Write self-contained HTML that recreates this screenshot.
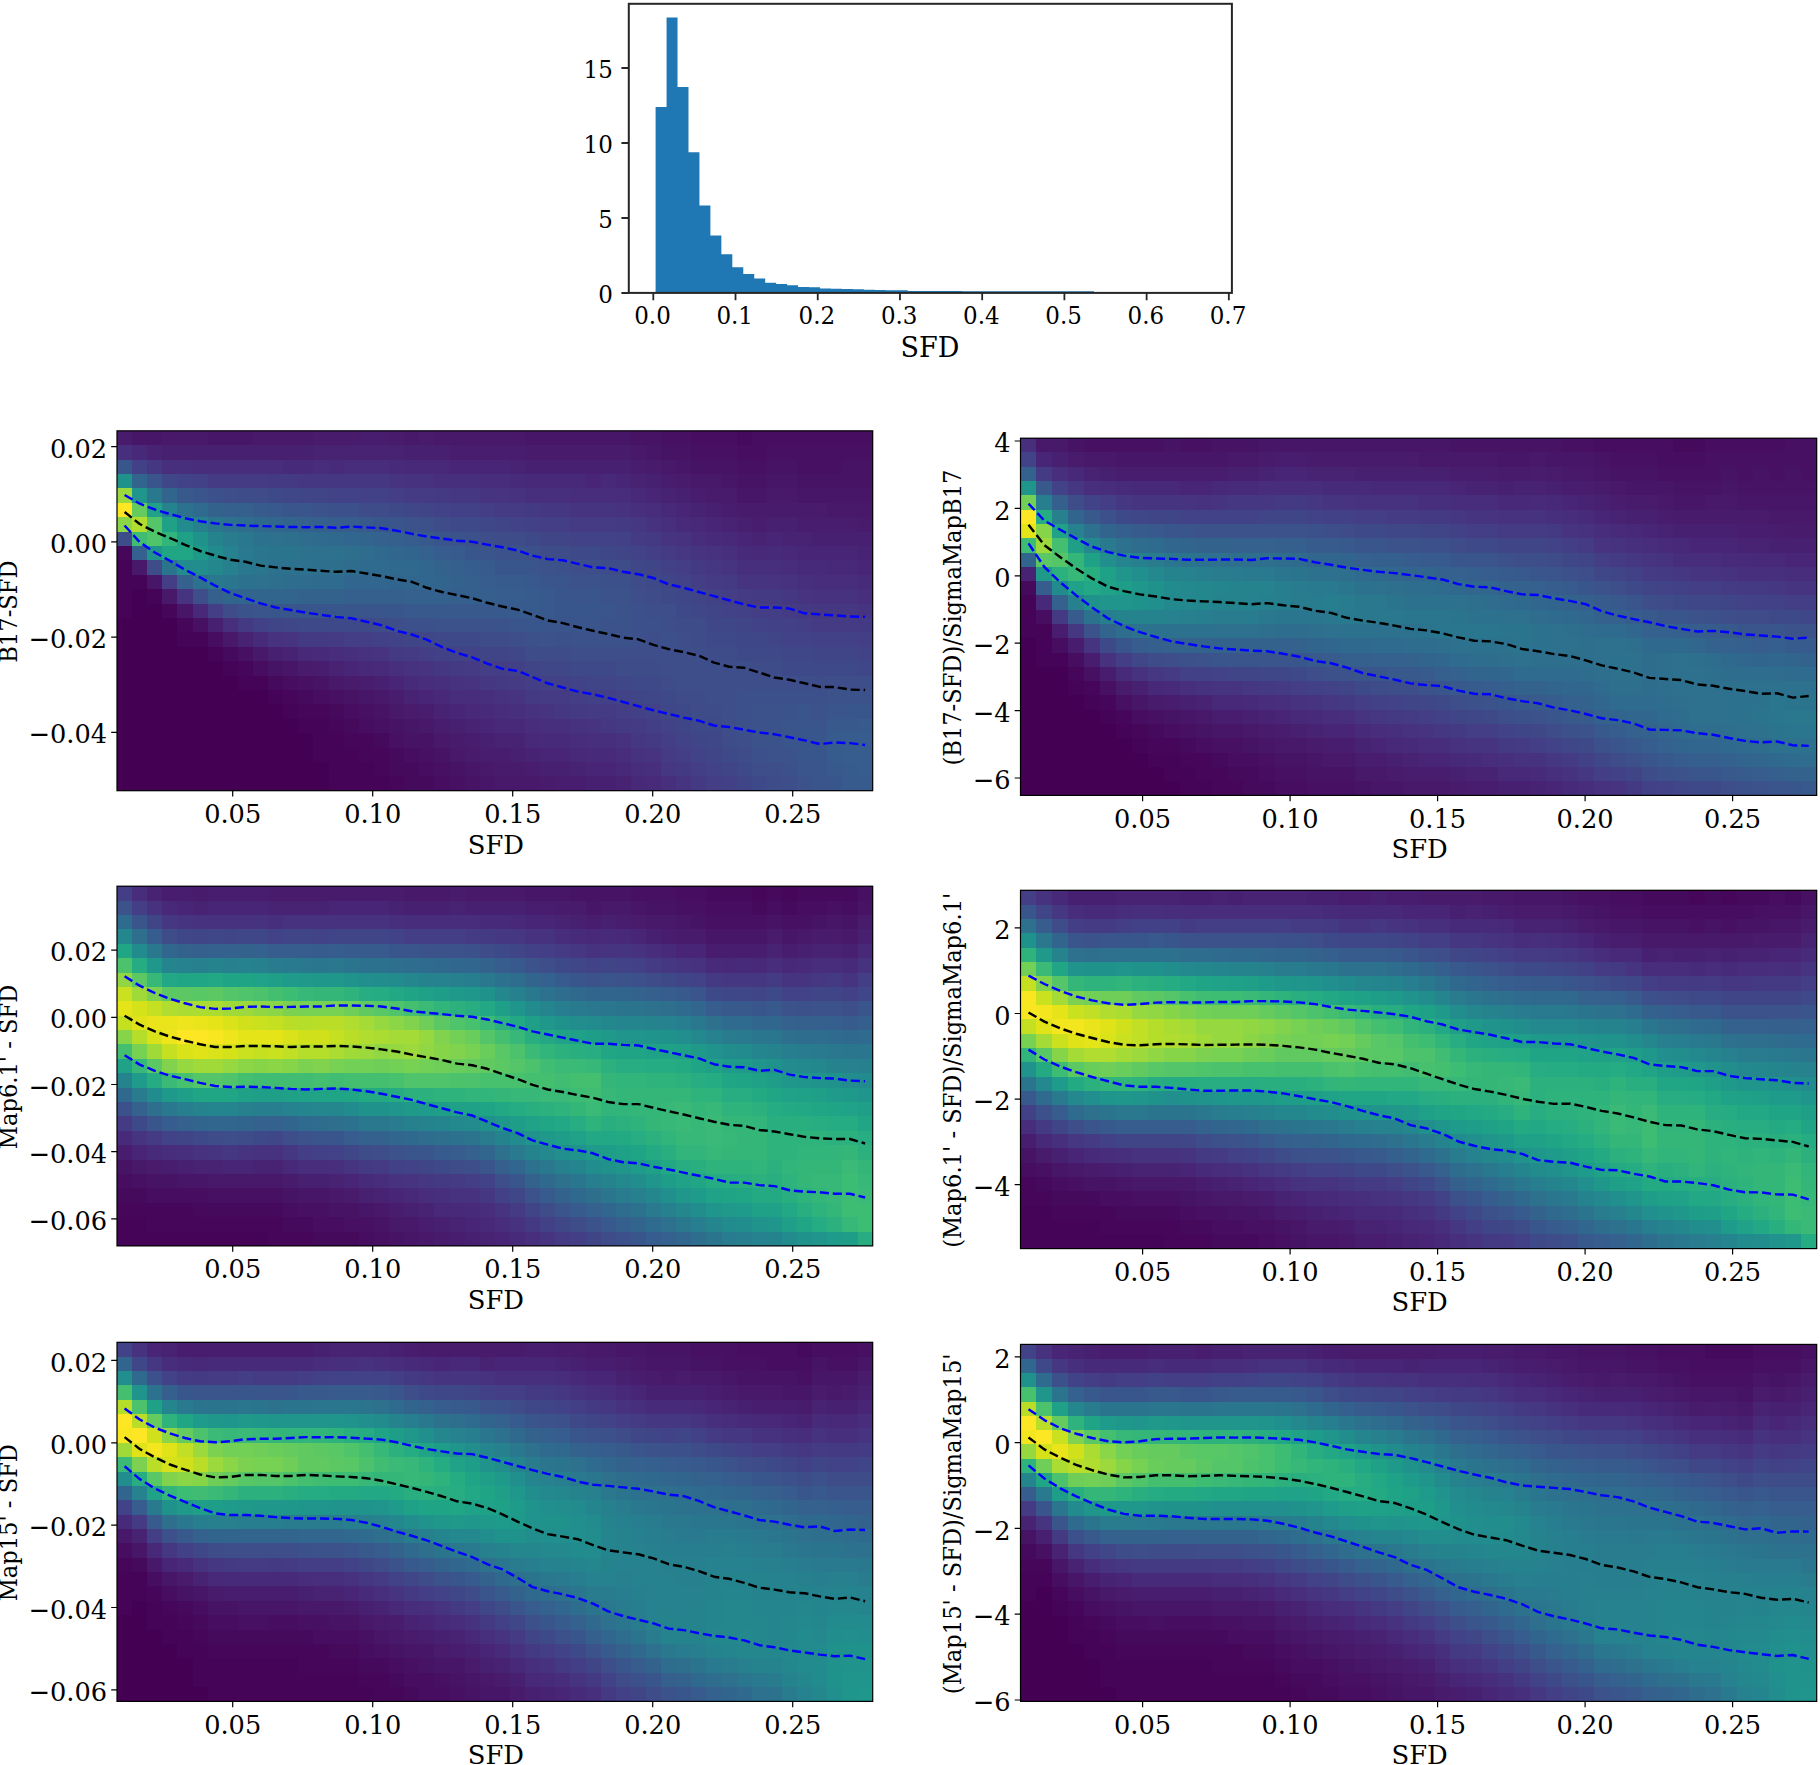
<!DOCTYPE html>
<html><head><meta charset="utf-8"><title>SFD comparison</title>
<style>html,body{margin:0;padding:0;background:#fff}svg{display:block}</style>
</head><body>
<svg width="1820" height="1765" viewBox="0 0 1820 1765" font-family="'DejaVu Serif','Liberation Serif',serif" fill="#000">
<rect width="1820" height="1765" fill="#fff"/>
<path d="M655.60 293.00V107.00H666.56V293.00zM666.56 293.00V17.60H677.52V293.00zM677.52 293.00V86.90H688.48V293.00zM688.48 293.00V152.30H699.44V293.00zM699.44 293.00V205.55H710.40V293.00zM710.40 293.00V235.55H721.36V293.00zM721.36 293.00V254.15H732.32V293.00zM732.32 293.00V267.20H743.28V293.00zM743.28 293.00V273.95H754.24V293.00zM754.24 293.00V278.45H765.20V293.00zM765.20 293.00V282.65H776.16V293.00zM776.16 293.00V284.00H787.12V293.00zM787.12 293.00V285.35H798.08V293.00zM798.08 293.00V287.00H809.04V293.00zM809.04 293.00V287.30H820.00V293.00zM820.00 293.00V288.50H830.96V293.00zM830.96 293.00V288.65H841.92V293.00zM841.92 293.00V288.95H852.88V293.00zM852.88 293.00V289.25H863.84V293.00zM863.84 293.00V289.70H874.80V293.00zM874.80 293.00V290.00H885.76V293.00zM885.76 293.00V290.15H896.72V293.00zM896.72 293.00V290.30H907.68V293.00zM907.68 293.00V290.98H918.64V293.00zM918.64 293.00V291.05H929.60V293.00zM929.60 293.00V291.05H940.56V293.00zM940.56 293.00V291.12H951.52V293.00zM951.52 293.00V291.12H962.48V293.00zM962.48 293.00V291.20H973.44V293.00zM973.44 293.00V291.20H984.40V293.00zM984.40 293.00V291.20H995.36V293.00zM995.36 293.00V291.20H1006.32V293.00zM1006.32 293.00V291.27H1017.28V293.00zM1017.28 293.00V291.27H1028.24V293.00zM1028.24 293.00V291.27H1039.20V293.00zM1039.20 293.00V291.35H1050.16V293.00zM1050.16 293.00V291.35H1061.12V293.00zM1061.12 293.00V291.35H1072.08V293.00zM1072.08 293.00V291.35H1083.04V293.00zM1083.04 293.00V291.35H1094.00V293.00z" fill="#1f77b4"/>
<rect x="628.8" y="3.8" width="603.1" height="289.1" fill="none" stroke="#262626" stroke-width="2.0"/>
<path d="M653.30 292.9v7.4M735.52 292.9v7.4M817.74 292.9v7.4M899.96 292.9v7.4M982.18 292.9v7.4M1064.40 292.9v7.4M1146.62 292.9v7.4M1228.84 292.9v7.4M628.8 293.00h-7.4M628.8 218.00h-7.4M628.8 143.00h-7.4M628.8 68.00h-7.4" stroke="#262626" stroke-width="1.8" fill="none"/>
<g font-size="24.1" text-anchor="middle">
<text transform="translate(652.5,323.9) scale(0.955,1)">0.0</text>
<text transform="translate(734.7,323.9) scale(0.955,1)">0.1</text>
<text transform="translate(816.9,323.9) scale(0.955,1)">0.2</text>
<text transform="translate(899.2,323.9) scale(0.955,1)">0.3</text>
<text transform="translate(981.4,323.9) scale(0.955,1)">0.4</text>
<text transform="translate(1063.6,323.9) scale(0.955,1)">0.5</text>
<text transform="translate(1145.8,323.9) scale(0.955,1)">0.6</text>
<text transform="translate(1228.0,323.9) scale(0.955,1)">0.7</text>
</g>
<g font-size="24.1" text-anchor="end">
<text transform="translate(612.8,302.6) scale(0.955,1)">0</text>
<text transform="translate(612.8,227.6) scale(0.955,1)">5</text>
<text transform="translate(612.8,152.6) scale(0.955,1)">10</text>
<text transform="translate(612.8,77.6) scale(0.955,1)">15</text>
</g>
<text x="929.9" y="357.3" font-size="27.0" text-anchor="middle">SFD</text>
<g transform="translate(117.0,430.8) scale(15.11400,14.39600)" shape-rendering="crispEdges">
<path fill="#481b6d" d="M0 0h1v1h-1zM13 0h3v1h-3zM18 0h1v1h-1zM20 0h1v1h-1zM27 1h7v1h-7zM35 2h1v1h-1zM37 3h1v1h-1zM39 4h2v1h-2zM41 5h6v1h-6zM49 6h1v1h-1zM12 16h1v1h-1zM15 17h1v1h-1zM19 19h1v1h-1zM22 21h1v1h-1zM23 22h1v1h-1zM25 23h2v1h-2zM28 24h1v1h-1z"/>
<path fill="#481668" d="M1 0h2v1h-2zM6 0h3v1h-3zM27 0h7v1h-7zM35 1h1v1h-1zM37 2h1v1h-1zM40 3h1v1h-1zM43 3h2v1h-2zM41 4h2v1h-2zM45 4h5v1h-5zM2 10h1v1h-1zM4 12h1v1h-1zM11 16h1v1h-1zM16 18h1v1h-1zM19 20h1v1h-1zM23 23h1v1h-1zM24 24h1v1h-1z"/>
<path fill="#48186a" d="M3 0h3v1h-3zM9 0h4v1h-4zM19 0h1v1h-1zM21 0h6v1h-6zM34 1h1v1h-1zM36 2h1v1h-1zM38 3h2v1h-2zM43 4h2v1h-2zM47 5h3v1h-3zM1 9h1v1h-1zM3 11h1v1h-1zM7 14h1v1h-1zM9 15h1v1h-1zM14 17h1v1h-1zM17 18h1v1h-1zM18 19h1v1h-1zM20 20h1v1h-1zM21 21h1v1h-1zM22 22h1v1h-1zM24 23h1v1h-1zM25 24h3v1h-3z"/>
<path fill="#481d6f" d="M16 0h2v1h-2zM22 1h5v1h-5zM34 2h1v1h-1zM36 3h1v1h-1zM38 4h1v1h-1zM40 5h1v1h-1zM42 6h1v1h-1zM45 6h4v1h-4zM13 16h1v1h-1zM16 17h1v1h-1zM18 18h1v1h-1zM20 19h1v1h-1zM21 20h1v1h-1zM23 21h1v1h-1zM24 22h2v1h-2zM27 23h1v1h-1zM29 24h2v1h-2z"/>
<path fill="#471365" d="M34 0h2v1h-2zM36 1h2v1h-2zM38 2h3v1h-3zM43 2h2v1h-2zM48 2h2v1h-2zM41 3h2v1h-2zM45 3h5v1h-5zM10 16h1v1h-1zM13 17h1v1h-1zM15 18h1v1h-1zM17 19h1v1h-1zM18 20h1v1h-1zM19 21h2v1h-2zM21 22h1v1h-1zM22 23h1v1h-1zM23 24h1v1h-1z"/>
<path fill="#471063" d="M36 0h2v1h-2zM38 1h3v1h-3zM43 1h7v1h-7zM41 2h2v1h-2zM45 2h3v1h-3zM5 13h1v1h-1zM8 15h1v1h-1zM12 17h1v1h-1zM14 18h1v1h-1zM16 19h1v1h-1zM17 20h1v1h-1zM18 21h1v1h-1zM20 22h1v1h-1zM21 23h1v1h-1zM22 24h1v1h-1z"/>
<path fill="#470d60" d="M38 0h3v1h-3zM42 0h8v1h-8zM41 1h2v1h-2zM6 14h1v1h-1zM9 16h1v1h-1zM11 17h1v1h-1zM13 18h1v1h-1zM15 19h1v1h-1zM16 20h1v1h-1zM19 22h1v1h-1zM20 23h1v1h-1zM21 24h1v1h-1z"/>
<path fill="#460a5d" d="M41 0h1v1h-1zM7 15h1v1h-1zM10 17h1v1h-1zM12 18h1v1h-1zM14 19h1v1h-1zM15 20h1v1h-1zM17 21h1v1h-1zM18 22h1v1h-1zM18 23h2v1h-2zM19 24h2v1h-2z"/>
<path fill="#472f7d" d="M0 1h1v1h-1zM3 2h2v1h-2zM21 3h3v1h-3zM27 4h3v1h-3zM34 5h1v1h-1zM36 6h1v1h-1zM40 8h1v1h-1zM41 9h3v1h-3zM45 10h1v1h-1zM49 11h1v1h-1zM7 13h1v1h-1zM15 15h1v1h-1zM18 16h1v1h-1zM21 17h1v1h-1zM24 18h1v1h-1zM26 19h1v1h-1zM28 20h2v1h-2zM31 21h2v1h-2zM35 23h1v1h-1zM36 24h1v1h-1z"/>
<path fill="#482878" d="M1 1h1v1h-1zM19 2h3v1h-3zM27 3h4v1h-4zM32 3h1v1h-1zM34 4h1v1h-1zM36 5h1v1h-1zM38 6h1v1h-1zM40 7h1v1h-1zM42 8h1v1h-1zM44 8h1v1h-1zM47 9h2v1h-2zM5 12h1v1h-1zM12 15h1v1h-1zM16 16h1v1h-1zM21 18h1v1h-1zM23 19h1v1h-1zM25 20h2v1h-2zM27 21h1v1h-1zM30 22h1v1h-1zM33 23h1v1h-1zM34 24h1v1h-1z"/>
<path fill="#482374" d="M2 1h1v1h-1zM13 1h6v1h-6zM26 2h1v1h-1zM34 3h1v1h-1zM36 4h1v1h-1zM38 5h1v1h-1zM40 6h1v1h-1zM42 7h1v1h-1zM44 7h2v1h-2zM49 8h1v1h-1zM8 14h1v1h-1zM11 15h1v1h-1zM14 16h1v1h-1zM19 18h1v1h-1zM21 19h1v1h-1zM23 20h1v1h-1zM25 21h2v1h-2zM27 22h1v1h-1zM30 23h1v1h-1zM33 24h1v1h-1z"/>
<path fill="#482071" d="M3 1h10v1h-10zM19 1h3v1h-3zM27 2h7v1h-7zM35 3h1v1h-1zM37 4h1v1h-1zM39 5h1v1h-1zM41 6h1v1h-1zM43 6h2v1h-2zM46 7h4v1h-4zM6 13h1v1h-1zM10 15h1v1h-1zM17 17h1v1h-1zM22 20h1v1h-1zM24 21h1v1h-1zM26 22h1v1h-1zM28 23h2v1h-2zM31 24h2v1h-2z"/>
<path fill="#39568c" d="M0 2h1v1h-1zM11 5h1v1h-1zM17 6h1v1h-1zM23 8h1v1h-1zM25 9h2v1h-2zM28 10h1v1h-1zM29 11h1v1h-1zM10 12h6v1h-6zM17 12h2v1h-2zM29 12h3v1h-3zM27 13h2v1h-2zM48 19h2v1h-2zM45 20h1v1h-1zM45 21h2v1h-2zM45 22h2v1h-2zM46 23h1v1h-1zM47 24h1v1h-1z"/>
<path fill="#424086" d="M1 2h1v1h-1zM5 3h1v1h-1zM16 4h2v1h-2zM22 5h2v1h-2zM27 6h1v1h-1zM33 7h1v1h-1zM36 9h1v1h-1zM39 11h1v1h-1zM41 12h1v1h-1zM9 13h1v1h-1zM43 13h2v1h-2zM17 14h1v1h-1zM46 14h3v1h-3zM21 15h1v1h-1zM26 16h1v1h-1zM28 17h2v1h-2zM31 18h2v1h-2zM34 19h1v1h-1zM40 24h1v1h-1z"/>
<path fill="#453781" d="M2 2h1v1h-1zM12 3h6v1h-6zM22 4h2v1h-2zM28 5h2v1h-2zM34 6h1v1h-1zM37 8h1v1h-1zM39 9h1v1h-1zM44 11h1v1h-1zM46 12h3v1h-3zM21 16h1v1h-1zM24 17h1v1h-1zM29 19h1v1h-1zM32 20h1v1h-1zM34 21h1v1h-1zM36 23h1v1h-1z"/>
<path fill="#472d7b" d="M5 2h6v1h-6zM13 2h1v1h-1zM15 2h3v1h-3zM24 3h2v1h-2zM30 4h4v1h-4zM35 5h1v1h-1zM38 7h1v1h-1zM44 9h1v1h-1zM46 10h3v1h-3zM14 15h1v1h-1zM20 17h1v1h-1zM22 18h2v1h-2zM25 19h1v1h-1zM27 20h1v1h-1zM30 21h1v1h-1zM33 22h1v1h-1zM34 23h1v1h-1z"/>
<path fill="#472a7a" d="M11 2h2v1h-2zM14 2h1v1h-1zM18 2h1v1h-1zM26 3h1v1h-1zM37 6h1v1h-1zM39 7h1v1h-1zM41 8h1v1h-1zM43 8h1v1h-1zM45 9h2v1h-2zM49 10h1v1h-1zM9 14h1v1h-1zM13 15h1v1h-1zM17 16h1v1h-1zM19 17h1v1h-1zM24 19h1v1h-1zM28 21h2v1h-2zM31 22h2v1h-2zM35 24h1v1h-1z"/>
<path fill="#482576" d="M22 2h4v1h-4zM31 3h1v1h-1zM33 3h1v1h-1zM35 4h1v1h-1zM37 5h1v1h-1zM39 6h1v1h-1zM41 7h1v1h-1zM43 7h1v1h-1zM45 8h4v1h-4zM49 9h1v1h-1zM15 16h1v1h-1zM18 17h1v1h-1zM20 18h1v1h-1zM22 19h1v1h-1zM24 20h1v1h-1zM28 22h2v1h-2zM31 23h2v1h-2z"/>
<path fill="#20928c" d="M0 3h1v1h-1zM5 7h1v1h-1z"/>
<path fill="#32658e" d="M1 3h1v1h-1zM3 4h1v1h-1zM11 6h1v1h-1zM16 7h1v1h-1zM19 8h1v1h-1zM18 10h1v1h-1zM21 10h1v1h-1zM7 11h5v1h-5z"/>
<path fill="#3a548c" d="M2 3h1v1h-1zM5 4h1v1h-1zM12 5h1v1h-1zM18 6h1v1h-1zM21 7h1v1h-1zM24 8h1v1h-1zM27 9h1v1h-1zM29 10h1v1h-1zM30 11h2v1h-2zM9 12h1v1h-1zM16 12h1v1h-1zM32 12h1v1h-1zM26 13h1v1h-1zM29 13h3v1h-3zM45 19h1v1h-1zM47 19h1v1h-1zM44 20h1v1h-1zM46 20h1v1h-1zM44 21h1v1h-1zM45 23h1v1h-1zM46 24h1v1h-1z"/>
<path fill="#3f4788" d="M3 3h1v1h-1zM11 4h1v1h-1zM19 5h1v1h-1zM24 6h1v1h-1zM32 8h1v1h-1zM34 9h1v1h-1zM37 11h1v1h-1zM38 12h1v1h-1zM11 13h1v1h-1zM39 13h2v1h-2zM20 14h1v1h-1zM41 14h2v1h-2zM26 15h1v1h-1zM44 15h2v1h-2zM28 16h2v1h-2zM49 16h1v1h-1zM33 17h1v1h-1zM35 18h1v1h-1zM36 19h1v1h-1zM39 21h1v1h-1z"/>
<path fill="#414287" d="M4 3h1v1h-1zM14 4h2v1h-2zM21 5h1v1h-1zM26 6h1v1h-1zM30 7h3v1h-3zM34 8h1v1h-1zM37 10h1v1h-1zM40 12h1v1h-1zM42 13h1v1h-1zM18 14h1v1h-1zM44 14h2v1h-2zM22 15h2v1h-2zM49 15h1v1h-1zM30 17h1v1h-1zM33 18h1v1h-1zM35 19h1v1h-1zM36 20h1v1h-1zM37 21h1v1h-1zM38 22h1v1h-1zM39 23h1v1h-1z"/>
<path fill="#443b84" d="M6 3h4v1h-4zM19 4h2v1h-2zM25 5h2v1h-2zM30 6h3v1h-3zM34 7h1v1h-1zM36 8h1v1h-1zM39 10h1v1h-1zM41 11h1v1h-1zM44 12h1v1h-1zM46 13h3v1h-3zM14 14h1v1h-1zM19 15h1v1h-1zM23 16h1v1h-1zM26 17h1v1h-1zM28 18h2v1h-2zM31 19h2v1h-2zM34 20h1v1h-1zM36 22h1v1h-1z"/>
<path fill="#443983" d="M10 3h2v1h-2zM21 4h1v1h-1zM27 5h1v1h-1zM33 6h1v1h-1zM35 7h1v1h-1zM38 9h1v1h-1zM40 10h1v1h-1zM42 11h2v1h-2zM45 12h1v1h-1zM8 13h1v1h-1zM49 13h1v1h-1zM12 14h2v1h-2zM18 15h1v1h-1zM22 16h1v1h-1zM25 17h1v1h-1zM27 18h1v1h-1zM30 19h1v1h-1zM33 20h1v1h-1zM35 21h1v1h-1zM37 23h1v1h-1zM38 24h1v1h-1z"/>
<path fill="#463480" d="M18 3h1v1h-1zM24 4h2v1h-2zM30 5h3v1h-3zM36 7h1v1h-1zM38 8h1v1h-1zM40 9h1v1h-1zM41 10h3v1h-3zM4 11h1v1h-1zM45 11h1v1h-1zM49 12h1v1h-1zM11 14h1v1h-1zM17 15h1v1h-1zM20 16h1v1h-1zM23 17h1v1h-1zM26 18h1v1h-1zM28 19h1v1h-1zM31 20h1v1h-1zM35 22h1v1h-1zM37 24h1v1h-1z"/>
<path fill="#46327e" d="M19 3h2v1h-2zM26 4h1v1h-1zM33 5h1v1h-1zM35 6h1v1h-1zM37 7h1v1h-1zM39 8h1v1h-1zM44 10h1v1h-1zM46 11h3v1h-3zM10 14h1v1h-1zM16 15h1v1h-1zM19 16h1v1h-1zM22 17h1v1h-1zM25 18h1v1h-1zM27 19h1v1h-1zM30 20h1v1h-1zM33 21h1v1h-1zM34 22h1v1h-1z"/>
<path fill="#9bd93c" d="M0 4h1v1h-1z"/>
<path fill="#1f958b" d="M1 4h1v1h-1zM2 8h1v1h-1z"/>
<path fill="#2a788e" d="M2 4h1v1h-1zM8 7h1v1h-1zM8 9h1v1h-1zM6 10h1v1h-1z"/>
<path fill="#38598c" d="M4 4h1v1h-1zM10 5h1v1h-1zM16 6h1v1h-1zM20 7h1v1h-1zM27 10h1v1h-1zM28 11h1v1h-1zM19 12h7v1h-7zM28 12h1v1h-1zM47 20h2v1h-2zM47 23h1v1h-1z"/>
<path fill="#3c508b" d="M6 4h1v1h-1zM14 5h2v1h-2zM20 6h1v1h-1zM23 7h1v1h-1zM27 8h1v1h-1zM29 9h1v1h-1zM32 10h2v1h-2zM34 12h1v1h-1zM19 13h2v1h-2zM34 13h2v1h-2zM27 14h1v1h-1zM29 14h1v1h-1zM34 14h1v1h-1zM36 14h1v1h-1zM41 18h6v1h-6zM41 19h1v1h-1zM41 20h1v1h-1zM42 22h1v1h-1zM44 23h1v1h-1z"/>
<path fill="#3d4e8a" d="M7 4h1v1h-1zM24 7h1v1h-1zM30 9h2v1h-2zM5 11h1v1h-1zM34 11h1v1h-1zM35 12h2v1h-2zM18 13h1v1h-1zM36 13h1v1h-1zM26 14h1v1h-1zM35 14h1v1h-1zM37 14h1v1h-1zM30 15h9v1h-9zM36 16h6v1h-6zM37 17h9v1h-9zM47 17h3v1h-3zM39 18h2v1h-2zM40 19h1v1h-1zM40 20h1v1h-1zM41 21h1v1h-1zM42 23h2v1h-2zM44 24h1v1h-1z"/>
<path fill="#3e4c8a" d="M8 4h2v1h-2zM16 5h2v1h-2zM21 6h1v1h-1zM0 7h1v1h-1zM25 7h2v1h-2zM28 8h2v1h-2zM2 9h1v1h-1zM32 9h2v1h-2zM34 10h1v1h-1zM35 11h1v1h-1zM7 12h1v1h-1zM17 13h1v1h-1zM37 13h2v1h-2zM24 14h2v1h-2zM38 14h1v1h-1zM27 15h3v1h-3zM39 15h2v1h-2zM33 16h3v1h-3zM42 16h2v1h-2zM36 17h1v1h-1zM46 17h1v1h-1zM37 18h2v1h-2zM38 19h2v1h-2zM40 21h1v1h-1zM41 22h1v1h-1zM43 24h1v1h-1z"/>
<path fill="#3e4989" d="M10 4h1v1h-1zM18 5h1v1h-1zM22 6h2v1h-2zM27 7h1v1h-1zM30 8h2v1h-2zM35 10h1v1h-1zM36 11h1v1h-1zM37 12h1v1h-1zM12 13h5v1h-5zM21 14h3v1h-3zM39 14h2v1h-2zM41 15h3v1h-3zM30 16h3v1h-3zM44 16h5v1h-5zM34 17h2v1h-2zM36 18h1v1h-1zM37 19h1v1h-1zM38 20h2v1h-2zM40 22h1v1h-1zM41 23h1v1h-1zM42 24h1v1h-1z"/>
<path fill="#404588" d="M12 4h2v1h-2zM20 5h1v1h-1zM25 6h1v1h-1zM28 7h2v1h-2zM33 8h1v1h-1zM35 9h1v1h-1zM36 10h1v1h-1zM38 11h1v1h-1zM39 12h1v1h-1zM10 13h1v1h-1zM41 13h1v1h-1zM19 14h1v1h-1zM43 14h1v1h-1zM24 15h2v1h-2zM46 15h3v1h-3zM27 16h1v1h-1zM31 17h2v1h-2zM34 18h1v1h-1zM37 20h1v1h-1zM38 21h1v1h-1zM39 22h1v1h-1zM40 23h1v1h-1zM41 24h1v1h-1z"/>
<path fill="#433e85" d="M18 4h1v1h-1zM24 5h1v1h-1zM28 6h2v1h-2zM35 8h1v1h-1zM37 9h1v1h-1zM3 10h1v1h-1zM38 10h1v1h-1zM40 11h1v1h-1zM6 12h1v1h-1zM42 12h2v1h-2zM45 13h1v1h-1zM15 14h2v1h-2zM49 14h1v1h-1zM20 15h1v1h-1zM24 16h2v1h-2zM27 17h1v1h-1zM30 18h1v1h-1zM33 19h1v1h-1zM35 20h1v1h-1zM36 21h1v1h-1zM37 22h1v1h-1zM38 23h1v1h-1zM39 24h1v1h-1z"/>
<path fill="#fde725" d="M0 5h1v1h-1z"/>
<path fill="#65cb5e" d="M1 5h1v1h-1z"/>
<path fill="#1fa287" d="M2 5h1v1h-1z"/>
<path fill="#25838e" d="M3 5h1v1h-1zM6 7h1v1h-1z"/>
<path fill="#2c728e" d="M4 5h1v1h-1zM9 7h1v1h-1zM12 8h1v1h-1zM10 9h2v1h-2zM5 10h1v1h-1zM8 10h1v1h-1z"/>
<path fill="#2f6b8e" d="M5 5h1v1h-1zM13 7h1v1h-1zM16 9h2v1h-2zM13 10h2v1h-2z"/>
<path fill="#33638d" d="M6 5h1v1h-1zM21 9h1v1h-1zM22 10h1v1h-1zM12 11h3v1h-3z"/>
<path fill="#355f8d" d="M7 5h2v1h-2zM13 6h1v1h-1zM18 7h1v1h-1zM22 9h1v1h-1zM23 10h1v1h-1zM6 11h1v1h-1zM15 11h4v1h-4zM22 11h3v1h-3z"/>
<path fill="#375b8d" d="M9 5h1v1h-1zM22 8h1v1h-1zM24 9h1v1h-1zM25 10h2v1h-2zM27 11h1v1h-1zM26 12h2v1h-2zM49 20h1v1h-1zM47 21h1v1h-1zM47 22h1v1h-1zM48 23h1v1h-1zM48 24h2v1h-2z"/>
<path fill="#3b528b" d="M13 5h1v1h-1zM19 6h1v1h-1zM22 7h1v1h-1zM25 8h2v1h-2zM28 9h1v1h-1zM30 10h2v1h-2zM32 11h2v1h-2zM8 12h1v1h-1zM33 12h1v1h-1zM21 13h5v1h-5zM32 13h2v1h-2zM28 14h1v1h-1zM30 14h4v1h-4zM47 18h3v1h-3zM42 19h3v1h-3zM46 19h1v1h-1zM42 20h2v1h-2zM42 21h2v1h-2zM43 22h2v1h-2zM45 24h1v1h-1z"/>
<path fill="#8bd646" d="M0 6h1v1h-1z"/>
<path fill="#b0dd2f" d="M1 6h1v1h-1z"/>
<path fill="#54c568" d="M2 6h1v1h-1z"/>
<path fill="#1fa188" d="M3 6h1v1h-1zM4 7h1v1h-1z"/>
<path fill="#228b8d" d="M4 6h1v1h-1zM6 8h1v1h-1zM4 9h1v1h-1z"/>
<path fill="#27808e" d="M5 6h1v1h-1zM7 9h1v1h-1z"/>
<path fill="#2a768e" d="M6 6h1v1h-1zM9 8h1v1h-1zM9 9h1v1h-1zM7 10h1v1h-1z"/>
<path fill="#2d718e" d="M7 6h1v1h-1zM10 7h1v1h-1zM13 8h2v1h-2zM12 9h1v1h-1zM9 10h1v1h-1z"/>
<path fill="#2e6d8e" d="M8 6h1v1h-1zM12 7h1v1h-1zM16 8h1v1h-1zM15 9h1v1h-1zM11 10h2v1h-2z"/>
<path fill="#30698e" d="M9 6h1v1h-1zM14 7h1v1h-1zM17 8h1v1h-1zM18 9h2v1h-2z"/>
<path fill="#31678e" d="M10 6h1v1h-1zM15 7h1v1h-1zM18 8h1v1h-1zM20 9h1v1h-1zM15 10h3v1h-3zM19 10h2v1h-2z"/>
<path fill="#34618d" d="M12 6h1v1h-1zM17 7h1v1h-1zM1 8h1v1h-1zM20 8h1v1h-1zM4 10h1v1h-1zM19 11h3v1h-3z"/>
<path fill="#365d8d" d="M14 6h2v1h-2zM19 7h1v1h-1zM21 8h1v1h-1zM23 9h1v1h-1zM24 10h1v1h-1zM25 11h2v1h-2zM48 21h2v1h-2zM48 22h2v1h-2zM49 23h1v1h-1z"/>
<path fill="#40bd72" d="M1 7h1v1h-1z"/>
<path fill="#50c46a" d="M2 7h1v1h-1z"/>
<path fill="#31b57b" d="M3 7h1v1h-1z"/>
<path fill="#287c8e" d="M7 7h1v1h-1z"/>
<path fill="#2e6f8e" d="M11 7h1v1h-1zM15 8h1v1h-1zM13 9h2v1h-2zM10 10h1v1h-1z"/>
<path fill="#46075a" d="M0 8h1v1h-1zM3 12h1v1h-1zM4 13h1v1h-1zM8 16h1v1h-1zM11 18h1v1h-1zM12 19h2v1h-2zM14 20h1v1h-1zM15 21h2v1h-2zM16 22h2v1h-2zM17 23h1v1h-1zM18 24h1v1h-1z"/>
<path fill="#21a685" d="M3 8h2v1h-2z"/>
<path fill="#1f998a" d="M5 8h1v1h-1z"/>
<path fill="#26828e" d="M7 8h1v1h-1z"/>
<path fill="#297a8e" d="M8 8h1v1h-1z"/>
<path fill="#2b748e" d="M10 8h2v1h-2zM3 9h1v1h-1z"/>
<path fill="#450457" d="M0 9h1v1h-1zM0 10h2v1h-2zM0 11h1v1h-1zM2 11h1v1h-1zM0 12h1v1h-1zM4 14h2v1h-2zM6 15h1v1h-1zM7 16h1v1h-1zM8 17h2v1h-2zM10 18h1v1h-1zM11 19h1v1h-1zM12 20h2v1h-2zM13 21h2v1h-2zM13 22h3v1h-3zM14 23h3v1h-3zM14 24h4v1h-4z"/>
<path fill="#228d8d" d="M5 9h1v1h-1z"/>
<path fill="#24878e" d="M6 9h1v1h-1z"/>
<path fill="#440154" d="M1 11h1v1h-1zM1 12h2v1h-2zM0 13h4v1h-4zM0 14h4v1h-4zM0 15h6v1h-6zM0 16h7v1h-7zM0 17h8v1h-8zM0 18h10v1h-10zM0 19h11v1h-11zM0 20h12v1h-12zM0 21h13v1h-13zM0 22h13v1h-13zM0 23h14v1h-14zM0 24h14v1h-14z"/>
</g>
<polyline points="124.6,495.0 139.7,503.7 154.8,509.5 169.9,514.1 185.0,518.2 200.1,521.3 215.2,523.4 230.4,524.9 245.5,525.5 260.6,526.1 275.7,526.5 290.8,527.0 305.9,527.2 321.0,527.0 336.2,527.8 351.3,526.5 366.4,527.4 381.5,528.2 396.6,530.7 411.7,533.8 426.8,536.5 442.0,538.6 457.1,540.7 472.2,541.7 487.3,544.6 502.4,547.3 517.5,550.4 532.6,555.6 547.7,559.1 562.9,560.2 578.0,563.9 593.1,567.4 608.2,568.1 623.3,571.8 638.4,574.3 653.5,578.0 668.7,584.3 683.8,587.8 698.9,592.0 714.0,596.1 729.1,600.3 744.2,604.4 759.3,607.5 774.5,607.5 789.6,608.6 804.7,613.3 819.8,614.4 834.9,615.4 850.0,616.5 865.1,616.9" fill="none" stroke="#0000ff" stroke-width="2.45" stroke-dasharray="9.1 3.9" stroke-linejoin="round"/>
<polyline points="124.6,525.5 139.7,542.1 154.8,552.5 169.9,560.8 185.0,569.7 200.1,577.4 215.2,585.7 230.4,593.0 245.5,598.2 260.6,603.4 275.7,607.5 290.8,610.0 305.9,612.7 321.0,614.8 336.2,616.9 351.3,618.3 366.4,621.7 381.5,625.2 396.6,630.8 411.7,634.5 426.8,639.7 442.0,647.0 457.1,652.8 472.2,657.4 487.3,663.6 502.4,668.8 517.5,670.9 532.6,677.1 547.7,683.3 562.9,687.5 578.0,691.6 593.1,694.3 608.2,697.9 623.3,702.0 638.4,706.2 653.5,710.3 668.7,713.9 683.8,717.6 698.9,720.7 714.0,725.5 729.1,727.0 744.2,729.7 759.3,732.6 774.5,734.2 789.6,737.3 804.7,740.4 819.8,744.0 834.9,742.5 850.0,743.1 865.1,745.0" fill="none" stroke="#0000ff" stroke-width="2.45" stroke-dasharray="9.1 3.9" stroke-linejoin="round"/>
<polyline points="124.6,512.0 139.7,524.0 154.8,531.7 169.9,538.0 185.0,544.8 200.1,551.0 215.2,555.6 230.4,559.8 245.5,561.8 260.6,565.6 275.7,567.4 290.8,568.7 305.9,569.7 321.0,570.8 336.2,571.8 351.3,571.0 366.4,573.5 381.5,576.0 396.6,579.3 411.7,581.8 426.8,587.8 442.0,592.0 457.1,595.1 472.2,598.2 487.3,602.8 502.4,606.5 517.5,609.6 532.6,614.8 547.7,620.4 562.9,623.1 578.0,627.3 593.1,630.8 608.2,634.1 623.3,637.6 638.4,639.3 653.5,644.9 668.7,649.1 683.8,652.2 698.9,655.7 714.0,662.6 729.1,666.7 744.2,667.8 759.3,672.5 774.5,677.5 789.6,679.8 804.7,683.3 819.8,686.9 834.9,687.1 850.0,689.6 865.1,690.0" fill="none" stroke="#000" stroke-width="2.45" stroke-dasharray="9.1 3.9" stroke-linejoin="round"/>
<rect x="117.0" y="430.8" width="755.7" height="359.9" fill="none" stroke="#000" stroke-width="1.2"/>
<path d="M232.70 790.7v5.8M372.70 790.7v5.8M512.70 790.7v5.8M652.70 790.7v5.8M792.70 790.7v5.8M117.0 446.70h-5.8M117.0 541.90h-5.8M117.0 637.10h-5.8M117.0 732.30h-5.8" stroke="#000" stroke-width="1.2" fill="none"/>
<g font-size="26.7" text-anchor="middle">
<text transform="translate(232.7,823.1) scale(0.96,1)">0.05</text>
<text transform="translate(372.7,823.1) scale(0.96,1)">0.10</text>
<text transform="translate(512.7,823.1) scale(0.96,1)">0.15</text>
<text transform="translate(652.7,823.1) scale(0.96,1)">0.20</text>
<text transform="translate(792.7,823.1) scale(0.96,1)">0.25</text>
</g>
<g font-size="26.7" text-anchor="end">
<text transform="translate(107.1,457.8) scale(0.96,1)">0.02</text>
<text transform="translate(107.1,553.0) scale(0.96,1)">0.00</text>
<text transform="translate(107.1,648.2) scale(0.96,1)">−0.02</text>
<text transform="translate(107.1,743.4) scale(0.96,1)">−0.04</text>
</g>
<text x="495.9" y="853.5" font-size="25.8" text-anchor="middle">SFD</text>
<text transform="translate(17.1,611.6) rotate(-90) scale(0.956,1)" font-size="23.65" text-anchor="middle">B17-SFD</text>
<g transform="translate(1020.5,438.2) scale(15.92400,14.28800)" shape-rendering="crispEdges">
<path fill="#472f7d" d="M0 0h1v1h-1zM2 2h1v1h-1zM4 3h1v1h-1zM25 4h2v1h-2zM33 5h1v1h-1zM38 7h1v1h-1zM45 9h3v1h-3zM10 17h1v1h-1zM16 18h1v1h-1zM20 19h1v1h-1zM23 20h1v1h-1zM30 22h1v1h-1zM33 23h1v1h-1z"/>
<path fill="#48186a" d="M1 0h2v1h-2zM4 1h2v1h-2zM13 1h2v1h-2zM25 1h5v1h-5zM32 1h1v1h-1zM34 2h2v1h-2zM37 3h1v1h-1zM40 4h1v1h-1zM43 4h2v1h-2zM47 5h3v1h-3zM11 19h1v1h-1zM14 20h1v1h-1zM16 21h2v1h-2zM19 22h2v1h-2zM21 23h2v1h-2zM24 24h3v1h-3z"/>
<path fill="#471365" d="M3 0h1v1h-1zM9 0h1v1h-1zM12 0h3v1h-3zM27 0h7v1h-7zM36 1h1v1h-1zM37 2h3v1h-3zM44 2h1v1h-1zM46 2h1v1h-1zM48 2h1v1h-1zM41 3h3v1h-3zM45 3h5v1h-5zM9 19h1v1h-1zM11 20h1v1h-1zM14 21h1v1h-1zM16 22h2v1h-2zM18 23h3v1h-3zM21 24h1v1h-1z"/>
<path fill="#471063" d="M4 0h5v1h-5zM10 0h2v1h-2zM34 0h2v1h-2zM48 0h2v1h-2zM37 1h3v1h-3zM43 1h7v1h-7zM40 2h4v1h-4zM45 2h1v1h-1zM47 2h1v1h-1zM49 2h1v1h-1zM4 16h1v1h-1zM5 17h1v1h-1zM6 18h1v1h-1zM8 19h1v1h-1zM10 20h1v1h-1zM12 21h2v1h-2zM15 22h1v1h-1zM16 23h2v1h-2zM18 24h3v1h-3z"/>
<path fill="#481668" d="M15 0h12v1h-12zM6 1h7v1h-7zM30 1h2v1h-2zM33 1h3v1h-3zM36 2h1v1h-1zM38 3h3v1h-3zM44 3h1v1h-1zM41 4h2v1h-2zM45 4h5v1h-5zM7 18h1v1h-1zM10 19h1v1h-1zM12 20h2v1h-2zM15 21h1v1h-1zM18 22h1v1h-1zM22 24h2v1h-2z"/>
<path fill="#470d60" d="M36 0h5v1h-5zM43 0h5v1h-5zM40 1h3v1h-3zM1 12h1v1h-1zM2 14h1v1h-1zM3 15h1v1h-1zM7 19h1v1h-1zM9 20h1v1h-1zM11 21h1v1h-1zM13 22h2v1h-2zM15 23h1v1h-1zM16 24h2v1h-2z"/>
<path fill="#460a5d" d="M41 0h2v1h-2zM0 10h1v1h-1zM8 20h1v1h-1zM10 21h1v1h-1zM12 22h1v1h-1zM13 23h2v1h-2zM14 24h2v1h-2z"/>
<path fill="#414287" d="M0 1h1v1h-1zM2 3h1v1h-1zM4 4h1v1h-1zM10 5h5v1h-5zM18 5h1v1h-1zM33 7h1v1h-1zM40 10h1v1h-1zM45 11h1v1h-1zM12 16h1v1h-1zM19 17h1v1h-1zM23 18h1v1h-1zM30 20h1v1h-1zM33 21h1v1h-1zM40 24h1v1h-1z"/>
<path fill="#482576" d="M1 1h1v1h-1zM16 2h2v1h-2zM10 3h2v1h-2zM27 3h1v1h-1zM34 4h1v1h-1zM36 5h1v1h-1zM39 6h1v1h-1zM42 7h3v1h-3zM48 8h2v1h-2zM16 19h1v1h-1zM19 20h2v1h-2zM22 21h1v1h-1zM25 22h2v1h-2zM33 24h1v1h-1z"/>
<path fill="#482071" d="M2 1h1v1h-1zM5 2h1v1h-1zM13 2h2v1h-2zM21 2h6v1h-6zM30 3h1v1h-1zM33 3h1v1h-1zM36 4h1v1h-1zM38 5h2v1h-2zM41 6h4v1h-4zM47 7h3v1h-3zM7 17h1v1h-1zM10 18h1v1h-1zM14 19h1v1h-1zM17 20h1v1h-1zM23 22h1v1h-1zM27 23h1v1h-1zM30 24h2v1h-2z"/>
<path fill="#481b6d" d="M3 1h1v1h-1zM15 1h1v1h-1zM18 1h7v1h-7zM30 2h2v1h-2zM33 2h1v1h-1zM36 3h1v1h-1zM38 4h2v1h-2zM41 5h6v1h-6zM48 6h2v1h-2zM6 17h1v1h-1zM8 18h1v1h-1zM15 20h1v1h-1zM18 21h1v1h-1zM23 23h1v1h-1zM27 24h1v1h-1z"/>
<path fill="#481d6f" d="M16 1h2v1h-2zM6 2h7v1h-7zM27 2h3v1h-3zM32 2h1v1h-1zM34 3h2v1h-2zM37 4h1v1h-1zM40 5h1v1h-1zM45 6h3v1h-3zM2 13h1v1h-1zM3 14h1v1h-1zM4 15h1v1h-1zM5 16h1v1h-1zM9 18h1v1h-1zM12 19h2v1h-2zM16 20h1v1h-1zM19 21h2v1h-2zM21 22h2v1h-2zM24 23h3v1h-3zM28 24h2v1h-2z"/>
<path fill="#34618d" d="M0 2h1v1h-1zM13 7h3v1h-3zM21 8h1v1h-1zM27 9h1v1h-1zM31 10h2v1h-2zM2 11h1v1h-1zM37 12h1v1h-1zM39 13h2v1h-2zM9 14h1v1h-1zM16 14h1v1h-1zM44 14h1v1h-1zM22 15h2v1h-2zM27 16h1v1h-1zM34 18h1v1h-1zM36 19h1v1h-1zM38 20h1v1h-1zM40 21h1v1h-1zM44 22h1v1h-1z"/>
<path fill="#443b84" d="M1 2h1v1h-1zM23 5h2v1h-2zM30 6h3v1h-3zM35 7h1v1h-1zM37 8h1v1h-1zM39 9h1v1h-1zM44 10h1v1h-1zM9 16h1v1h-1zM16 17h1v1h-1zM24 19h1v1h-1zM31 21h1v1h-1zM34 22h1v1h-1z"/>
<path fill="#482878" d="M3 2h1v1h-1zM7 3h3v1h-3zM12 3h1v1h-1zM22 3h5v1h-5zM30 4h2v1h-2zM33 4h1v1h-1zM38 6h1v1h-1zM41 7h1v1h-1zM46 8h2v1h-2zM1 11h1v1h-1zM8 17h1v1h-1zM12 18h2v1h-2zM17 19h1v1h-1zM23 21h1v1h-1zM27 22h1v1h-1zM30 23h2v1h-2z"/>
<path fill="#482374" d="M4 2h1v1h-1zM15 2h1v1h-1zM18 2h3v1h-3zM28 3h2v1h-2zM31 3h2v1h-2zM35 4h1v1h-1zM37 5h1v1h-1zM40 6h1v1h-1zM45 7h2v1h-2zM0 9h1v1h-1zM11 18h1v1h-1zM15 19h1v1h-1zM18 20h1v1h-1zM21 21h1v1h-1zM24 22h1v1h-1zM28 23h2v1h-2zM32 24h1v1h-1z"/>
<path fill="#1f958b" d="M0 3h1v1h-1zM6 9h1v1h-1zM5 11h2v1h-2z"/>
<path fill="#38598c" d="M1 3h1v1h-1zM4 5h1v1h-1zM8 6h1v1h-1zM20 7h1v1h-1zM31 9h1v1h-1zM37 11h1v1h-1zM39 12h1v1h-1zM44 13h1v1h-1zM18 15h1v1h-1zM23 16h2v1h-2zM27 17h1v1h-1zM31 18h1v1h-1zM34 19h1v1h-1zM36 20h1v1h-1zM38 21h1v1h-1zM40 22h1v1h-1zM44 23h1v1h-1zM49 24h1v1h-1z"/>
<path fill="#453781" d="M3 3h1v1h-1zM6 4h1v1h-1zM13 4h3v1h-3zM18 4h1v1h-1zM27 5h1v1h-1zM38 8h1v1h-1zM41 9h1v1h-1zM47 10h1v1h-1zM3 13h1v1h-1zM8 16h1v1h-1zM14 17h1v1h-1zM19 18h1v1h-1zM22 19h1v1h-1zM26 20h1v1h-1zM33 22h1v1h-1zM35 23h1v1h-1z"/>
<path fill="#472d7b" d="M5 3h1v1h-1zM15 3h4v1h-4zM27 4h3v1h-3zM34 5h1v1h-1zM36 6h1v1h-1zM39 7h1v1h-1zM41 8h3v1h-3zM48 9h2v1h-2zM15 18h1v1h-1zM19 19h1v1h-1zM22 20h1v1h-1zM25 21h2v1h-2zM29 22h1v1h-1zM35 24h1v1h-1z"/>
<path fill="#472a7a" d="M6 3h1v1h-1zM13 3h2v1h-2zM19 3h3v1h-3zM32 4h1v1h-1zM35 5h1v1h-1zM37 6h1v1h-1zM40 7h1v1h-1zM44 8h2v1h-2zM6 16h1v1h-1zM9 17h1v1h-1zM14 18h1v1h-1zM18 19h1v1h-1zM21 20h1v1h-1zM24 21h1v1h-1zM28 22h1v1h-1zM32 23h1v1h-1zM34 24h1v1h-1z"/>
<path fill="#73d056" d="M0 4h1v1h-1z"/>
<path fill="#277e8e" d="M1 4h1v1h-1zM11 9h1v1h-1zM16 10h1v1h-1zM16 11h1v1h-1zM19 11h1v1h-1zM5 12h1v1h-1zM11 12h1v1h-1z"/>
<path fill="#355f8d" d="M2 4h1v1h-1zM6 6h1v1h-1zM16 7h2v1h-2zM22 8h2v1h-2zM28 9h1v1h-1zM35 11h1v1h-1zM41 13h1v1h-1zM8 14h1v1h-1zM45 14h1v1h-1zM47 14h1v1h-1zM20 15h2v1h-2zM26 16h1v1h-1zM30 17h1v1h-1zM42 22h2v1h-2zM47 23h1v1h-1z"/>
<path fill="#3e4c8a" d="M3 4h1v1h-1zM20 6h1v1h-1zM27 7h1v1h-1zM33 8h1v1h-1zM40 11h1v1h-1zM45 12h2v1h-2zM8 15h1v1h-1zM22 17h1v1h-1zM33 20h1v1h-1zM37 22h1v1h-1zM39 23h1v1h-1z"/>
<path fill="#433e85" d="M5 4h1v1h-1zM21 5h2v1h-2zM28 6h2v1h-2zM34 7h1v1h-1zM36 8h1v1h-1zM42 10h2v1h-2zM48 11h2v1h-2zM6 15h1v1h-1zM17 17h1v1h-1zM21 18h1v1h-1zM25 19h1v1h-1zM28 20h2v1h-2zM32 21h1v1h-1zM36 23h1v1h-1z"/>
<path fill="#463480" d="M7 4h4v1h-4zM12 4h1v1h-1zM19 4h2v1h-2zM28 5h2v1h-2zM34 6h1v1h-1zM36 7h1v1h-1zM39 8h1v1h-1zM42 9h2v1h-2zM48 10h2v1h-2zM4 14h1v1h-1zM12 17h2v1h-2zM18 18h1v1h-1zM21 19h1v1h-1zM25 20h1v1h-1zM28 21h2v1h-2zM37 24h1v1h-1z"/>
<path fill="#46327e" d="M11 4h1v1h-1zM21 4h4v1h-4zM30 5h3v1h-3zM35 6h1v1h-1zM37 7h1v1h-1zM40 8h1v1h-1zM44 9h1v1h-1zM5 15h1v1h-1zM7 16h1v1h-1zM11 17h1v1h-1zM17 18h1v1h-1zM24 20h1v1h-1zM27 21h1v1h-1zM31 22h2v1h-2zM34 23h1v1h-1zM36 24h1v1h-1z"/>
<path fill="#443983" d="M16 4h2v1h-2zM25 5h2v1h-2zM33 6h1v1h-1zM40 9h1v1h-1zM45 10h2v1h-2zM2 12h1v1h-1zM15 17h1v1h-1zM20 18h1v1h-1zM23 19h1v1h-1zM27 20h1v1h-1zM30 21h1v1h-1zM38 24h1v1h-1z"/>
<path fill="#fde725" d="M0 5h1v1h-1z"/>
<path fill="#25ac82" d="M1 5h1v1h-1z"/>
<path fill="#27808e" d="M2 5h1v1h-1zM7 8h1v1h-1zM3 11h1v1h-1zM15 11h1v1h-1zM10 12h1v1h-1z"/>
<path fill="#32658e" d="M3 5h1v1h-1zM5 6h1v1h-1zM10 7h1v1h-1zM0 8h1v1h-1zM20 8h1v1h-1zM24 9h2v1h-2zM33 11h1v1h-1zM5 13h1v1h-1zM18 14h1v1h-1zM25 15h1v1h-1zM46 15h1v1h-1zM48 15h1v1h-1zM28 16h2v1h-2zM33 17h1v1h-1zM37 19h1v1h-1zM41 21h1v1h-1zM45 22h1v1h-1z"/>
<path fill="#3c508b" d="M5 5h1v1h-1zM18 6h1v1h-1zM25 7h2v1h-2zM30 8h1v1h-1zM34 9h1v1h-1zM43 12h1v1h-1zM10 15h1v1h-1zM19 16h1v1h-1zM28 18h1v1h-1zM31 19h1v1h-1zM34 20h1v1h-1zM36 21h1v1h-1zM38 22h1v1h-1zM40 23h1v1h-1zM45 24h1v1h-1z"/>
<path fill="#3e4989" d="M6 5h1v1h-1zM21 6h2v1h-2zM28 7h2v1h-2zM38 10h1v1h-1zM41 11h1v1h-1zM47 12h2v1h-2zM5 14h1v1h-1zM17 16h1v1h-1zM21 17h1v1h-1zM26 18h1v1h-1zM29 19h1v1h-1zM35 21h1v1h-1zM42 24h2v1h-2z"/>
<path fill="#3f4788" d="M7 5h1v1h-1zM23 6h2v1h-2zM34 8h1v1h-1zM36 9h1v1h-1zM42 11h2v1h-2zM49 12h1v1h-1zM7 15h1v1h-1zM15 16h2v1h-2zM25 18h1v1h-1zM28 19h1v1h-1zM32 20h1v1h-1zM34 21h1v1h-1zM36 22h1v1h-1zM41 24h1v1h-1z"/>
<path fill="#404588" d="M8 5h2v1h-2zM15 5h3v1h-3zM25 6h2v1h-2zM30 7h3v1h-3zM35 8h1v1h-1zM37 9h1v1h-1zM39 10h1v1h-1zM44 11h1v1h-1zM13 16h2v1h-2zM20 17h1v1h-1zM24 18h1v1h-1zM27 19h1v1h-1zM31 20h1v1h-1zM38 23h1v1h-1z"/>
<path fill="#424086" d="M19 5h2v1h-2zM27 6h1v1h-1zM38 9h1v1h-1zM41 10h1v1h-1zM46 11h2v1h-2zM10 16h2v1h-2zM18 17h1v1h-1zM22 18h1v1h-1zM26 19h1v1h-1zM35 22h1v1h-1zM37 23h1v1h-1zM39 24h1v1h-1z"/>
<path fill="#e5e419" d="M0 6h1v1h-1z"/>
<path fill="#86d549" d="M1 6h1v1h-1z"/>
<path fill="#1fa287" d="M2 6h1v1h-1zM3 10h1v1h-1zM5 10h1v1h-1z"/>
<path fill="#26828e" d="M3 6h1v1h-1zM10 9h1v1h-1zM15 10h1v1h-1zM14 11h1v1h-1zM9 12h1v1h-1z"/>
<path fill="#2d718e" d="M4 6h1v1h-1zM12 8h1v1h-1zM19 9h1v1h-1zM22 10h1v1h-1zM27 11h1v1h-1zM30 12h2v1h-2zM12 13h3v1h-3zM19 13h1v1h-1zM33 13h1v1h-1zM27 14h1v1h-1zM33 14h2v1h-2zM36 14h2v1h-2zM31 15h1v1h-1zM36 15h1v1h-1zM38 15h1v1h-1zM41 15h1v1h-1zM37 16h2v1h-2zM41 16h2v1h-2zM41 17h6v1h-6zM48 17h2v1h-2zM42 18h3v1h-3zM42 19h3v1h-3zM45 20h2v1h-2zM47 21h1v1h-1z"/>
<path fill="#375b8d" d="M7 6h1v1h-1zM18 7h2v1h-2zM25 8h2v1h-2zM30 9h1v1h-1zM34 10h1v1h-1zM36 11h1v1h-1zM3 12h1v1h-1zM43 13h1v1h-1zM48 14h2v1h-2zM19 15h1v1h-1zM25 16h1v1h-1zM28 17h1v1h-1zM32 18h1v1h-1zM35 19h1v1h-1zM45 23h1v1h-1z"/>
<path fill="#39568c" d="M9 6h1v1h-1zM21 7h1v1h-1zM27 8h1v1h-1zM32 9h1v1h-1zM35 10h1v1h-1zM40 12h1v1h-1zM45 13h1v1h-1zM6 14h1v1h-1zM17 15h1v1h-1zM22 16h1v1h-1zM30 18h1v1h-1zM43 23h1v1h-1zM48 24h1v1h-1z"/>
<path fill="#3a548c" d="M10 6h1v1h-1zM22 7h1v1h-1zM28 8h2v1h-2zM33 9h1v1h-1zM38 11h1v1h-1zM41 12h1v1h-1zM46 13h2v1h-2zM12 15h5v1h-5zM21 16h1v1h-1zM26 17h1v1h-1zM33 19h1v1h-1zM37 21h1v1h-1zM39 22h1v1h-1zM42 23h1v1h-1zM47 24h1v1h-1z"/>
<path fill="#3b528b" d="M11 6h7v1h-7zM23 7h2v1h-2zM36 10h1v1h-1zM42 12h1v1h-1zM4 13h1v1h-1zM48 13h2v1h-2zM11 15h1v1h-1zM20 16h1v1h-1zM25 17h1v1h-1zM29 18h1v1h-1zM32 19h1v1h-1zM35 20h1v1h-1zM41 23h1v1h-1zM46 24h1v1h-1z"/>
<path fill="#3d4e8a" d="M19 6h1v1h-1zM31 8h2v1h-2zM35 9h1v1h-1zM37 10h1v1h-1zM39 11h1v1h-1zM44 12h1v1h-1zM9 15h1v1h-1zM18 16h1v1h-1zM23 17h2v1h-2zM27 18h1v1h-1zM30 19h1v1h-1zM44 24h1v1h-1z"/>
<path fill="#3dbc74" d="M0 7h1v1h-1z"/>
<path fill="#9bd93c" d="M1 7h1v1h-1z"/>
<path fill="#44bf70" d="M2 7h1v1h-1z"/>
<path fill="#1f9f88" d="M3 7h1v1h-1z"/>
<path fill="#23898e" d="M4 7h1v1h-1zM8 9h1v1h-1zM10 10h1v1h-1zM9 11h2v1h-2z"/>
<path fill="#297a8e" d="M5 7h1v1h-1zM14 9h2v1h-2zM18 10h2v1h-2zM20 12h1v1h-1z"/>
<path fill="#2c728e" d="M6 7h1v1h-1zM11 8h1v1h-1zM18 9h1v1h-1zM21 10h1v1h-1zM24 11h3v1h-3zM4 12h1v1h-1zM28 12h2v1h-2zM7 13h5v1h-5zM20 13h5v1h-5zM32 13h1v1h-1zM28 14h3v1h-3zM32 14h1v1h-1zM37 15h1v1h-1zM47 17h1v1h-1zM45 18h2v1h-2zM45 19h1v1h-1zM48 21h2v1h-2z"/>
<path fill="#2e6d8e" d="M7 7h1v1h-1zM16 8h1v1h-1zM24 10h2v1h-2zM29 11h1v1h-1zM32 12h1v1h-1zM6 13h1v1h-1zM16 13h2v1h-2zM35 13h1v1h-1zM24 14h2v1h-2zM28 15h2v1h-2zM39 15h1v1h-1zM43 15h1v1h-1zM35 16h1v1h-1zM39 16h1v1h-1zM44 16h4v1h-4zM39 17h1v1h-1zM40 18h1v1h-1zM41 19h1v1h-1zM42 20h2v1h-2zM46 21h1v1h-1zM49 22h1v1h-1z"/>
<path fill="#2f6b8e" d="M8 7h1v1h-1zM17 8h1v1h-1zM21 9h1v1h-1zM26 10h1v1h-1zM30 11h1v1h-1zM33 12h1v1h-1zM36 13h2v1h-2zM22 14h2v1h-2zM27 15h1v1h-1zM31 16h4v1h-4zM48 16h2v1h-2zM36 17h1v1h-1zM37 18h3v1h-3zM40 19h1v1h-1zM41 20h1v1h-1zM45 21h1v1h-1zM48 22h1v1h-1z"/>
<path fill="#31678e" d="M9 7h1v1h-1zM18 8h2v1h-2zM23 9h1v1h-1zM28 10h2v1h-2zM32 11h1v1h-1zM35 12h1v1h-1zM38 13h1v1h-1zM19 14h1v1h-1zM42 14h1v1h-1zM26 15h1v1h-1zM45 15h1v1h-1zM47 15h1v1h-1zM30 16h1v1h-1zM34 17h2v1h-2zM36 18h1v1h-1zM38 19h2v1h-2zM40 20h1v1h-1zM42 21h2v1h-2zM46 22h1v1h-1z"/>
<path fill="#33638d" d="M11 7h2v1h-2zM26 9h1v1h-1zM30 10h1v1h-1zM34 11h1v1h-1zM36 12h1v1h-1zM10 14h6v1h-6zM17 14h1v1h-1zM43 14h1v1h-1zM24 15h1v1h-1zM49 15h1v1h-1zM31 17h2v1h-2zM35 18h1v1h-1zM39 20h1v1h-1zM48 23h2v1h-2z"/>
<path fill="#5cc863" d="M1 8h1v1h-1z"/>
<path fill="#54c568" d="M2 8h1v1h-1z"/>
<path fill="#34b679" d="M3 8h1v1h-1z"/>
<path fill="#1fa188" d="M4 8h1v1h-1zM5 9h1v1h-1z"/>
<path fill="#218f8d" d="M5 8h1v1h-1zM7 9h1v1h-1zM8 11h1v1h-1z"/>
<path fill="#25858e" d="M6 8h1v1h-1zM12 10h1v1h-1z"/>
<path fill="#287c8e" d="M8 8h1v1h-1zM12 9h2v1h-2zM17 10h1v1h-1zM17 11h2v1h-2zM20 11h1v1h-1zM12 12h3v1h-3z"/>
<path fill="#2a768e" d="M9 8h1v1h-1zM16 9h1v1h-1zM20 10h1v1h-1zM16 12h3v1h-3zM24 12h3v1h-3zM26 13h4v1h-4zM47 18h1v1h-1zM47 19h1v1h-1zM48 20h2v1h-2z"/>
<path fill="#2b748e" d="M10 8h1v1h-1zM17 9h1v1h-1zM23 11h1v1h-1zM27 12h1v1h-1zM25 13h1v1h-1zM30 13h2v1h-2zM31 14h1v1h-1zM48 18h2v1h-2zM46 19h1v1h-1zM47 20h1v1h-1z"/>
<path fill="#2e6f8e" d="M13 8h3v1h-3zM20 9h1v1h-1zM23 10h1v1h-1zM28 11h1v1h-1zM15 13h1v1h-1zM18 13h1v1h-1zM34 13h1v1h-1zM26 14h1v1h-1zM35 14h1v1h-1zM38 14h1v1h-1zM30 15h1v1h-1zM32 15h4v1h-4zM40 15h1v1h-1zM42 15h1v1h-1zM36 16h1v1h-1zM40 16h1v1h-1zM43 16h1v1h-1zM37 17h2v1h-2zM40 17h1v1h-1zM41 18h1v1h-1zM44 20h1v1h-1z"/>
<path fill="#365d8d" d="M24 8h1v1h-1zM29 9h1v1h-1zM1 10h1v1h-1zM33 10h1v1h-1zM38 12h1v1h-1zM42 13h1v1h-1zM7 14h1v1h-1zM46 14h1v1h-1zM29 17h1v1h-1zM33 18h1v1h-1zM37 20h1v1h-1zM39 21h1v1h-1zM41 22h1v1h-1zM46 23h1v1h-1z"/>
<path fill="#1f998a" d="M1 9h1v1h-1z"/>
<path fill="#2cb17e" d="M2 9h1v1h-1z"/>
<path fill="#37b878" d="M3 9h1v1h-1z"/>
<path fill="#29af7f" d="M4 9h1v1h-1z"/>
<path fill="#25838e" d="M9 9h1v1h-1zM13 10h2v1h-2zM12 11h2v1h-2zM6 12h3v1h-3z"/>
<path fill="#30698e" d="M22 9h1v1h-1zM27 10h1v1h-1zM31 11h1v1h-1zM34 12h1v1h-1zM20 14h2v1h-2zM39 14h3v1h-3zM44 15h1v1h-1zM44 21h1v1h-1zM47 22h1v1h-1z"/>
<path fill="#228b8d" d="M2 10h1v1h-1zM9 10h1v1h-1z"/>
<path fill="#22a884" d="M4 10h1v1h-1z"/>
<path fill="#1e9d89" d="M6 10h1v1h-1z"/>
<path fill="#1f978b" d="M7 10h1v1h-1z"/>
<path fill="#20928c" d="M8 10h1v1h-1zM4 11h1v1h-1zM7 11h1v1h-1z"/>
<path fill="#24878e" d="M11 10h1v1h-1zM11 11h1v1h-1z"/>
<path fill="#450457" d="M0 11h1v1h-1zM0 12h1v1h-1zM0 13h2v1h-2zM1 14h1v1h-1zM1 15h2v1h-2zM3 17h1v1h-1zM4 18h1v1h-1zM5 19h1v1h-1zM6 20h1v1h-1zM7 21h1v1h-1zM8 22h2v1h-2zM9 23h2v1h-2zM10 24h2v1h-2z"/>
<path fill="#2a788e" d="M21 11h2v1h-2zM15 12h1v1h-1zM19 12h1v1h-1zM21 12h3v1h-3zM48 19h2v1h-2z"/>
<path fill="#440154" d="M0 14h1v1h-1zM0 15h1v1h-1zM0 16h3v1h-3zM0 17h3v1h-3zM0 18h4v1h-4zM0 19h5v1h-5zM0 20h6v1h-6zM0 21h7v1h-7zM0 22h8v1h-8zM0 23h9v1h-9zM0 24h10v1h-10z"/>
<path fill="#46075a" d="M3 16h1v1h-1zM4 17h1v1h-1zM5 18h1v1h-1zM6 19h1v1h-1zM7 20h1v1h-1zM8 21h2v1h-2zM10 22h2v1h-2zM11 23h2v1h-2zM12 24h2v1h-2z"/>
</g>
<polyline points="1028.5,503.6 1044.4,520.7 1060.3,529.8 1076.2,538.6 1092.2,546.7 1108.1,552.1 1124.0,555.6 1139.9,557.8 1155.9,558.5 1171.8,558.9 1187.7,559.8 1203.6,559.8 1219.5,559.6 1235.5,559.4 1251.4,560.0 1267.3,558.3 1283.2,558.5 1299.2,558.9 1315.1,562.2 1331.0,564.8 1346.9,567.7 1362.9,569.9 1378.8,571.8 1394.7,573.1 1410.6,575.1 1426.6,577.3 1442.5,579.5 1458.4,584.1 1474.3,586.7 1490.3,587.4 1506.2,591.1 1522.1,594.4 1538.0,595.0 1554.0,598.3 1569.9,600.9 1585.8,604.2 1601.7,611.2 1617.7,615.6 1633.6,619.1 1649.5,622.3 1665.4,626.1 1681.3,628.9 1697.3,631.5 1713.2,630.9 1729.1,632.2 1745.0,634.4 1761.0,635.5 1776.9,636.6 1792.8,638.7 1808.7,637.7" fill="none" stroke="#0000ff" stroke-width="2.45" stroke-dasharray="9.1 3.9" stroke-linejoin="round"/>
<polyline points="1028.5,543.4 1044.4,567.0 1060.3,582.3 1076.2,595.4 1092.2,607.5 1108.1,618.4 1124.0,626.1 1139.9,632.2 1155.9,637.0 1171.8,641.4 1187.7,644.0 1203.6,646.4 1219.5,648.4 1235.5,649.5 1251.4,650.6 1267.3,651.2 1283.2,653.8 1299.2,656.7 1315.1,661.0 1331.0,663.2 1346.9,667.6 1362.9,673.1 1378.8,676.4 1394.7,679.6 1410.6,683.4 1426.6,685.1 1442.5,686.2 1458.4,690.6 1474.3,693.8 1490.3,694.3 1506.2,698.2 1522.1,701.1 1538.0,703.3 1554.0,707.6 1569.9,710.3 1585.8,714.0 1601.7,718.3 1617.7,720.1 1633.6,723.4 1649.5,729.5 1665.4,729.9 1681.3,730.4 1697.3,733.2 1713.2,734.7 1729.1,738.0 1745.0,740.9 1761.0,742.4 1776.9,741.5 1792.8,745.2 1808.7,745.9" fill="none" stroke="#0000ff" stroke-width="2.45" stroke-dasharray="9.1 3.9" stroke-linejoin="round"/>
<polyline points="1028.5,524.8 1044.4,545.2 1060.3,557.2 1076.2,568.5 1092.2,578.6 1108.1,586.7 1124.0,591.1 1139.9,594.4 1155.9,596.5 1171.8,599.2 1187.7,600.5 1203.6,601.4 1219.5,602.0 1235.5,603.1 1251.4,604.2 1267.3,603.1 1283.2,605.3 1299.2,606.8 1315.1,610.8 1331.0,612.9 1346.9,617.8 1362.9,620.6 1378.8,622.8 1394.7,625.6 1410.6,628.9 1426.6,630.4 1442.5,633.3 1458.4,637.4 1474.3,640.7 1490.3,641.4 1506.2,644.0 1522.1,649.0 1538.0,651.2 1554.0,654.1 1569.9,656.0 1585.8,660.4 1601.7,665.4 1617.7,668.7 1633.6,672.4 1649.5,677.9 1665.4,679.0 1681.3,680.1 1697.3,684.4 1713.2,685.8 1729.1,688.8 1745.0,691.0 1761.0,693.8 1776.9,693.2 1792.8,697.6 1808.7,696.0" fill="none" stroke="#000" stroke-width="2.45" stroke-dasharray="9.1 3.9" stroke-linejoin="round"/>
<rect x="1020.5" y="438.2" width="796.2" height="357.2" fill="none" stroke="#000" stroke-width="1.2"/>
<path d="M1142.60 795.4v5.8M1290.10 795.4v5.8M1437.60 795.4v5.8M1585.10 795.4v5.8M1732.60 795.4v5.8M1020.5 441.00h-5.8M1020.5 508.40h-5.8M1020.5 575.80h-5.8M1020.5 643.20h-5.8M1020.5 710.60h-5.8M1020.5 778.00h-5.8" stroke="#000" stroke-width="1.2" fill="none"/>
<g font-size="26.7" text-anchor="middle">
<text transform="translate(1142.6,827.8) scale(0.96,1)">0.05</text>
<text transform="translate(1290.1,827.8) scale(0.96,1)">0.10</text>
<text transform="translate(1437.6,827.8) scale(0.96,1)">0.15</text>
<text transform="translate(1585.1,827.8) scale(0.96,1)">0.20</text>
<text transform="translate(1732.6,827.8) scale(0.96,1)">0.25</text>
</g>
<g font-size="26.7" text-anchor="end">
<text transform="translate(1010.6,452.1) scale(0.96,1)">4</text>
<text transform="translate(1010.6,519.5) scale(0.96,1)">2</text>
<text transform="translate(1010.6,586.9) scale(0.96,1)">0</text>
<text transform="translate(1010.6,654.3) scale(0.96,1)">−2</text>
<text transform="translate(1010.6,721.7) scale(0.96,1)">−4</text>
<text transform="translate(1010.6,789.1) scale(0.96,1)">−6</text>
</g>
<text x="1419.6" y="858.1" font-size="25.8" text-anchor="middle">SFD</text>
<text transform="translate(961.1,617.6) rotate(-90) scale(0.956,1)" font-size="23.65" text-anchor="middle">(B17-SFD)/SigmaMapB17</text>
<g transform="translate(117.0,886.2) scale(15.11400,14.38800)" shape-rendering="crispEdges">
<path fill="#433e85" d="M0 0h1v1h-1zM1 1h1v1h-1zM19 3h4v1h-4zM28 4h1v1h-1zM49 6h1v1h-1zM12 18h1v1h-1zM23 20h1v1h-1zM30 24h1v1h-1z"/>
<path fill="#472d7b" d="M1 0h1v1h-1zM19 2h5v1h-5zM29 3h1v1h-1zM35 4h1v1h-1zM43 5h1v1h-1zM46 5h2v1h-2zM3 18h1v1h-1zM12 19h2v1h-2zM17 20h1v1h-1zM20 21h1v1h-1zM24 22h1v1h-1zM25 23h1v1h-1z"/>
<path fill="#482374" d="M2 0h1v1h-1zM5 1h1v1h-1zM10 1h4v1h-4zM18 1h1v1h-1zM22 1h1v1h-1zM29 2h1v1h-1zM43 4h1v1h-1zM46 4h2v1h-2zM5 19h2v1h-2zM9 19h2v1h-2zM14 20h1v1h-1zM17 21h1v1h-1zM20 22h1v1h-1zM22 23h1v1h-1zM24 24h1v1h-1z"/>
<path fill="#481d6f" d="M3 0h2v1h-2zM6 0h4v1h-4zM27 1h2v1h-2zM31 2h1v1h-1zM33 2h1v1h-1zM36 3h1v1h-1zM39 4h4v1h-4zM44 4h1v1h-1zM0 18h1v1h-1zM3 19h1v1h-1zM18 22h1v1h-1zM20 23h1v1h-1zM22 24h1v1h-1z"/>
<path fill="#481b6d" d="M5 0h1v1h-1zM10 0h9v1h-9zM22 0h1v1h-1zM29 1h2v1h-2zM34 2h1v1h-1zM49 2h1v1h-1zM37 3h2v1h-2zM43 3h1v1h-1zM46 3h2v1h-2zM2 19h1v1h-1zM11 20h1v1h-1zM15 21h1v1h-1zM21 24h1v1h-1z"/>
<path fill="#48186a" d="M19 0h3v1h-3zM23 0h4v1h-4zM32 1h2v1h-2zM35 2h2v1h-2zM45 3h1v1h-1zM48 3h1v1h-1zM1 19h1v1h-1zM6 20h5v1h-5zM14 21h1v1h-1zM17 22h1v1h-1zM18 23h2v1h-2zM20 24h1v1h-1z"/>
<path fill="#481668" d="M27 0h3v1h-3zM31 1h1v1h-1zM34 1h1v1h-1zM37 2h1v1h-1zM47 2h1v1h-1zM39 3h4v1h-4zM44 3h1v1h-1zM4 20h2v1h-2zM12 21h2v1h-2zM16 22h1v1h-1zM19 24h1v1h-1z"/>
<path fill="#471365" d="M30 0h4v1h-4zM35 1h2v1h-2zM49 1h1v1h-1zM38 2h1v1h-1zM43 2h1v1h-1zM46 2h1v1h-1zM48 2h1v1h-1zM0 19h1v1h-1zM2 20h2v1h-2zM11 21h1v1h-1zM14 22h2v1h-2zM17 23h1v1h-1zM18 24h1v1h-1z"/>
<path fill="#471063" d="M34 0h3v1h-3zM49 0h1v1h-1zM37 1h2v1h-2zM47 1h1v1h-1zM39 2h4v1h-4zM44 2h2v1h-2zM1 20h1v1h-1zM6 21h5v1h-5zM12 22h2v1h-2zM15 23h2v1h-2zM17 24h1v1h-1z"/>
<path fill="#470d60" d="M37 0h2v1h-2zM39 1h3v1h-3zM43 1h1v1h-1zM45 1h2v1h-2zM48 1h1v1h-1zM0 20h1v1h-1zM2 21h4v1h-4zM11 22h1v1h-1zM13 23h2v1h-2zM16 24h1v1h-1z"/>
<path fill="#460a5d" d="M39 0h3v1h-3zM43 0h1v1h-1zM45 0h4v1h-4zM42 1h1v1h-1zM44 1h1v1h-1zM0 21h2v1h-2zM5 22h6v1h-6zM11 23h2v1h-2zM13 24h3v1h-3z"/>
<path fill="#46075a" d="M42 0h1v1h-1zM44 0h1v1h-1zM0 22h5v1h-5zM2 23h9v1h-9zM10 24h3v1h-3z"/>
<path fill="#3b528b" d="M0 1h1v1h-1zM20 4h3v1h-3zM27 5h1v1h-1zM31 6h1v1h-1zM33 6h1v1h-1zM44 8h1v1h-1zM46 8h2v1h-2zM12 17h1v1h-1zM18 18h1v1h-1zM27 21h1v1h-1zM31 23h1v1h-1z"/>
<path fill="#46327e" d="M2 1h1v1h-1zM5 2h5v1h-5zM11 2h7v1h-7zM27 3h2v1h-2zM31 4h1v1h-1zM34 4h1v1h-1zM38 5h1v1h-1zM49 5h1v1h-1zM5 18h1v1h-1zM9 18h2v1h-2zM18 20h1v1h-1zM22 21h2v1h-2zM26 23h1v1h-1z"/>
<path fill="#482878" d="M3 1h1v1h-1zM26 2h1v1h-1zM31 3h1v1h-1zM33 3h1v1h-1zM49 4h1v1h-1zM40 5h1v1h-1zM42 5h1v1h-1zM44 5h1v1h-1zM11 19h1v1h-1zM19 21h1v1h-1zM21 22h2v1h-2zM24 23h1v1h-1z"/>
<path fill="#482576" d="M4 1h1v1h-1zM6 1h4v1h-4zM14 1h4v1h-4zM27 2h2v1h-2zM34 3h1v1h-1zM37 4h2v1h-2zM1 18h1v1h-1zM7 19h2v1h-2zM15 20h1v1h-1zM18 21h1v1h-1zM23 23h1v1h-1zM25 24h1v1h-1z"/>
<path fill="#482071" d="M19 1h3v1h-3zM23 1h4v1h-4zM30 2h1v1h-1zM32 2h1v1h-1zM35 3h1v1h-1zM49 3h1v1h-1zM45 4h1v1h-1zM48 4h1v1h-1zM4 19h1v1h-1zM12 20h2v1h-2zM16 21h1v1h-1zM19 22h1v1h-1zM21 23h1v1h-1zM23 24h1v1h-1z"/>
<path fill="#2f6b8e" d="M0 2h1v1h-1zM20 5h1v1h-1zM37 8h1v1h-1zM40 9h2v1h-2zM47 10h1v1h-1zM49 10h1v1h-1zM12 16h1v1h-1zM35 23h1v1h-1z"/>
<path fill="#3a548c" d="M1 2h1v1h-1zM19 4h1v1h-1zM32 6h1v1h-1zM38 7h1v1h-1zM49 8h1v1h-1zM2 16h1v1h-1zM13 17h1v1h-1zM19 18h1v1h-1zM24 19h1v1h-1zM29 22h1v1h-1z"/>
<path fill="#404588" d="M2 2h1v1h-1zM5 3h1v1h-1zM7 3h1v1h-1zM11 3h2v1h-2zM14 3h4v1h-4zM26 4h1v1h-1zM32 5h1v1h-1zM37 6h1v1h-1zM42 7h1v1h-1zM46 7h2v1h-2zM4 17h1v1h-1zM20 19h1v1h-1zM27 22h1v1h-1zM31 24h1v1h-1z"/>
<path fill="#453781" d="M3 2h1v1h-1zM25 3h2v1h-2zM30 4h1v1h-1zM36 5h1v1h-1zM40 6h3v1h-3zM46 6h1v1h-1zM7 18h1v1h-1zM11 18h1v1h-1zM20 20h1v1h-1zM24 21h1v1h-1z"/>
<path fill="#463480" d="M4 2h1v1h-1zM32 4h2v1h-2zM37 5h1v1h-1zM44 6h2v1h-2zM48 6h1v1h-1zM1 17h1v1h-1zM6 18h1v1h-1zM8 18h1v1h-1zM15 19h1v1h-1zM19 20h1v1h-1zM25 22h1v1h-1zM28 24h1v1h-1z"/>
<path fill="#472f7d" d="M10 2h1v1h-1zM18 2h1v1h-1zM4 18h1v1h-1zM14 19h1v1h-1zM21 21h1v1h-1zM27 24h1v1h-1z"/>
<path fill="#472a7a" d="M24 2h2v1h-2zM30 3h1v1h-1zM32 3h1v1h-1zM36 4h1v1h-1zM39 5h1v1h-1zM41 5h1v1h-1zM45 5h1v1h-1zM48 5h1v1h-1zM0 17h1v1h-1zM2 18h1v1h-1zM16 20h1v1h-1zM23 22h1v1h-1zM26 24h1v1h-1z"/>
<path fill="#24878e" d="M0 3h1v1h-1zM19 6h1v1h-1zM25 7h1v1h-1zM32 9h1v1h-1zM46 12h1v1h-1zM13 15h2v1h-2zM35 21h1v1h-1zM37 22h1v1h-1z"/>
<path fill="#2e6f8e" d="M1 3h1v1h-1zM18 5h1v1h-1zM36 8h1v1h-1zM44 10h1v1h-1zM2 15h1v1h-1zM14 16h1v1h-1zM21 17h1v1h-1zM31 21h1v1h-1z"/>
<path fill="#365d8d" d="M2 3h1v1h-1zM10 4h3v1h-3zM14 4h1v1h-1zM25 5h1v1h-1zM36 7h1v1h-1zM39 8h1v1h-1zM3 16h1v1h-1zM15 17h1v1h-1zM22 18h1v1h-1zM35 24h1v1h-1z"/>
<path fill="#3e4c8a" d="M3 3h1v1h-1zM24 4h1v1h-1zM35 6h1v1h-1zM6 17h1v1h-1zM8 17h1v1h-1zM16 18h1v1h-1zM22 19h1v1h-1zM28 22h1v1h-1zM30 23h1v1h-1zM32 24h1v1h-1z"/>
<path fill="#3f4788" d="M4 3h1v1h-1zM6 3h1v1h-1zM8 3h2v1h-2zM30 5h1v1h-1zM40 7h2v1h-2zM49 7h1v1h-1zM10 17h1v1h-1zM15 18h1v1h-1zM26 21h1v1h-1zM29 23h1v1h-1z"/>
<path fill="#414287" d="M10 3h1v1h-1zM13 3h1v1h-1zM18 3h1v1h-1zM31 5h1v1h-1zM33 5h1v1h-1zM38 6h1v1h-1zM44 7h2v1h-2zM3 17h1v1h-1zM14 18h1v1h-1zM19 19h1v1h-1zM24 20h1v1h-1z"/>
<path fill="#443b84" d="M23 3h1v1h-1zM29 4h1v1h-1zM35 5h1v1h-1zM43 6h1v1h-1zM0 16h1v1h-1zM2 17h1v1h-1zM17 19h1v1h-1zM22 20h1v1h-1zM26 22h1v1h-1zM29 24h1v1h-1z"/>
<path fill="#443983" d="M24 3h1v1h-1zM39 6h1v1h-1zM47 6h1v1h-1zM16 19h1v1h-1zM21 20h1v1h-1zM27 23h1v1h-1z"/>
<path fill="#21a685" d="M0 4h1v1h-1zM4 6h2v1h-2zM32 11h1v1h-1zM40 13h1v1h-1zM5 14h3v1h-3zM15 14h1v1h-1zM43 14h1v1h-1zM46 15h1v1h-1zM28 16h1v1h-1zM49 16h1v1h-1zM38 20h1v1h-1zM41 21h1v1h-1zM45 23h1v1h-1z"/>
<path fill="#228b8d" d="M1 4h1v1h-1zM18 6h1v1h-1zM27 8h1v1h-1zM31 9h1v1h-1zM41 11h1v1h-1zM44 12h1v1h-1zM49 13h1v1h-1zM2 14h1v1h-1zM15 15h1v1h-1zM23 16h1v1h-1zM26 17h1v1h-1zM40 23h1v1h-1zM44 24h1v1h-1z"/>
<path fill="#2a788e" d="M2 4h1v1h-1zM12 5h1v1h-1zM14 5h1v1h-1zM24 6h1v1h-1zM27 7h1v1h-1zM31 8h1v1h-1zM38 9h1v1h-1zM47 11h1v1h-1zM3 15h1v1h-1zM16 16h2v1h-2zM28 19h1v1h-1zM37 23h1v1h-1z"/>
<path fill="#31678e" d="M3 4h1v1h-1zM22 5h2v1h-2zM38 8h1v1h-1zM42 9h2v1h-2zM6 16h2v1h-2zM18 17h1v1h-1zM24 18h1v1h-1zM26 19h1v1h-1zM32 22h1v1h-1zM37 24h1v1h-1z"/>
<path fill="#33638d" d="M4 4h1v1h-1zM8 4h1v1h-1zM24 5h1v1h-1zM34 7h1v1h-1zM17 17h1v1h-1zM27 20h1v1h-1zM29 21h1v1h-1z"/>
<path fill="#355f8d" d="M5 4h1v1h-1zM35 7h1v1h-1zM45 9h3v1h-3zM49 9h1v1h-1zM25 19h1v1h-1zM33 23h1v1h-1z"/>
<path fill="#34618d" d="M6 4h2v1h-2zM9 4h1v1h-1zM28 6h1v1h-1zM44 9h1v1h-1zM1 15h1v1h-1zM4 16h1v1h-1zM9 16h2v1h-2zM16 17h1v1h-1zM23 18h1v1h-1zM31 22h1v1h-1zM36 24h1v1h-1z"/>
<path fill="#375b8d" d="M13 4h1v1h-1zM15 4h3v1h-3zM29 6h1v1h-1zM48 9h1v1h-1zM21 18h1v1h-1zM28 21h1v1h-1zM30 22h1v1h-1z"/>
<path fill="#39568c" d="M18 4h1v1h-1zM30 6h1v1h-1zM42 8h1v1h-1zM14 17h1v1h-1zM20 18h1v1h-1zM26 20h1v1h-1zM34 24h1v1h-1z"/>
<path fill="#3c508b" d="M23 4h1v1h-1zM34 6h1v1h-1zM45 8h1v1h-1zM0 15h1v1h-1zM33 24h1v1h-1z"/>
<path fill="#3e4989" d="M25 4h1v1h-1zM29 5h1v1h-1zM36 6h1v1h-1zM39 7h1v1h-1zM43 7h1v1h-1zM1 16h1v1h-1zM5 17h1v1h-1zM9 17h1v1h-1zM21 19h1v1h-1z"/>
<path fill="#424086" d="M27 4h1v1h-1zM34 5h1v1h-1zM48 7h1v1h-1zM13 18h1v1h-1zM18 19h1v1h-1zM25 21h1v1h-1zM28 23h1v1h-1z"/>
<path fill="#4cc26c" d="M0 5h1v1h-1zM9 7h1v1h-1zM26 11h1v1h-1zM27 12h1v1h-1zM22 13h2v1h-2z"/>
<path fill="#25ac82" d="M1 5h1v1h-1zM17 7h1v1h-1zM35 12h2v1h-2zM2 13h1v1h-1zM39 13h1v1h-1zM18 14h1v1h-1zM26 15h1v1h-1zM43 15h1v1h-1zM47 16h2v1h-2zM39 20h1v1h-1zM46 23h1v1h-1z"/>
<path fill="#1f978b" d="M2 5h1v1h-1zM13 6h2v1h-2zM23 7h1v1h-1zM28 9h1v1h-1zM44 13h1v1h-1zM25 16h1v1h-1zM37 21h1v1h-1z"/>
<path fill="#25858e" d="M3 5h1v1h-1zM28 8h1v1h-1zM33 9h2v1h-2zM42 11h1v1h-1zM6 15h2v1h-2zM12 15h1v1h-1zM21 16h1v1h-1zM30 19h1v1h-1zM39 23h1v1h-1z"/>
<path fill="#26828e" d="M4 5h1v1h-1zM8 5h1v1h-1zM21 6h1v1h-1zM36 9h1v1h-1zM39 10h1v1h-1zM48 12h1v1h-1zM11 15h1v1h-1zM42 24h1v1h-1z"/>
<path fill="#27808e" d="M5 5h1v1h-1zM7 5h1v1h-1zM9 5h1v1h-1zM22 6h1v1h-1zM26 7h1v1h-1zM49 12h1v1h-1zM8 15h1v1h-1zM19 16h1v1h-1zM29 19h1v1h-1zM34 21h1v1h-1zM36 22h1v1h-1z"/>
<path fill="#25838e" d="M6 5h1v1h-1zM20 6h1v1h-1zM35 9h1v1h-1zM43 11h1v1h-1zM47 12h1v1h-1zM0 13h1v1h-1zM5 15h1v1h-1zM20 16h1v1h-1zM25 17h1v1h-1zM27 18h1v1h-1zM32 20h1v1h-1zM43 24h1v1h-1z"/>
<path fill="#287c8e" d="M10 5h1v1h-1zM40 10h1v1h-1zM45 11h1v1h-1zM1 14h1v1h-1zM18 16h1v1h-1zM24 17h1v1h-1zM33 21h1v1h-1zM40 24h1v1h-1z"/>
<path fill="#297a8e" d="M11 5h1v1h-1zM30 8h1v1h-1zM41 10h1v1h-1zM46 11h1v1h-1zM26 18h1v1h-1zM35 22h1v1h-1z"/>
<path fill="#2a768e" d="M13 5h1v1h-1zM32 8h1v1h-1zM42 10h2v1h-2zM48 11h2v1h-2zM30 20h1v1h-1zM32 21h1v1h-1z"/>
<path fill="#2b748e" d="M15 5h1v1h-1zM33 8h2v1h-2zM23 17h1v1h-1zM39 24h1v1h-1z"/>
<path fill="#2c728e" d="M16 5h2v1h-2zM25 6h1v1h-1zM28 7h1v1h-1zM15 16h1v1h-1zM22 17h1v1h-1zM27 19h1v1h-1zM34 22h1v1h-1z"/>
<path fill="#2e6d8e" d="M19 5h1v1h-1zM26 6h1v1h-1zM29 7h1v1h-1zM45 10h2v1h-2zM13 16h1v1h-1zM20 17h1v1h-1zM33 22h1v1h-1zM38 24h1v1h-1z"/>
<path fill="#30698e" d="M21 5h1v1h-1zM30 7h1v1h-1zM48 10h1v1h-1zM0 14h1v1h-1zM19 17h1v1h-1zM28 20h1v1h-1zM30 21h1v1h-1z"/>
<path fill="#38598c" d="M26 5h1v1h-1zM37 7h1v1h-1zM40 8h2v1h-2zM43 8h1v1h-1zM32 23h1v1h-1z"/>
<path fill="#3d4e8a" d="M28 5h1v1h-1zM48 8h1v1h-1zM7 17h1v1h-1zM11 17h1v1h-1zM17 18h1v1h-1zM23 19h1v1h-1zM25 20h1v1h-1z"/>
<path fill="#90d743" d="M0 6h1v1h-1zM9 8h1v1h-1zM17 11h1v1h-1zM20 11h1v1h-1z"/>
<path fill="#5cc863" d="M1 6h1v1h-1zM3 7h2v1h-2zM6 7h1v1h-1zM21 9h1v1h-1zM2 12h1v1h-1zM25 12h1v1h-1z"/>
<path fill="#37b878" d="M2 6h1v1h-1zM12 7h1v1h-1zM26 10h1v1h-1zM1 12h1v1h-1zM31 12h1v1h-1zM26 14h2v1h-2zM32 14h1v1h-1zM36 15h1v1h-1zM39 15h1v1h-1zM36 16h1v1h-1zM38 16h1v1h-1zM37 17h2v1h-2zM40 17h1v1h-1zM39 18h1v1h-1zM46 20h2v1h-2zM49 20h1v1h-1zM47 21h1v1h-1zM48 23h1v1h-1z"/>
<path fill="#22a884" d="M3 6h1v1h-1zM6 6h1v1h-1zM18 7h1v1h-1zM24 8h1v1h-1zM26 9h1v1h-1zM28 10h1v1h-1zM25 15h1v1h-1zM45 15h1v1h-1zM29 16h1v1h-1zM31 17h2v1h-2zM36 19h1v1h-1zM44 22h1v1h-1z"/>
<path fill="#20a486" d="M7 6h2v1h-2zM19 7h1v1h-1zM33 11h2v1h-2zM38 12h1v1h-1zM41 13h1v1h-1zM13 14h2v1h-2zM24 15h1v1h-1zM47 15h1v1h-1zM34 18h1v1h-1zM40 21h1v1h-1z"/>
<path fill="#1fa287" d="M9 6h1v1h-1zM29 10h1v1h-1zM0 12h1v1h-1zM12 14h1v1h-1zM44 14h1v1h-1zM48 15h1v1h-1zM27 16h1v1h-1zM30 17h1v1h-1zM37 20h1v1h-1zM39 21h1v1h-1z"/>
<path fill="#1f9f88" d="M10 6h1v1h-1zM25 8h1v1h-1zM27 9h1v1h-1zM37 11h1v1h-1zM4 14h1v1h-1zM9 14h2v1h-2zM46 14h1v1h-1zM49 15h1v1h-1zM44 23h1v1h-1z"/>
<path fill="#1e9b8a" d="M11 6h1v1h-1zM40 12h1v1h-1zM1 13h1v1h-1zM47 14h1v1h-1zM20 15h1v1h-1zM31 18h1v1h-1zM34 19h1v1h-1zM38 21h1v1h-1zM41 22h1v1h-1zM47 24h1v1h-1z"/>
<path fill="#1f998a" d="M12 6h1v1h-1zM22 7h1v1h-1zM32 10h1v1h-1zM38 11h1v1h-1zM41 12h1v1h-1zM3 14h1v1h-1zM48 14h1v1h-1zM19 15h1v1h-1zM28 17h1v1h-1zM40 22h1v1h-1z"/>
<path fill="#20938c" d="M15 6h1v1h-1zM35 10h1v1h-1zM39 11h1v1h-1zM46 13h1v1h-1zM27 17h1v1h-1zM30 18h1v1h-1zM42 23h1v1h-1z"/>
<path fill="#218f8d" d="M16 6h1v1h-1zM37 10h1v1h-1zM29 18h1v1h-1zM36 21h1v1h-1z"/>
<path fill="#228d8d" d="M17 6h1v1h-1zM30 9h1v1h-1zM40 11h1v1h-1zM48 13h1v1h-1zM31 19h1v1h-1zM34 20h1v1h-1zM38 22h1v1h-1zM41 23h1v1h-1z"/>
<path fill="#277e8e" d="M23 6h1v1h-1zM29 8h1v1h-1zM37 9h1v1h-1zM44 11h1v1h-1zM4 15h1v1h-1zM9 15h2v1h-2zM31 20h1v1h-1zM38 23h1v1h-1zM41 24h1v1h-1z"/>
<path fill="#32658e" d="M27 6h1v1h-1zM31 7h3v1h-3zM5 16h1v1h-1zM8 16h1v1h-1zM11 16h1v1h-1zM34 23h1v1h-1z"/>
<path fill="#cae11f" d="M0 7h1v1h-1zM9 9h1v1h-1zM8 11h1v1h-1zM10 11h1v1h-1z"/>
<path fill="#a0da39" d="M1 7h1v1h-1zM7 8h1v1h-1zM2 11h1v1h-1zM15 11h1v1h-1zM5 12h2v1h-2z"/>
<path fill="#7cd250" d="M2 7h1v1h-1zM11 8h1v1h-1zM12 12h1v1h-1z"/>
<path fill="#58c765" d="M5 7h1v1h-1zM17 8h1v1h-1zM25 11h1v1h-1z"/>
<path fill="#54c568" d="M7 7h1v1h-1zM24 10h1v1h-1zM26 12h1v1h-1zM5 13h2v1h-2z"/>
<path fill="#50c46a" d="M8 7h1v1h-1zM18 8h1v1h-1zM22 9h1v1h-1zM7 13h1v1h-1zM19 13h3v1h-3z"/>
<path fill="#44bf70" d="M10 7h1v1h-1zM19 8h1v1h-1zM25 10h1v1h-1zM0 11h1v1h-1zM8 13h1v1h-1zM13 13h1v1h-1zM15 13h3v1h-3zM27 13h2v1h-2zM30 13h2v1h-2z"/>
<path fill="#3dbc74" d="M11 7h1v1h-1zM30 14h1v1h-1zM48 20h1v1h-1zM48 21h1v1h-1zM48 22h2v1h-2zM49 23h1v1h-1z"/>
<path fill="#34b679" d="M13 7h2v1h-2zM32 13h1v1h-1zM25 14h1v1h-1zM33 14h5v1h-5zM30 15h1v1h-1zM34 15h2v1h-2zM38 15h1v1h-1zM35 16h1v1h-1zM40 16h2v1h-2zM41 17h2v1h-2zM40 18h3v1h-3zM48 18h1v1h-1zM45 19h3v1h-3zM49 19h1v1h-1zM45 20h1v1h-1zM46 21h1v1h-1zM47 22h1v1h-1z"/>
<path fill="#2eb37c" d="M15 7h1v1h-1zM35 13h2v1h-2zM21 14h2v1h-2zM38 14h2v1h-2zM29 15h1v1h-1zM40 15h2v1h-2zM31 16h1v1h-1zM34 16h1v1h-1zM43 17h4v1h-4zM43 18h2v1h-2zM39 19h3v1h-3zM44 20h1v1h-1zM45 21h1v1h-1zM46 22h1v1h-1z"/>
<path fill="#27ad81" d="M16 7h1v1h-1zM23 8h1v1h-1zM31 11h1v1h-1zM33 12h2v1h-2zM38 13h1v1h-1zM40 14h2v1h-2zM30 16h1v1h-1zM46 16h1v1h-1zM34 17h1v1h-1zM49 17h1v1h-1zM37 19h1v1h-1zM40 20h1v1h-1zM49 24h1v1h-1z"/>
<path fill="#1fa188" d="M20 7h1v1h-1zM30 10h1v1h-1zM35 11h2v1h-2zM39 12h1v1h-1zM42 13h1v1h-1zM8 14h1v1h-1zM11 14h1v1h-1zM45 14h1v1h-1zM22 15h2v1h-2zM33 18h1v1h-1zM35 19h1v1h-1zM42 22h2v1h-2z"/>
<path fill="#1e9d89" d="M21 7h1v1h-1zM31 10h1v1h-1zM43 13h1v1h-1zM21 15h1v1h-1zM26 16h1v1h-1zM29 17h1v1h-1zM32 18h1v1h-1zM36 20h1v1h-1zM48 24h1v1h-1z"/>
<path fill="#20928c" d="M24 7h1v1h-1zM29 9h1v1h-1zM36 10h1v1h-1zM43 12h1v1h-1zM47 13h1v1h-1zM16 15h2v1h-2zM24 16h1v1h-1zM32 19h1v1h-1zM45 24h1v1h-1z"/>
<path fill="#e5e419" d="M0 8h1v1h-1zM6 9h1v1h-1zM8 10h3v1h-3z"/>
<path fill="#d5e21a" d="M1 8h1v1h-1zM7 11h1v1h-1z"/>
<path fill="#c5e021" d="M2 8h1v1h-1zM0 9h1v1h-1zM10 9h1v1h-1zM14 10h1v1h-1zM3 11h1v1h-1zM9 11h1v1h-1z"/>
<path fill="#b0dd2f" d="M3 8h1v1h-1zM15 9h1v1h-1zM16 10h1v1h-1z"/>
<path fill="#aadc32" d="M4 8h3v1h-3zM17 10h1v1h-1zM14 11h1v1h-1z"/>
<path fill="#9bd93c" d="M8 8h1v1h-1zM16 11h1v1h-1zM19 11h1v1h-1z"/>
<path fill="#8bd646" d="M10 8h1v1h-1zM18 9h1v1h-1zM8 12h1v1h-1zM10 12h1v1h-1z"/>
<path fill="#77d153" d="M12 8h3v1h-3zM1 11h1v1h-1zM23 11h1v1h-1zM14 12h1v1h-1zM19 12h1v1h-1z"/>
<path fill="#6ece58" d="M15 8h1v1h-1zM20 9h1v1h-1zM17 12h1v1h-1zM21 12h1v1h-1z"/>
<path fill="#60ca60" d="M16 8h1v1h-1zM24 12h1v1h-1z"/>
<path fill="#3aba76" d="M20 8h1v1h-1zM24 9h1v1h-1zM27 11h1v1h-1zM29 12h2v1h-2zM3 13h1v1h-1zM28 14h2v1h-2zM31 15h1v1h-1zM37 15h1v1h-1zM37 16h1v1h-1zM39 16h1v1h-1zM39 17h1v1h-1zM48 19h1v1h-1zM49 21h1v1h-1z"/>
<path fill="#31b57b" d="M21 8h1v1h-1zM28 11h1v1h-1zM33 13h2v1h-2zM23 14h2v1h-2zM32 15h2v1h-2zM42 16h1v1h-1zM36 17h1v1h-1zM37 18h2v1h-2zM45 18h3v1h-3zM42 19h1v1h-1zM44 19h1v1h-1z"/>
<path fill="#2cb17e" d="M22 8h1v1h-1zM25 9h1v1h-1zM29 11h1v1h-1zM32 12h1v1h-1zM37 13h1v1h-1zM19 14h2v1h-2zM28 15h1v1h-1zM42 15h1v1h-1zM33 16h1v1h-1zM35 17h1v1h-1zM47 17h2v1h-2zM49 18h1v1h-1zM43 19h1v1h-1zM42 20h1v1h-1zM47 23h1v1h-1z"/>
<path fill="#1f958b" d="M26 8h1v1h-1zM33 10h2v1h-2zM42 12h1v1h-1zM45 13h1v1h-1zM49 14h1v1h-1zM18 15h1v1h-1zM33 19h1v1h-1zM35 20h1v1h-1zM39 22h1v1h-1zM43 23h1v1h-1zM46 24h1v1h-1z"/>
<path fill="#2d718e" d="M35 8h1v1h-1zM39 9h1v1h-1zM25 18h1v1h-1zM29 20h1v1h-1zM36 23h1v1h-1z"/>
<path fill="#dfe318" d="M1 9h1v1h-1zM5 11h1v1h-1z"/>
<path fill="#eae51a" d="M2 9h2v1h-2zM5 9h1v1h-1z"/>
<path fill="#efe51c" d="M4 9h1v1h-1zM3 10h1v1h-1zM7 10h1v1h-1z"/>
<path fill="#dae319" d="M7 9h1v1h-1zM2 10h1v1h-1zM11 10h1v1h-1zM4 11h1v1h-1zM6 11h1v1h-1z"/>
<path fill="#d0e11c" d="M8 9h1v1h-1zM12 10h2v1h-2z"/>
<path fill="#bade28" d="M11 9h1v1h-1zM13 9h2v1h-2zM15 10h1v1h-1z"/>
<path fill="#b5de2b" d="M12 9h1v1h-1zM1 10h1v1h-1zM12 11h2v1h-2z"/>
<path fill="#a5db36" d="M16 9h1v1h-1zM18 10h2v1h-2z"/>
<path fill="#95d840" d="M17 9h1v1h-1zM20 10h1v1h-1zM18 11h1v1h-1zM4 12h1v1h-1zM7 12h1v1h-1z"/>
<path fill="#81d34d" d="M19 9h1v1h-1zM21 10h1v1h-1zM22 11h1v1h-1zM3 12h1v1h-1zM13 12h1v1h-1z"/>
<path fill="#48c16e" d="M23 9h1v1h-1zM4 13h1v1h-1zM18 13h1v1h-1zM24 13h3v1h-3z"/>
<path fill="#86d549" d="M0 10h1v1h-1zM21 11h1v1h-1zM9 12h1v1h-1zM11 12h1v1h-1z"/>
<path fill="#fde725" d="M4 10h2v1h-2z"/>
<path fill="#f8e621" d="M6 10h1v1h-1z"/>
<path fill="#73d056" d="M22 10h1v1h-1zM15 12h2v1h-2zM18 12h1v1h-1zM20 12h1v1h-1z"/>
<path fill="#69cd5b" d="M23 10h1v1h-1zM24 11h1v1h-1zM22 12h1v1h-1z"/>
<path fill="#29af7f" d="M27 10h1v1h-1zM30 11h1v1h-1zM27 15h1v1h-1zM32 16h1v1h-1zM43 16h3v1h-3zM36 18h1v1h-1zM38 19h1v1h-1zM41 20h1v1h-1zM43 20h1v1h-1zM44 21h1v1h-1zM45 22h1v1h-1z"/>
<path fill="#23898e" d="M38 10h1v1h-1zM45 12h1v1h-1zM22 16h1v1h-1zM28 18h1v1h-1zM33 20h1v1h-1z"/>
<path fill="#c0df25" d="M11 11h1v1h-1z"/>
<path fill="#65cb5e" d="M23 12h1v1h-1z"/>
<path fill="#40bd72" d="M28 12h1v1h-1zM9 13h4v1h-4zM14 13h1v1h-1zM29 13h1v1h-1zM31 14h1v1h-1z"/>
<path fill="#24aa83" d="M37 12h1v1h-1zM16 14h2v1h-2zM42 14h1v1h-1zM44 15h1v1h-1zM33 17h1v1h-1zM35 18h1v1h-1zM42 21h2v1h-2z"/>
<path fill="#450457" d="M0 23h2v1h-2zM0 24h10v1h-10z"/>
</g>
<polyline points="124.6,976.3 139.7,985.7 154.8,993.0 169.9,998.8 185.0,1003.3 200.1,1007.1 215.2,1008.9 230.4,1008.5 245.5,1006.9 260.6,1006.5 275.7,1007.1 290.8,1006.9 305.9,1006.5 321.0,1006.5 336.2,1005.4 351.3,1005.4 366.4,1005.8 381.5,1006.5 396.6,1008.5 411.7,1011.2 426.8,1012.7 442.0,1014.1 457.1,1015.8 472.2,1016.8 487.3,1019.5 502.4,1023.1 517.5,1026.6 532.6,1031.4 547.7,1034.5 562.9,1037.6 578.0,1040.7 593.1,1043.8 608.2,1043.8 623.3,1044.9 638.4,1045.5 653.5,1049.0 668.7,1052.1 683.8,1055.3 698.9,1058.4 714.0,1064.2 729.1,1066.7 744.2,1067.3 759.3,1070.8 774.5,1069.8 789.6,1074.6 804.7,1077.1 819.8,1078.1 834.9,1078.5 850.0,1080.6 865.1,1081.2" fill="none" stroke="#0000ff" stroke-width="2.45" stroke-dasharray="9.1 3.9" stroke-linejoin="round"/>
<polyline points="124.6,1055.3 139.7,1064.6 154.8,1070.8 169.9,1075.6 185.0,1079.1 200.1,1082.9 215.2,1086.0 230.4,1087.0 245.5,1086.8 260.6,1087.0 275.7,1087.9 290.8,1088.9 305.9,1089.5 321.0,1088.9 336.2,1088.5 351.3,1089.5 366.4,1091.2 381.5,1093.7 396.6,1096.8 411.7,1099.9 426.8,1104.1 442.0,1108.2 457.1,1112.4 472.2,1115.5 487.3,1121.7 502.4,1128.0 517.5,1133.1 532.6,1140.4 547.7,1144.6 562.9,1148.7 578.0,1150.4 593.1,1153.3 608.2,1159.1 623.3,1162.2 638.4,1163.3 653.5,1166.8 668.7,1169.5 683.8,1172.6 698.9,1175.7 714.0,1178.8 729.1,1182.6 744.2,1182.6 759.3,1185.1 774.5,1186.1 789.6,1190.3 804.7,1191.7 819.8,1192.3 834.9,1193.8 850.0,1193.8 865.1,1197.5" fill="none" stroke="#0000ff" stroke-width="2.45" stroke-dasharray="9.1 3.9" stroke-linejoin="round"/>
<polyline points="124.6,1015.8 139.7,1024.7 154.8,1031.4 169.9,1036.6 185.0,1040.7 200.1,1044.3 215.2,1047.0 230.4,1047.0 245.5,1045.9 260.6,1045.9 275.7,1046.3 290.8,1047.0 305.9,1046.5 321.0,1046.5 336.2,1045.9 351.3,1046.5 366.4,1047.6 381.5,1049.4 396.6,1051.5 411.7,1054.6 426.8,1057.3 442.0,1060.0 457.1,1063.6 472.2,1065.2 487.3,1068.8 502.4,1074.0 517.5,1079.1 532.6,1084.8 547.7,1089.5 562.9,1092.0 578.0,1095.1 593.1,1097.8 608.2,1102.0 623.3,1104.1 638.4,1104.1 653.5,1107.8 668.7,1111.3 683.8,1114.5 698.9,1118.2 714.0,1121.7 729.1,1124.8 744.2,1125.9 759.3,1130.0 774.5,1131.5 789.6,1134.2 804.7,1136.9 819.8,1138.3 834.9,1139.0 850.0,1139.0 865.1,1143.5" fill="none" stroke="#000" stroke-width="2.45" stroke-dasharray="9.1 3.9" stroke-linejoin="round"/>
<rect x="117.0" y="886.2" width="755.7" height="359.7" fill="none" stroke="#000" stroke-width="1.2"/>
<path d="M232.70 1245.9v5.8M372.70 1245.9v5.8M512.70 1245.9v5.8M652.70 1245.9v5.8M792.70 1245.9v5.8M117.0 950.10h-5.8M117.0 1017.30h-5.8M117.0 1084.50h-5.8M117.0 1151.70h-5.8M117.0 1218.90h-5.8" stroke="#000" stroke-width="1.2" fill="none"/>
<g font-size="26.7" text-anchor="middle">
<text transform="translate(232.7,1278.3) scale(0.96,1)">0.05</text>
<text transform="translate(372.7,1278.3) scale(0.96,1)">0.10</text>
<text transform="translate(512.7,1278.3) scale(0.96,1)">0.15</text>
<text transform="translate(652.7,1278.3) scale(0.96,1)">0.20</text>
<text transform="translate(792.7,1278.3) scale(0.96,1)">0.25</text>
</g>
<g font-size="26.7" text-anchor="end">
<text transform="translate(107.1,961.2) scale(0.96,1)">0.02</text>
<text transform="translate(107.1,1028.4) scale(0.96,1)">0.00</text>
<text transform="translate(107.1,1095.6) scale(0.96,1)">−0.02</text>
<text transform="translate(107.1,1162.8) scale(0.96,1)">−0.04</text>
<text transform="translate(107.1,1230.0) scale(0.96,1)">−0.06</text>
</g>
<text x="495.9" y="1308.7" font-size="25.8" text-anchor="middle">SFD</text>
<text transform="translate(17.1,1066.9) rotate(-90) scale(0.956,1)" font-size="23.65" text-anchor="middle">Map6.1&#39; - SFD</text>
<g transform="translate(1020.5,890.3) scale(15.92400,14.33200)" shape-rendering="crispEdges">
<path fill="#433e85" d="M0 0h1v1h-1zM3 2h1v1h-1zM6 2h1v1h-1zM11 2h6v1h-6zM25 3h2v1h-2zM30 4h1v1h-1zM39 6h1v1h-1zM49 6h1v1h-1zM17 19h1v1h-1zM23 20h1v1h-1zM28 23h1v1h-1z"/>
<path fill="#46327e" d="M1 0h1v1h-1zM24 2h1v1h-1zM30 3h1v1h-1zM35 4h1v1h-1zM7 18h3v1h-3zM14 19h1v1h-1zM17 20h1v1h-1zM22 21h1v1h-1zM25 22h1v1h-1z"/>
<path fill="#482878" d="M2 0h1v1h-1zM20 1h4v1h-4zM30 2h1v1h-1zM37 4h2v1h-2zM1 17h1v1h-1zM15 20h1v1h-1zM18 21h1v1h-1zM21 22h2v1h-2zM24 23h1v1h-1zM26 24h1v1h-1z"/>
<path fill="#482071" d="M3 0h3v1h-3zM10 0h2v1h-2zM13 0h1v1h-1zM18 0h2v1h-2zM22 0h1v1h-1zM27 1h1v1h-1zM29 1h1v1h-1zM34 2h1v1h-1zM36 3h1v1h-1zM39 4h1v1h-1zM41 4h2v1h-2zM44 4h1v1h-1zM2 18h1v1h-1zM6 19h1v1h-1zM12 20h1v1h-1zM18 22h1v1h-1zM23 24h1v1h-1z"/>
<path fill="#482374" d="M6 0h4v1h-4zM12 0h1v1h-1zM14 0h4v1h-4zM28 1h1v1h-1zM31 2h3v1h-3zM49 3h1v1h-1zM40 4h1v1h-1zM43 4h1v1h-1zM45 4h2v1h-2zM7 19h3v1h-3zM13 20h1v1h-1zM16 21h1v1h-1zM19 22h1v1h-1zM21 23h2v1h-2zM24 24h1v1h-1z"/>
<path fill="#481d6f" d="M20 0h2v1h-2zM23 0h2v1h-2zM30 1h1v1h-1zM37 3h2v1h-2zM0 17h1v1h-1zM5 19h1v1h-1zM11 20h1v1h-1zM15 21h1v1h-1zM17 22h1v1h-1zM20 23h1v1h-1zM21 24h2v1h-2z"/>
<path fill="#481b6d" d="M25 0h4v1h-4zM31 1h3v1h-3zM35 2h1v1h-1zM49 2h1v1h-1zM46 3h3v1h-3zM1 18h1v1h-1zM4 19h1v1h-1zM14 21h1v1h-1zM16 22h1v1h-1zM18 23h2v1h-2z"/>
<path fill="#48186a" d="M29 0h2v1h-2zM34 1h1v1h-1zM36 2h1v1h-1zM39 3h7v1h-7zM3 19h1v1h-1zM7 20h4v1h-4zM12 21h2v1h-2zM20 24h1v1h-1z"/>
<path fill="#481668" d="M31 0h3v1h-3zM35 1h1v1h-1zM49 1h1v1h-1zM37 2h2v1h-2zM47 2h2v1h-2zM2 19h1v1h-1zM6 20h1v1h-1zM11 21h1v1h-1zM15 22h1v1h-1zM17 23h1v1h-1zM18 24h2v1h-2z"/>
<path fill="#471365" d="M34 0h1v1h-1zM36 1h1v1h-1zM39 2h3v1h-3zM43 2h1v1h-1zM45 2h2v1h-2zM0 18h1v1h-1zM4 20h2v1h-2zM10 21h1v1h-1zM13 22h2v1h-2zM16 23h1v1h-1zM17 24h1v1h-1z"/>
<path fill="#471063" d="M35 0h2v1h-2zM49 0h1v1h-1zM37 1h2v1h-2zM46 1h3v1h-3zM42 2h1v1h-1zM44 2h1v1h-1zM1 19h1v1h-1zM3 20h1v1h-1zM7 21h3v1h-3zM11 22h2v1h-2zM14 23h2v1h-2zM16 24h1v1h-1z"/>
<path fill="#470d60" d="M37 0h2v1h-2zM47 0h1v1h-1zM39 1h7v1h-7zM0 19h1v1h-1zM2 20h1v1h-1zM5 21h2v1h-2zM10 22h1v1h-1zM12 23h2v1h-2zM15 24h1v1h-1z"/>
<path fill="#460a5d" d="M39 0h3v1h-3zM43 0h1v1h-1zM45 0h2v1h-2zM48 0h1v1h-1zM1 20h1v1h-1zM2 21h3v1h-3zM6 22h4v1h-4zM10 23h2v1h-2zM12 24h3v1h-3z"/>
<path fill="#46075a" d="M42 0h1v1h-1zM44 0h1v1h-1zM0 20h1v1h-1zM0 21h2v1h-2zM2 22h4v1h-4zM5 23h5v1h-5zM9 24h3v1h-3z"/>
<path fill="#39568c" d="M0 1h1v1h-1zM6 3h2v1h-2zM9 3h1v1h-1zM34 6h1v1h-1zM20 18h1v1h-1zM28 21h1v1h-1zM32 23h1v1h-1z"/>
<path fill="#404588" d="M1 1h1v1h-1zM23 3h1v1h-1zM28 4h1v1h-1zM34 5h1v1h-1zM44 7h5v1h-5zM2 16h1v1h-1zM6 17h4v1h-4zM20 19h1v1h-1zM24 20h1v1h-1zM29 23h1v1h-1z"/>
<path fill="#453781" d="M2 1h1v1h-1zM22 2h1v1h-1zM27 3h2v1h-2zM34 4h1v1h-1zM44 6h2v1h-2zM3 17h1v1h-1zM15 19h1v1h-1zM20 20h1v1h-1zM24 21h1v1h-1zM27 23h1v1h-1z"/>
<path fill="#472d7b" d="M3 1h1v1h-1zM6 1h1v1h-1zM9 1h10v1h-10zM31 3h1v1h-1zM33 3h1v1h-1zM36 4h1v1h-1zM39 5h3v1h-3zM43 5h1v1h-1zM45 5h2v1h-2zM48 5h1v1h-1zM0 16h1v1h-1zM5 18h1v1h-1zM12 19h1v1h-1zM16 20h1v1h-1zM20 21h1v1h-1z"/>
<path fill="#472a7a" d="M4 1h2v1h-2zM19 1h1v1h-1zM27 2h3v1h-3zM34 3h1v1h-1zM49 4h1v1h-1zM42 5h1v1h-1zM44 5h1v1h-1zM4 18h1v1h-1zM11 19h1v1h-1zM19 21h1v1h-1zM23 22h1v1h-1zM25 23h1v1h-1z"/>
<path fill="#472f7d" d="M7 1h2v1h-2zM25 2h2v1h-2zM32 3h1v1h-1zM47 5h1v1h-1zM2 17h1v1h-1zM6 18h1v1h-1zM13 19h1v1h-1zM21 21h1v1h-1zM24 22h1v1h-1zM26 23h1v1h-1zM27 24h1v1h-1z"/>
<path fill="#482576" d="M24 1h3v1h-3zM35 3h1v1h-1zM47 4h2v1h-2zM3 18h1v1h-1zM10 19h1v1h-1zM14 20h1v1h-1zM17 21h1v1h-1zM20 22h1v1h-1zM23 23h1v1h-1zM25 24h1v1h-1z"/>
<path fill="#2d718e" d="M0 2h1v1h-1zM3 4h1v1h-1zM5 4h1v1h-1zM9 4h1v1h-1zM21 5h2v1h-2zM37 8h1v1h-1zM40 9h1v1h-1zM44 10h1v1h-1zM4 15h1v1h-1zM23 17h1v1h-1zM30 20h1v1h-1zM32 21h1v1h-1zM37 23h1v1h-1z"/>
<path fill="#365d8d" d="M1 2h1v1h-1zM30 6h1v1h-1zM41 8h1v1h-1zM2 15h1v1h-1zM6 16h5v1h-5zM29 21h1v1h-1zM36 24h1v1h-1z"/>
<path fill="#3e4c8a" d="M2 2h1v1h-1zM41 7h1v1h-1zM11 17h1v1h-1zM16 18h1v1h-1zM31 23h1v1h-1zM33 24h1v1h-1z"/>
<path fill="#443b84" d="M4 2h2v1h-2zM10 2h1v1h-1zM17 2h2v1h-2zM31 4h2v1h-2zM36 5h1v1h-1zM40 6h2v1h-2zM43 6h1v1h-1zM4 17h1v1h-1zM12 18h1v1h-1zM16 19h1v1h-1zM21 20h2v1h-2zM25 21h1v1h-1zM30 24h1v1h-1z"/>
<path fill="#424086" d="M7 2h3v1h-3zM35 5h1v1h-1zM0 15h1v1h-1zM5 17h1v1h-1zM13 18h1v1h-1zM31 24h1v1h-1z"/>
<path fill="#443983" d="M19 2h1v1h-1zM33 4h1v1h-1zM37 5h1v1h-1zM42 6h1v1h-1zM46 6h3v1h-3zM1 16h1v1h-1zM11 18h1v1h-1zM26 22h1v1h-1zM29 24h1v1h-1z"/>
<path fill="#463480" d="M20 2h2v1h-2zM23 2h1v1h-1zM29 3h1v1h-1zM38 5h1v1h-1zM49 5h1v1h-1zM10 18h1v1h-1zM18 20h2v1h-2zM23 21h1v1h-1zM28 24h1v1h-1z"/>
<path fill="#20928c" d="M0 3h1v1h-1zM4 5h2v1h-2zM7 5h2v1h-2zM30 9h1v1h-1zM47 13h1v1h-1zM8 14h1v1h-1zM10 14h1v1h-1zM20 15h1v1h-1z"/>
<path fill="#2a788e" d="M1 3h1v1h-1zM18 5h1v1h-1zM25 6h1v1h-1zM34 8h1v1h-1zM43 10h1v1h-1zM48 11h1v1h-1zM6 15h2v1h-2zM11 15h1v1h-1zM19 16h1v1h-1zM29 19h1v1h-1zM31 20h1v1h-1zM41 24h1v1h-1z"/>
<path fill="#32658e" d="M2 3h1v1h-1zM16 4h2v1h-2zM25 5h1v1h-1zM28 6h1v1h-1zM12 16h1v1h-1zM19 17h1v1h-1zM24 18h1v1h-1zM28 20h1v1h-1z"/>
<path fill="#3a548c" d="M3 3h1v1h-1zM5 3h1v1h-1zM24 4h1v1h-1zM28 5h1v1h-1zM49 8h1v1h-1zM4 16h1v1h-1zM14 17h1v1h-1zM30 22h1v1h-1z"/>
<path fill="#3b528b" d="M4 3h1v1h-1zM10 3h6v1h-6zM29 5h1v1h-1zM35 6h1v1h-1zM44 8h5v1h-5zM13 17h1v1h-1zM18 18h2v1h-2zM24 19h1v1h-1zM26 20h1v1h-1z"/>
<path fill="#38598c" d="M8 3h1v1h-1zM23 4h1v1h-1zM27 5h1v1h-1zM32 6h2v1h-2zM38 7h1v1h-1zM42 8h2v1h-2zM0 14h1v1h-1zM5 16h1v1h-1zM21 18h1v1h-1zM25 19h1v1h-1zM35 24h1v1h-1z"/>
<path fill="#3c508b" d="M16 3h2v1h-2zM25 4h1v1h-1zM39 7h1v1h-1zM1 15h1v1h-1zM12 17h1v1h-1zM17 18h1v1h-1zM27 21h1v1h-1zM29 22h1v1h-1zM34 24h1v1h-1z"/>
<path fill="#3d4e8a" d="M18 3h1v1h-1zM26 4h1v1h-1zM30 5h1v1h-1zM36 6h1v1h-1zM40 7h1v1h-1zM3 16h1v1h-1zM23 19h1v1h-1z"/>
<path fill="#3e4989" d="M19 3h1v1h-1zM31 5h2v1h-2zM37 6h1v1h-1zM42 7h2v1h-2zM49 7h1v1h-1zM21 19h2v1h-2zM25 20h1v1h-1zM28 22h1v1h-1zM32 24h1v1h-1z"/>
<path fill="#3f4788" d="M20 3h3v1h-3zM27 4h1v1h-1zM33 5h1v1h-1zM38 6h1v1h-1zM10 17h1v1h-1zM15 18h1v1h-1zM30 23h1v1h-1z"/>
<path fill="#414287" d="M24 3h1v1h-1zM29 4h1v1h-1zM14 18h1v1h-1zM18 19h2v1h-2zM26 21h1v1h-1zM27 22h1v1h-1z"/>
<path fill="#2eb37c" d="M0 4h1v1h-1zM4 6h2v1h-2zM16 7h1v1h-1zM7 13h1v1h-1zM37 13h1v1h-1zM33 14h4v1h-4zM31 15h1v1h-1zM35 15h1v1h-1zM40 15h3v1h-3zM43 17h2v1h-2zM38 18h1v1h-1zM43 18h1v1h-1zM45 18h1v1h-1zM47 18h1v1h-1zM39 19h1v1h-1zM44 19h1v1h-1zM45 20h1v1h-1z"/>
<path fill="#1f998a" d="M1 4h1v1h-1zM23 7h1v1h-1zM26 8h1v1h-1zM28 9h1v1h-1zM32 10h1v1h-1zM44 13h1v1h-1zM15 14h1v1h-1zM24 15h1v1h-1zM30 17h1v1h-1z"/>
<path fill="#25838e" d="M2 4h1v1h-1zM13 5h2v1h-2zM23 6h1v1h-1zM29 8h1v1h-1zM36 9h2v1h-2zM48 12h1v1h-1zM15 15h1v1h-1zM23 16h1v1h-1zM26 17h1v1h-1zM33 20h1v1h-1zM35 21h1v1h-1zM40 23h1v1h-1z"/>
<path fill="#2e6f8e" d="M4 4h1v1h-1zM30 7h1v1h-1zM41 9h1v1h-1zM45 10h2v1h-2zM15 16h1v1h-1z"/>
<path fill="#2c728e" d="M6 4h3v1h-3zM20 5h1v1h-1zM26 6h1v1h-1zM29 7h1v1h-1zM36 8h1v1h-1zM16 16h1v1h-1zM26 18h1v1h-1zM28 19h1v1h-1z"/>
<path fill="#2e6d8e" d="M10 4h2v1h-2zM23 5h1v1h-1zM47 10h1v1h-1zM22 17h1v1h-1zM27 19h1v1h-1zM34 22h1v1h-1zM36 23h1v1h-1zM39 24h1v1h-1z"/>
<path fill="#2f6b8e" d="M12 4h1v1h-1zM31 7h1v1h-1zM38 8h1v1h-1zM42 9h1v1h-1zM48 10h2v1h-2zM1 14h1v1h-1zM3 15h1v1h-1zM21 17h1v1h-1zM25 18h1v1h-1zM29 20h1v1h-1z"/>
<path fill="#30698e" d="M13 4h2v1h-2zM24 5h1v1h-1zM27 6h1v1h-1zM32 7h3v1h-3zM43 9h1v1h-1zM14 16h1v1h-1zM20 17h1v1h-1zM31 21h1v1h-1zM33 22h1v1h-1z"/>
<path fill="#31678e" d="M15 4h1v1h-1zM13 16h1v1h-1zM35 23h1v1h-1zM38 24h1v1h-1z"/>
<path fill="#33638d" d="M18 4h1v1h-1zM35 7h1v1h-1zM39 8h1v1h-1zM44 9h1v1h-1zM18 17h1v1h-1zM30 21h1v1h-1zM32 22h1v1h-1z"/>
<path fill="#355f8d" d="M19 4h1v1h-1zM26 5h1v1h-1zM37 7h1v1h-1zM40 8h1v1h-1zM47 9h2v1h-2zM16 17h1v1h-1zM23 18h1v1h-1zM27 20h1v1h-1zM34 23h1v1h-1z"/>
<path fill="#375b8d" d="M20 4h3v1h-3zM31 6h1v1h-1zM15 17h1v1h-1zM22 18h1v1h-1zM31 22h1v1h-1zM33 23h1v1h-1z"/>
<path fill="#73d056" d="M0 5h1v1h-1zM4 7h1v1h-1zM11 8h1v1h-1zM17 10h2v1h-2zM20 10h1v1h-1z"/>
<path fill="#3aba76" d="M1 5h1v1h-1zM14 7h1v1h-1zM20 8h1v1h-1zM31 13h1v1h-1zM37 15h1v1h-1zM39 15h1v1h-1zM37 16h1v1h-1zM48 19h1v1h-1zM49 22h1v1h-1zM49 23h1v1h-1z"/>
<path fill="#21a685" d="M2 5h1v1h-1zM24 8h1v1h-1zM28 10h1v1h-1zM40 13h2v1h-2zM20 14h3v1h-3zM27 15h1v1h-1zM44 22h1v1h-1z"/>
<path fill="#20938c" d="M3 5h1v1h-1zM18 6h1v1h-1zM24 7h1v1h-1zM29 9h1v1h-1zM36 10h2v1h-2zM0 12h1v1h-1zM43 12h1v1h-1zM11 14h1v1h-1zM21 15h1v1h-1zM31 18h1v1h-1zM40 22h1v1h-1zM47 24h1v1h-1z"/>
<path fill="#1f958b" d="M6 5h1v1h-1zM17 6h1v1h-1zM35 10h1v1h-1zM45 13h2v1h-2zM5 14h1v1h-1zM7 14h1v1h-1zM12 14h1v1h-1zM49 14h1v1h-1zM22 15h1v1h-1zM26 16h1v1h-1zM29 17h1v1h-1zM34 19h1v1h-1zM38 21h1v1h-1z"/>
<path fill="#228d8d" d="M9 5h1v1h-1zM25 7h1v1h-1zM27 8h1v1h-1zM31 9h1v1h-1zM38 10h1v1h-1zM41 11h1v1h-1zM44 12h1v1h-1zM19 15h1v1h-1zM42 23h1v1h-1zM46 24h1v1h-1z"/>
<path fill="#23898e" d="M10 5h1v1h-1zM32 9h3v1h-3zM42 11h1v1h-1zM45 12h1v1h-1zM1 13h1v1h-1zM3 14h1v1h-1zM36 21h1v1h-1z"/>
<path fill="#24878e" d="M11 5h1v1h-1zM21 6h1v1h-1zM28 8h1v1h-1zM39 10h1v1h-1zM46 12h1v1h-1zM16 15h2v1h-2zM24 16h1v1h-1zM29 18h1v1h-1zM34 20h1v1h-1zM38 22h1v1h-1zM41 23h1v1h-1z"/>
<path fill="#25858e" d="M12 5h1v1h-1zM22 6h1v1h-1zM26 7h1v1h-1zM35 9h1v1h-1zM43 11h1v1h-1zM47 12h1v1h-1zM31 19h1v1h-1zM44 24h1v1h-1z"/>
<path fill="#27808e" d="M15 5h1v1h-1zM30 8h1v1h-1zM40 10h1v1h-1zM44 11h1v1h-1zM14 15h1v1h-1zM21 16h1v1h-1zM37 22h1v1h-1zM43 24h1v1h-1z"/>
<path fill="#287c8e" d="M16 5h2v1h-2zM27 7h1v1h-1zM31 8h1v1h-1zM45 11h2v1h-2zM12 15h1v1h-1zM20 16h1v1h-1zM25 17h1v1h-1zM27 18h1v1h-1zM36 22h1v1h-1zM42 24h1v1h-1z"/>
<path fill="#2a768e" d="M19 5h1v1h-1zM28 7h1v1h-1zM39 9h1v1h-1zM49 11h1v1h-1zM18 16h1v1h-1zM24 17h1v1h-1zM33 21h1v1h-1zM38 23h1v1h-1z"/>
<path fill="#c5e021" d="M0 6h1v1h-1zM0 9h1v1h-1z"/>
<path fill="#81d34d" d="M1 6h1v1h-1zM16 9h1v1h-1zM15 10h1v1h-1z"/>
<path fill="#54c568" d="M2 6h1v1h-1zM9 7h1v1h-1zM17 8h1v1h-1zM23 10h1v1h-1zM9 12h2v1h-2z"/>
<path fill="#34b679" d="M3 6h1v1h-1zM15 7h1v1h-1zM27 11h1v1h-1zM29 12h2v1h-2zM20 13h1v1h-1zM28 13h2v1h-2zM37 14h1v1h-1zM38 15h1v1h-1zM42 16h1v1h-1zM37 17h2v1h-2zM40 17h3v1h-3zM42 18h1v1h-1zM48 18h1v1h-1zM46 19h2v1h-2zM46 20h2v1h-2zM49 20h1v1h-1zM47 21h1v1h-1zM48 23h1v1h-1z"/>
<path fill="#31b57b" d="M6 6h1v1h-1zM21 8h1v1h-1zM24 9h1v1h-1zM26 10h1v1h-1zM0 11h1v1h-1zM31 12h1v1h-1zM5 13h2v1h-2zM19 13h1v1h-1zM21 13h4v1h-4zM30 14h1v1h-1zM38 14h2v1h-2zM36 15h1v1h-1zM36 16h1v1h-1zM40 16h2v1h-2zM40 18h2v1h-2zM44 18h1v1h-1zM46 18h1v1h-1zM42 19h1v1h-1zM45 19h1v1h-1zM49 19h1v1h-1zM46 21h1v1h-1zM47 22h1v1h-1z"/>
<path fill="#2cb17e" d="M7 6h1v1h-1zM25 9h1v1h-1zM28 11h1v1h-1zM4 13h1v1h-1zM18 13h1v1h-1zM32 13h4v1h-4zM27 14h3v1h-3zM32 14h1v1h-1zM33 15h2v1h-2zM35 16h1v1h-1zM43 16h1v1h-1zM36 17h1v1h-1zM45 17h2v1h-2zM48 17h1v1h-1zM37 18h1v1h-1zM49 18h1v1h-1zM41 19h1v1h-1zM43 19h1v1h-1zM44 20h1v1h-1zM45 21h1v1h-1zM46 22h1v1h-1z"/>
<path fill="#29af7f" d="M8 6h1v1h-1zM17 7h1v1h-1zM22 8h1v1h-1zM29 11h1v1h-1zM15 13h3v1h-3zM36 13h1v1h-1zM38 13h2v1h-2zM26 14h1v1h-1zM44 16h1v1h-1zM47 17h1v1h-1zM40 19h1v1h-1zM42 20h1v1h-1zM47 23h1v1h-1z"/>
<path fill="#25ac82" d="M9 6h1v1h-1zM18 7h1v1h-1zM31 11h1v1h-1zM33 12h2v1h-2zM37 12h1v1h-1zM9 13h2v1h-2zM42 14h1v1h-1zM44 15h1v1h-1zM33 16h1v1h-1zM48 16h1v1h-1zM35 17h1v1h-1zM49 17h1v1h-1zM38 19h1v1h-1zM41 20h1v1h-1zM45 22h1v1h-1zM49 24h1v1h-1z"/>
<path fill="#22a884" d="M10 6h1v1h-1zM19 7h1v1h-1zM26 9h1v1h-1zM38 12h1v1h-1zM23 14h2v1h-2zM43 14h1v1h-1zM28 15h1v1h-1zM45 15h2v1h-2zM32 16h1v1h-1zM34 17h1v1h-1zM42 21h2v1h-2zM46 23h1v1h-1z"/>
<path fill="#20a486" d="M11 6h1v1h-1zM20 7h1v1h-1zM32 11h3v1h-3zM39 12h1v1h-1zM42 13h1v1h-1zM26 15h1v1h-1zM47 15h2v1h-2zM30 16h1v1h-1zM49 16h1v1h-1zM33 17h1v1h-1zM35 18h1v1h-1z"/>
<path fill="#1fa287" d="M12 6h1v1h-1zM29 10h1v1h-1zM35 11h1v1h-1zM37 11h1v1h-1zM19 14h1v1h-1zM44 14h1v1h-1zM36 19h1v1h-1zM38 20h1v1h-1zM41 21h1v1h-1zM45 23h1v1h-1z"/>
<path fill="#1fa188" d="M13 6h1v1h-1zM21 7h1v1h-1zM25 8h1v1h-1zM30 10h1v1h-1zM36 11h1v1h-1zM45 14h1v1h-1zM25 15h1v1h-1zM29 16h1v1h-1zM31 17h2v1h-2zM40 21h1v1h-1z"/>
<path fill="#1f9f88" d="M14 6h1v1h-1zM27 9h1v1h-1zM31 10h1v1h-1zM43 13h1v1h-1zM18 14h1v1h-1zM46 14h1v1h-1zM49 15h1v1h-1zM34 18h1v1h-1zM37 20h1v1h-1zM43 22h1v1h-1z"/>
<path fill="#1e9b8a" d="M15 6h1v1h-1zM41 12h1v1h-1zM2 13h1v1h-1zM47 14h2v1h-2zM27 16h1v1h-1zM33 18h1v1h-1zM35 19h1v1h-1zM44 23h1v1h-1z"/>
<path fill="#1f978b" d="M16 6h1v1h-1zM33 10h2v1h-2zM39 11h1v1h-1zM42 12h1v1h-1zM6 14h1v1h-1zM13 14h2v1h-2zM23 15h1v1h-1zM32 18h1v1h-1zM36 20h1v1h-1zM41 22h1v1h-1zM48 24h1v1h-1z"/>
<path fill="#218f8d" d="M19 6h1v1h-1zM40 11h1v1h-1zM48 13h1v1h-1zM4 14h1v1h-1zM9 14h1v1h-1zM25 16h1v1h-1zM28 17h1v1h-1zM33 19h1v1h-1zM35 20h1v1h-1zM37 21h1v1h-1zM39 22h1v1h-1zM43 23h1v1h-1z"/>
<path fill="#228b8d" d="M20 6h1v1h-1zM49 13h1v1h-1zM18 15h1v1h-1zM27 17h1v1h-1zM30 18h1v1h-1zM32 19h1v1h-1zM45 24h1v1h-1z"/>
<path fill="#277e8e" d="M24 6h1v1h-1zM38 9h1v1h-1zM41 10h1v1h-1zM13 15h1v1h-1zM30 19h1v1h-1zM32 20h1v1h-1zM39 23h1v1h-1z"/>
<path fill="#34618d" d="M29 6h1v1h-1zM36 7h1v1h-1zM45 9h2v1h-2zM49 9h1v1h-1zM11 16h1v1h-1zM17 17h1v1h-1zM26 19h1v1h-1zM37 24h1v1h-1z"/>
<path fill="#f8e621" d="M0 7h1v1h-1zM0 8h1v1h-1z"/>
<path fill="#cae11f" d="M1 7h1v1h-1zM3 8h1v1h-1zM2 10h1v1h-1zM6 10h1v1h-1z"/>
<path fill="#a5db36" d="M2 7h1v1h-1zM10 9h1v1h-1zM1 10h1v1h-1zM3 11h1v1h-1zM6 11h1v1h-1z"/>
<path fill="#7cd250" d="M3 7h1v1h-1zM10 8h1v1h-1zM11 11h1v1h-1z"/>
<path fill="#6ece58" d="M5 7h2v1h-2zM12 8h3v1h-3zM18 9h1v1h-1zM14 11h1v1h-1zM5 12h1v1h-1z"/>
<path fill="#60ca60" d="M7 7h1v1h-1zM20 9h1v1h-1zM16 11h3v1h-3zM7 12h1v1h-1z"/>
<path fill="#5cc863" d="M8 7h1v1h-1zM16 8h1v1h-1zM21 11h1v1h-1zM3 12h1v1h-1z"/>
<path fill="#48c16e" d="M10 7h1v1h-1zM14 12h2v1h-2zM21 12h1v1h-1zM25 12h1v1h-1z"/>
<path fill="#40bd72" d="M11 7h1v1h-1zM26 11h1v1h-1zM24 12h1v1h-1z"/>
<path fill="#3dbc74" d="M12 7h2v1h-2zM23 9h1v1h-1zM25 10h1v1h-1zM2 12h1v1h-1zM27 12h1v1h-1zM39 16h1v1h-1zM39 17h1v1h-1zM48 20h1v1h-1zM48 21h1v1h-1zM48 22h1v1h-1z"/>
<path fill="#1e9d89" d="M22 7h1v1h-1zM38 11h1v1h-1zM40 12h1v1h-1zM16 14h2v1h-2zM28 16h1v1h-1zM39 21h1v1h-1zM42 22h1v1h-1z"/>
<path fill="#f4e61e" d="M1 8h1v1h-1zM2 9h2v1h-2z"/>
<path fill="#e5e419" d="M2 8h1v1h-1zM4 10h1v1h-1z"/>
<path fill="#c0df25" d="M4 8h1v1h-1zM7 9h1v1h-1zM7 10h1v1h-1z"/>
<path fill="#b0dd2f" d="M5 8h1v1h-1zM9 10h1v1h-1zM4 11h2v1h-2z"/>
<path fill="#aadc32" d="M6 8h1v1h-1zM9 9h1v1h-1zM10 10h1v1h-1z"/>
<path fill="#95d840" d="M7 8h1v1h-1zM11 9h3v1h-3zM12 10h2v1h-2z"/>
<path fill="#90d743" d="M8 8h1v1h-1zM14 9h1v1h-1zM8 11h1v1h-1z"/>
<path fill="#86d549" d="M9 8h1v1h-1zM2 11h1v1h-1zM9 11h2v1h-2z"/>
<path fill="#65cb5e" d="M15 8h1v1h-1zM21 10h1v1h-1zM19 11h2v1h-2z"/>
<path fill="#4cc26c" d="M18 8h1v1h-1zM24 11h2v1h-2zM12 12h2v1h-2zM19 12h1v1h-1z"/>
<path fill="#44bf70" d="M19 8h1v1h-1zM22 9h1v1h-1zM24 10h1v1h-1zM16 12h3v1h-3zM22 12h2v1h-2zM26 12h1v1h-1z"/>
<path fill="#27ad81" d="M23 8h1v1h-1zM27 10h1v1h-1zM30 11h1v1h-1zM32 12h1v1h-1zM8 13h1v1h-1zM11 13h4v1h-4zM25 14h1v1h-1zM40 14h2v1h-2zM30 15h1v1h-1zM32 15h1v1h-1zM43 15h1v1h-1zM34 16h1v1h-1zM45 16h2v1h-2zM43 20h1v1h-1zM44 21h1v1h-1z"/>
<path fill="#297a8e" d="M32 8h2v1h-2zM42 10h1v1h-1zM47 11h1v1h-1zM2 14h1v1h-1zM34 21h1v1h-1z"/>
<path fill="#2b748e" d="M35 8h1v1h-1zM0 13h1v1h-1zM5 15h1v1h-1zM8 15h3v1h-3zM17 16h1v1h-1zM35 22h1v1h-1zM40 24h1v1h-1z"/>
<path fill="#dfe318" d="M1 9h1v1h-1zM5 9h1v1h-1zM3 10h1v1h-1z"/>
<path fill="#eae51a" d="M4 9h1v1h-1z"/>
<path fill="#d0e11c" d="M6 9h1v1h-1z"/>
<path fill="#b5de2b" d="M8 9h1v1h-1zM8 10h1v1h-1z"/>
<path fill="#8bd646" d="M15 9h1v1h-1zM14 10h1v1h-1z"/>
<path fill="#77d153" d="M17 9h1v1h-1zM0 10h1v1h-1zM16 10h1v1h-1zM19 10h1v1h-1zM12 11h2v1h-2z"/>
<path fill="#69cd5b" d="M19 9h1v1h-1zM15 11h1v1h-1zM4 12h1v1h-1zM6 12h1v1h-1z"/>
<path fill="#50c46a" d="M21 9h1v1h-1zM11 12h1v1h-1zM20 12h1v1h-1z"/>
<path fill="#dae319" d="M5 10h1v1h-1z"/>
<path fill="#a0da39" d="M11 10h1v1h-1z"/>
<path fill="#58c765" d="M22 10h1v1h-1zM1 11h1v1h-1zM22 11h2v1h-2zM8 12h1v1h-1z"/>
<path fill="#9bd93c" d="M7 11h1v1h-1z"/>
<path fill="#24aa83" d="M1 12h1v1h-1zM35 12h2v1h-2zM3 13h1v1h-1zM29 15h1v1h-1zM31 16h1v1h-1zM47 16h1v1h-1zM36 18h1v1h-1zM37 19h1v1h-1zM39 20h2v1h-2z"/>
<path fill="#37b878" d="M28 12h1v1h-1zM25 13h3v1h-3zM30 13h1v1h-1zM31 14h1v1h-1zM38 16h1v1h-1zM39 18h1v1h-1zM49 21h1v1h-1z"/>
<path fill="#26828e" d="M49 12h1v1h-1zM22 16h1v1h-1zM28 18h1v1h-1z"/>
<path fill="#450457" d="M0 22h2v1h-2zM0 23h5v1h-5zM0 24h9v1h-9z"/>
</g>
<polyline points="1028.5,975.7 1044.4,984.0 1060.3,991.0 1076.2,996.5 1092.2,1000.4 1108.1,1003.3 1124.0,1004.8 1139.9,1004.1 1155.9,1002.6 1171.8,1002.2 1187.7,1002.6 1203.6,1002.4 1219.5,1002.0 1235.5,1002.0 1251.4,1001.1 1267.3,1001.1 1283.2,1001.5 1299.2,1002.4 1315.1,1004.1 1331.0,1007.0 1346.9,1009.6 1362.9,1010.9 1378.8,1012.5 1394.7,1014.2 1410.6,1016.8 1426.6,1021.2 1442.5,1024.5 1458.4,1029.5 1474.3,1032.1 1490.3,1034.8 1506.2,1038.3 1522.1,1042.0 1538.0,1042.0 1554.0,1043.5 1569.9,1044.2 1585.8,1047.9 1601.7,1051.4 1617.7,1054.4 1633.6,1057.9 1649.5,1064.3 1665.4,1066.0 1681.3,1067.1 1697.3,1071.1 1713.2,1071.1 1729.1,1075.9 1745.0,1078.1 1761.0,1079.2 1776.9,1080.2 1792.8,1082.9 1808.7,1083.5" fill="none" stroke="#0000ff" stroke-width="2.45" stroke-dasharray="9.1 3.9" stroke-linejoin="round"/>
<polyline points="1028.5,1049.6 1044.4,1059.5 1060.3,1066.5 1076.2,1072.2 1092.2,1077.0 1108.1,1081.3 1124.0,1085.3 1139.9,1086.8 1155.9,1086.8 1171.8,1087.9 1187.7,1089.4 1203.6,1090.7 1219.5,1090.7 1235.5,1090.5 1251.4,1090.5 1267.3,1091.6 1283.2,1093.4 1299.2,1096.2 1315.1,1099.3 1331.0,1102.1 1346.9,1106.1 1362.9,1110.9 1378.8,1115.2 1394.7,1118.5 1410.6,1125.1 1426.6,1128.4 1442.5,1133.8 1458.4,1141.5 1474.3,1145.8 1490.3,1149.1 1506.2,1150.7 1522.1,1153.9 1538.0,1160.1 1554.0,1161.8 1569.9,1162.7 1585.8,1166.6 1601.7,1169.9 1617.7,1170.3 1633.6,1173.8 1649.5,1176.5 1665.4,1181.5 1681.3,1181.5 1697.3,1183.0 1713.2,1185.2 1729.1,1189.6 1745.0,1192.2 1761.0,1192.4 1776.9,1194.4 1792.8,1194.6 1808.7,1199.4" fill="none" stroke="#0000ff" stroke-width="2.45" stroke-dasharray="9.1 3.9" stroke-linejoin="round"/>
<polyline points="1028.5,1012.5 1044.4,1021.6 1060.3,1028.4 1076.2,1033.7 1092.2,1038.0 1108.1,1042.0 1124.0,1044.8 1139.9,1045.3 1155.9,1044.2 1171.8,1043.9 1187.7,1044.4 1203.6,1045.0 1219.5,1044.8 1235.5,1044.6 1251.4,1044.4 1267.3,1044.8 1283.2,1045.9 1299.2,1047.4 1315.1,1049.6 1331.0,1052.9 1346.9,1055.8 1362.9,1058.8 1378.8,1062.8 1394.7,1064.3 1410.6,1068.2 1426.6,1073.7 1442.5,1079.2 1458.4,1084.6 1474.3,1089.0 1490.3,1091.6 1506.2,1094.9 1522.1,1098.8 1538.0,1101.7 1554.0,1103.9 1569.9,1103.6 1585.8,1106.9 1601.7,1110.9 1617.7,1113.5 1633.6,1117.4 1649.5,1121.8 1665.4,1125.1 1681.3,1125.5 1697.3,1129.4 1713.2,1131.2 1729.1,1134.9 1745.0,1138.2 1761.0,1138.9 1776.9,1140.4 1792.8,1141.9 1808.7,1146.5" fill="none" stroke="#000" stroke-width="2.45" stroke-dasharray="9.1 3.9" stroke-linejoin="round"/>
<rect x="1020.5" y="890.3" width="796.2" height="358.3" fill="none" stroke="#000" stroke-width="1.2"/>
<path d="M1142.60 1248.6v5.8M1290.10 1248.6v5.8M1437.60 1248.6v5.8M1585.10 1248.6v5.8M1732.60 1248.6v5.8M1020.5 927.90h-5.8M1020.5 1013.50h-5.8M1020.5 1099.10h-5.8M1020.5 1184.70h-5.8" stroke="#000" stroke-width="1.2" fill="none"/>
<g font-size="26.7" text-anchor="middle">
<text transform="translate(1142.6,1281.0) scale(0.96,1)">0.05</text>
<text transform="translate(1290.1,1281.0) scale(0.96,1)">0.10</text>
<text transform="translate(1437.6,1281.0) scale(0.96,1)">0.15</text>
<text transform="translate(1585.1,1281.0) scale(0.96,1)">0.20</text>
<text transform="translate(1732.6,1281.0) scale(0.96,1)">0.25</text>
</g>
<g font-size="26.7" text-anchor="end">
<text transform="translate(1010.6,939.0) scale(0.96,1)">2</text>
<text transform="translate(1010.6,1024.6) scale(0.96,1)">0</text>
<text transform="translate(1010.6,1110.2) scale(0.96,1)">−2</text>
<text transform="translate(1010.6,1195.8) scale(0.96,1)">−4</text>
</g>
<text x="1419.6" y="1311.3" font-size="25.8" text-anchor="middle">SFD</text>
<text transform="translate(961.1,1070.3) rotate(-90) scale(0.956,1)" font-size="23.65" text-anchor="middle">(Map6.1&#39; - SFD)/SigmaMap6.1&#39;</text>
<g transform="translate(117.0,1342.3) scale(15.11400,14.36400)" shape-rendering="crispEdges">
<path fill="#414287" d="M0 0h1v1h-1zM3 2h1v1h-1zM14 2h4v1h-4zM29 4h1v1h-1zM32 5h1v1h-1zM36 6h1v1h-1zM41 7h1v1h-1zM47 8h2v1h-2zM0 11h1v1h-1zM15 15h1v1h-1zM18 16h1v1h-1zM21 17h1v1h-1zM29 21h1v1h-1zM32 23h1v1h-1z"/>
<path fill="#46327e" d="M1 0h1v1h-1zM16 1h1v1h-1zM24 2h1v1h-1zM30 3h1v1h-1zM33 4h1v1h-1zM42 6h2v1h-2zM46 6h1v1h-1zM5 15h1v1h-1zM15 16h1v1h-1zM23 19h1v1h-1zM26 21h1v1h-1zM28 22h1v1h-1z"/>
<path fill="#482576" d="M2 0h1v1h-1zM21 1h1v1h-1zM25 1h4v1h-4zM31 2h2v1h-2zM34 3h1v1h-1zM39 4h1v1h-1zM49 4h1v1h-1zM44 5h1v1h-1zM3 15h1v1h-1zM15 17h1v1h-1zM20 19h1v1h-1zM24 21h1v1h-1zM29 24h1v1h-1z"/>
<path fill="#482374" d="M3 0h1v1h-1zM14 0h4v1h-4zM24 1h1v1h-1zM29 1h1v1h-1zM40 4h1v1h-1zM46 4h1v1h-1zM45 5h1v1h-1zM1 13h1v1h-1zM5 16h1v1h-1zM13 17h2v1h-2zM17 18h1v1h-1zM19 19h1v1h-1zM22 20h1v1h-1zM25 22h1v1h-1zM28 24h1v1h-1z"/>
<path fill="#481d6f" d="M4 0h9v1h-9zM19 0h1v1h-1zM27 0h2v1h-2zM31 1h2v1h-2zM34 2h1v1h-1zM39 3h1v1h-1zM42 4h3v1h-3zM7 17h5v1h-5zM18 19h1v1h-1zM20 20h1v1h-1zM22 21h1v1h-1z"/>
<path fill="#482071" d="M13 0h1v1h-1zM18 0h1v1h-1zM30 1h1v1h-1zM33 2h1v1h-1zM35 3h4v1h-4zM49 3h1v1h-1zM41 4h1v1h-1zM47 4h2v1h-2zM12 17h1v1h-1zM16 18h1v1h-1zM21 20h1v1h-1zM23 21h1v1h-1zM24 22h1v1h-1zM26 23h1v1h-1zM27 24h1v1h-1z"/>
<path fill="#481b6d" d="M20 0h7v1h-7zM29 0h2v1h-2zM33 1h1v1h-1zM35 2h1v1h-1zM37 2h1v1h-1zM49 2h1v1h-1zM40 3h1v1h-1zM46 3h1v1h-1zM48 3h1v1h-1zM45 4h1v1h-1zM4 16h1v1h-1zM6 17h1v1h-1zM15 18h1v1h-1zM17 19h1v1h-1zM19 20h1v1h-1zM21 21h1v1h-1zM23 22h1v1h-1zM25 23h1v1h-1zM26 24h1v1h-1z"/>
<path fill="#48186a" d="M31 0h2v1h-2zM34 1h1v1h-1zM36 2h1v1h-1zM38 2h2v1h-2zM41 3h3v1h-3zM47 3h1v1h-1zM0 13h1v1h-1zM2 15h1v1h-1zM12 18h3v1h-3zM16 19h1v1h-1zM18 20h1v1h-1zM24 23h1v1h-1z"/>
<path fill="#481668" d="M33 0h2v1h-2zM35 1h3v1h-3zM49 1h1v1h-1zM40 2h1v1h-1zM46 2h3v1h-3zM44 3h2v1h-2zM1 14h1v1h-1zM3 16h1v1h-1zM5 17h1v1h-1zM8 18h4v1h-4zM17 20h1v1h-1zM19 21h2v1h-2zM21 22h2v1h-2zM23 23h1v1h-1zM24 24h2v1h-2z"/>
<path fill="#471365" d="M35 0h3v1h-3zM38 1h2v1h-2zM46 1h1v1h-1zM41 2h4v1h-4zM4 17h1v1h-1zM6 18h2v1h-2zM14 19h2v1h-2zM18 21h1v1h-1zM20 22h1v1h-1zM22 23h1v1h-1zM23 24h1v1h-1z"/>
<path fill="#471063" d="M38 0h3v1h-3zM49 0h1v1h-1zM40 1h3v1h-3zM47 1h2v1h-2zM45 2h1v1h-1zM8 19h2v1h-2zM12 19h2v1h-2zM16 20h1v1h-1zM17 21h1v1h-1zM19 22h1v1h-1zM21 23h1v1h-1zM22 24h1v1h-1z"/>
<path fill="#470d60" d="M41 0h4v1h-4zM46 0h3v1h-3zM43 1h3v1h-3zM0 14h1v1h-1zM2 16h1v1h-1zM3 17h1v1h-1zM5 18h1v1h-1zM6 19h2v1h-2zM10 19h2v1h-2zM13 20h3v1h-3zM16 21h1v1h-1zM18 22h1v1h-1zM19 23h2v1h-2zM20 24h2v1h-2z"/>
<path fill="#460a5d" d="M45 0h1v1h-1zM1 15h1v1h-1zM4 18h1v1h-1zM5 19h1v1h-1zM6 20h7v1h-7zM14 21h2v1h-2zM16 22h2v1h-2zM18 23h1v1h-1zM19 24h1v1h-1z"/>
<path fill="#32658e" d="M0 1h1v1h-1zM19 4h1v1h-1zM24 5h1v1h-1zM37 9h1v1h-1zM0 10h1v1h-1zM41 10h1v1h-1zM44 11h1v1h-1zM48 12h1v1h-1zM6 13h6v1h-6zM40 24h1v1h-1z"/>
<path fill="#3f4788" d="M1 1h1v1h-1zM21 3h2v1h-2zM27 4h1v1h-1zM34 6h1v1h-1zM5 14h1v1h-1zM16 15h1v1h-1zM19 16h1v1h-1zM22 17h1v1h-1zM24 18h1v1h-1zM26 19h1v1h-1z"/>
<path fill="#453781" d="M2 1h1v1h-1zM20 2h1v1h-1zM29 3h1v1h-1zM32 4h1v1h-1zM35 5h3v1h-3zM40 6h2v1h-2zM45 7h1v1h-1zM3 14h1v1h-1zM6 15h1v1h-1zM16 16h1v1h-1z"/>
<path fill="#472d7b" d="M3 1h1v1h-1zM13 1h1v1h-1zM18 1h1v1h-1zM29 2h1v1h-1zM32 3h1v1h-1zM40 5h1v1h-1zM49 5h1v1h-1zM45 6h1v1h-1zM12 16h1v1h-1zM19 18h1v1h-1zM22 19h1v1h-1zM29 23h1v1h-1z"/>
<path fill="#472a7a" d="M4 1h1v1h-1zM6 1h7v1h-7zM19 1h1v1h-1zM35 4h3v1h-3zM41 5h1v1h-1zM46 5h1v1h-1zM0 12h1v1h-1zM4 15h1v1h-1zM7 16h5v1h-5zM16 17h1v1h-1zM21 19h1v1h-1zM25 21h1v1h-1zM28 23h1v1h-1zM30 24h1v1h-1z"/>
<path fill="#482878" d="M5 1h1v1h-1zM20 1h1v1h-1zM22 1h2v1h-2zM30 2h1v1h-1zM33 3h1v1h-1zM38 4h1v1h-1zM42 5h2v1h-2zM47 5h2v1h-2zM2 14h1v1h-1zM6 16h1v1h-1zM18 18h1v1h-1zM23 20h1v1h-1zM26 22h1v1h-1zM27 23h1v1h-1z"/>
<path fill="#472f7d" d="M14 1h2v1h-2zM17 1h1v1h-1zM25 2h4v1h-4zM31 3h1v1h-1zM34 4h1v1h-1zM39 5h1v1h-1zM44 6h1v1h-1zM47 6h2v1h-2zM13 16h2v1h-2zM17 17h1v1h-1zM20 18h1v1h-1zM24 20h1v1h-1zM27 22h1v1h-1zM31 24h1v1h-1z"/>
<path fill="#218f8d" d="M0 2h1v1h-1zM16 5h1v1h-1zM20 6h1v1h-1zM26 9h1v1h-1zM28 11h1v1h-1zM30 12h1v1h-1zM28 13h3v1h-3zM48 20h1v1h-1zM47 24h1v1h-1z"/>
<path fill="#30698e" d="M1 2h1v1h-1zM26 6h1v1h-1zM29 7h1v1h-1zM35 9h1v1h-1zM39 10h1v1h-1zM43 11h1v1h-1zM45 12h2v1h-2zM15 13h1v1h-1zM19 14h1v1h-1zM25 16h1v1h-1zM27 17h1v1h-1zM31 19h1v1h-1zM34 21h1v1h-1zM38 23h1v1h-1zM41 24h1v1h-1z"/>
<path fill="#3c508b" d="M2 2h1v1h-1zM25 4h1v1h-1zM29 5h1v1h-1zM32 6h1v1h-1zM36 7h2v1h-2zM44 9h1v1h-1zM46 9h1v1h-1zM3 13h1v1h-1zM12 14h1v1h-1zM27 19h1v1h-1zM29 20h1v1h-1zM34 23h1v1h-1z"/>
<path fill="#443b84" d="M4 2h1v1h-1zM6 2h2v1h-2zM9 2h3v1h-3zM34 5h1v1h-1zM39 6h1v1h-1zM46 7h1v1h-1zM49 7h1v1h-1zM1 12h1v1h-1zM8 15h2v1h-2zM11 15h1v1h-1zM17 16h1v1h-1zM26 20h1v1h-1z"/>
<path fill="#443983" d="M5 2h1v1h-1zM19 2h1v1h-1zM27 3h2v1h-2zM31 4h1v1h-1zM44 7h1v1h-1zM47 7h2v1h-2zM7 15h1v1h-1zM10 15h1v1h-1zM19 17h1v1h-1zM22 18h1v1h-1zM24 19h1v1h-1zM27 21h1v1h-1zM29 22h1v1h-1zM31 23h1v1h-1zM32 24h1v1h-1z"/>
<path fill="#433e85" d="M8 2h1v1h-1zM12 2h1v1h-1zM18 2h1v1h-1zM25 3h2v1h-2zM30 4h1v1h-1zM33 5h1v1h-1zM42 7h2v1h-2zM2 13h1v1h-1zM12 15h3v1h-3zM20 17h1v1h-1zM23 18h1v1h-1zM28 21h1v1h-1zM30 22h1v1h-1z"/>
<path fill="#424086" d="M13 2h1v1h-1zM24 3h1v1h-1zM38 6h1v1h-1zM45 8h1v1h-1zM4 14h1v1h-1zM25 19h1v1h-1zM33 24h1v1h-1z"/>
<path fill="#463480" d="M21 2h3v1h-3zM38 5h1v1h-1zM49 6h1v1h-1zM18 17h1v1h-1zM21 18h1v1h-1zM25 20h1v1h-1zM30 23h1v1h-1z"/>
<path fill="#44bf70" d="M0 3h1v1h-1zM16 7h1v1h-1zM12 9h1v1h-1z"/>
<path fill="#20938c" d="M1 3h1v1h-1zM15 5h1v1h-1zM24 8h1v1h-1zM14 11h3v1h-3zM27 11h1v1h-1zM20 12h1v1h-1zM27 12h1v1h-1zM48 22h2v1h-2z"/>
<path fill="#2c728e" d="M2 3h1v1h-1zM10 4h1v1h-1zM21 5h1v1h-1zM34 10h1v1h-1zM37 11h2v1h-2zM42 12h1v1h-1zM48 14h1v1h-1zM43 24h1v1h-1z"/>
<path fill="#355f8d" d="M3 3h1v1h-1zM28 6h1v1h-1zM31 7h1v1h-1zM35 8h1v1h-1zM43 10h1v1h-1zM47 11h1v1h-1zM31 20h1v1h-1zM36 23h1v1h-1z"/>
<path fill="#39568c" d="M4 3h1v1h-1zM8 3h2v1h-2zM11 3h1v1h-1zM30 6h1v1h-1zM39 8h1v1h-1zM42 9h1v1h-1zM45 10h1v1h-1zM22 16h1v1h-1zM28 19h1v1h-1zM30 20h1v1h-1zM33 22h1v1h-1zM35 23h1v1h-1zM37 24h1v1h-1z"/>
<path fill="#3a548c" d="M5 3h3v1h-3zM10 3h1v1h-1zM18 3h1v1h-1zM27 5h1v1h-1zM34 7h1v1h-1zM43 9h1v1h-1zM47 10h3v1h-3zM15 14h1v1h-1zM24 17h1v1h-1zM26 18h1v1h-1z"/>
<path fill="#38598c" d="M12 3h2v1h-2zM17 3h1v1h-1zM23 4h1v1h-1zM33 7h1v1h-1zM38 8h1v1h-1zM46 10h1v1h-1zM4 13h1v1h-1zM16 14h1v1h-1zM19 15h1v1h-1z"/>
<path fill="#375b8d" d="M14 3h3v1h-3zM22 4h1v1h-1zM26 5h1v1h-1zM37 8h1v1h-1zM41 9h1v1h-1zM44 10h1v1h-1zM2 12h1v1h-1zM23 16h1v1h-1zM25 17h1v1h-1zM29 19h1v1h-1zM32 21h1v1h-1zM38 24h1v1h-1z"/>
<path fill="#3d4e8a" d="M19 3h1v1h-1zM41 8h1v1h-1zM7 14h5v1h-5zM32 22h1v1h-1z"/>
<path fill="#3e4989" d="M20 3h1v1h-1zM30 5h1v1h-1zM39 7h1v1h-1zM43 8h1v1h-1zM28 20h1v1h-1zM30 21h1v1h-1z"/>
<path fill="#404588" d="M23 3h1v1h-1zM28 4h1v1h-1zM31 5h1v1h-1zM35 6h1v1h-1zM37 6h1v1h-1zM40 7h1v1h-1zM44 8h1v1h-1zM46 8h1v1h-1zM49 8h1v1h-1zM27 20h1v1h-1zM31 22h1v1h-1zM34 24h1v1h-1z"/>
<path fill="#b5de2b" d="M0 4h1v1h-1z"/>
<path fill="#4cc26c" d="M1 4h1v1h-1zM5 6h1v1h-1zM16 8h1v1h-1zM11 9h1v1h-1z"/>
<path fill="#1fa188" d="M2 4h1v1h-1zM19 11h1v1h-1zM25 11h1v1h-1z"/>
<path fill="#25858e" d="M3 4h1v1h-1zM24 7h1v1h-1zM27 9h1v1h-1zM31 11h1v1h-1zM21 13h1v1h-1zM32 13h1v1h-1zM32 14h1v1h-1zM30 15h1v1h-1zM40 17h2v1h-2zM39 18h1v1h-1zM42 18h3v1h-3zM46 18h1v1h-1zM49 18h1v1h-1zM39 19h1v1h-1zM43 19h1v1h-1zM43 20h1v1h-1zM40 21h1v1h-1z"/>
<path fill="#297a8e" d="M4 4h1v1h-1zM30 9h1v1h-1zM2 11h1v1h-1zM37 13h2v1h-2zM41 13h1v1h-1zM23 14h1v1h-1zM46 15h3v1h-3zM29 16h1v1h-1zM39 22h1v1h-1zM42 23h1v1h-1z"/>
<path fill="#2b748e" d="M5 4h3v1h-3zM9 4h1v1h-1zM11 4h2v1h-2zM16 4h1v1h-1zM29 8h1v1h-1zM33 10h1v1h-1zM36 11h1v1h-1zM41 12h1v1h-1zM18 13h1v1h-1zM44 13h1v1h-1zM21 14h1v1h-1zM46 14h2v1h-2zM27 16h1v1h-1zM31 18h1v1h-1zM34 20h1v1h-1zM38 22h1v1h-1z"/>
<path fill="#2a768e" d="M8 4h1v1h-1zM13 4h3v1h-3zM24 6h1v1h-1zM28 8h1v1h-1zM31 9h1v1h-1zM35 11h1v1h-1zM38 12h3v1h-3zM43 13h1v1h-1zM45 14h1v1h-1zM25 15h1v1h-1zM30 17h1v1h-1zM33 19h1v1h-1zM41 23h1v1h-1z"/>
<path fill="#2d718e" d="M17 4h1v1h-1zM25 6h1v1h-1zM27 7h1v1h-1zM30 8h1v1h-1zM32 9h1v1h-1zM35 10h1v1h-1zM39 11h1v1h-1zM43 12h1v1h-1zM45 13h1v1h-1zM49 14h1v1h-1zM24 15h1v1h-1zM29 17h1v1h-1zM32 19h1v1h-1zM35 21h1v1h-1zM40 23h1v1h-1zM42 24h1v1h-1z"/>
<path fill="#2f6b8e" d="M18 4h1v1h-1zM23 5h1v1h-1zM28 7h1v1h-1zM31 8h1v1h-1zM34 9h1v1h-1zM38 10h1v1h-1zM42 11h1v1h-1zM16 13h1v1h-1zM49 13h1v1h-1zM23 15h1v1h-1z"/>
<path fill="#34618d" d="M20 4h1v1h-1zM25 5h1v1h-1zM34 8h1v1h-1zM39 9h1v1h-1zM42 10h1v1h-1zM45 11h2v1h-2zM5 13h1v1h-1zM28 18h1v1h-1zM30 19h1v1h-1zM39 24h1v1h-1z"/>
<path fill="#365d8d" d="M21 4h1v1h-1zM29 6h1v1h-1zM32 7h1v1h-1zM36 8h1v1h-1zM40 9h1v1h-1zM1 11h1v1h-1zM48 11h2v1h-2zM17 14h1v1h-1zM20 15h1v1h-1zM27 18h1v1h-1zM34 22h1v1h-1z"/>
<path fill="#3b528b" d="M24 4h1v1h-1zM28 5h1v1h-1zM31 6h1v1h-1zM35 7h1v1h-1zM40 8h1v1h-1zM13 14h2v1h-2zM18 15h1v1h-1zM21 16h1v1h-1zM31 21h1v1h-1zM36 24h1v1h-1z"/>
<path fill="#3e4c8a" d="M26 4h1v1h-1zM33 6h1v1h-1zM38 7h1v1h-1zM42 8h1v1h-1zM45 9h1v1h-1zM47 9h3v1h-3zM6 14h1v1h-1zM17 15h1v1h-1zM20 16h1v1h-1zM23 17h1v1h-1zM25 18h1v1h-1zM33 23h1v1h-1zM35 24h1v1h-1z"/>
<path fill="#fde725" d="M0 5h1v1h-1zM1 6h1v1h-1z"/>
<path fill="#bade28" d="M1 5h1v1h-1zM2 8h1v1h-1zM5 8h1v1h-1z"/>
<path fill="#65cb5e" d="M2 5h1v1h-1zM4 6h1v1h-1zM11 7h1v1h-1zM7 9h1v1h-1z"/>
<path fill="#2eb37c" d="M3 5h1v1h-1zM14 6h1v1h-1zM20 8h1v1h-1zM21 9h1v1h-1z"/>
<path fill="#21a685" d="M4 5h1v1h-1zM22 11h1v1h-1z"/>
<path fill="#1e9b8a" d="M5 5h1v1h-1zM7 11h1v1h-1zM18 11h1v1h-1zM26 11h1v1h-1zM25 12h1v1h-1z"/>
<path fill="#1f978b" d="M6 5h1v1h-1zM9 5h1v1h-1zM19 6h1v1h-1zM26 10h1v1h-1zM9 11h3v1h-3zM21 12h1v1h-1zM23 12h1v1h-1zM49 24h1v1h-1z"/>
<path fill="#1f958b" d="M7 5h1v1h-1zM10 5h5v1h-5zM22 7h1v1h-1zM12 11h2v1h-2zM17 11h1v1h-1zM48 23h2v1h-2zM48 24h1v1h-1z"/>
<path fill="#1f998a" d="M8 5h1v1h-1zM25 9h1v1h-1zM4 11h1v1h-1zM8 11h1v1h-1zM22 12h1v1h-1zM24 12h1v1h-1zM26 12h1v1h-1z"/>
<path fill="#228b8d" d="M17 5h1v1h-1zM30 11h1v1h-1zM31 12h1v1h-1zM30 14h2v1h-2zM47 19h3v1h-3zM45 20h1v1h-1zM45 21h2v1h-2zM45 22h2v1h-2zM46 23h1v1h-1z"/>
<path fill="#25838e" d="M18 5h1v1h-1zM26 8h1v1h-1zM30 10h1v1h-1zM32 12h1v1h-1zM33 13h1v1h-1zM25 14h1v1h-1zM33 14h1v1h-1zM29 15h1v1h-1zM32 15h1v1h-1zM39 16h4v1h-4zM39 17h1v1h-1zM42 17h4v1h-4zM47 17h2v1h-2zM36 18h1v1h-1zM38 18h1v1h-1zM36 19h3v1h-3zM36 20h3v1h-3zM39 21h1v1h-1zM42 22h2v1h-2zM44 23h1v1h-1z"/>
<path fill="#277e8e" d="M19 5h1v1h-1zM23 6h1v1h-1zM29 9h1v1h-1zM5 12h1v1h-1zM8 12h3v1h-3zM15 12h1v1h-1zM34 12h1v1h-1zM35 13h1v1h-1zM36 14h4v1h-4zM41 14h1v1h-1zM27 15h1v1h-1zM44 15h1v1h-1zM30 16h1v1h-1zM46 16h1v1h-1zM33 17h1v1h-1zM34 18h1v1h-1zM38 21h1v1h-1z"/>
<path fill="#2a788e" d="M20 5h1v1h-1zM26 7h1v1h-1zM32 10h1v1h-1zM34 11h1v1h-1zM4 12h1v1h-1zM36 12h2v1h-2zM42 13h1v1h-1zM22 14h1v1h-1zM44 14h1v1h-1zM49 15h1v1h-1zM28 16h1v1h-1zM32 18h1v1h-1zM36 21h1v1h-1z"/>
<path fill="#2e6f8e" d="M22 5h1v1h-1zM36 10h1v1h-1zM40 11h2v1h-2zM3 12h1v1h-1zM17 13h1v1h-1zM46 13h2v1h-2zM20 14h1v1h-1zM26 16h1v1h-1zM37 22h1v1h-1z"/>
<path fill="#f8e621" d="M0 6h1v1h-1z"/>
<path fill="#d0e11c" d="M2 6h1v1h-1zM4 8h1v1h-1z"/>
<path fill="#8bd646" d="M3 6h1v1h-1zM7 8h1v1h-1zM4 9h1v1h-1z"/>
<path fill="#3aba76" d="M6 6h1v1h-1zM8 6h1v1h-1zM0 8h1v1h-1zM18 8h1v1h-1zM6 10h1v1h-1z"/>
<path fill="#37b878" d="M7 6h1v1h-1zM9 6h1v1h-1zM17 7h1v1h-1zM19 8h1v1h-1zM16 9h1v1h-1zM19 9h1v1h-1z"/>
<path fill="#34b679" d="M10 6h1v1h-1zM17 9h2v1h-2zM20 9h1v1h-1zM3 10h1v1h-1zM7 10h1v1h-1z"/>
<path fill="#31b57b" d="M11 6h3v1h-3z"/>
<path fill="#29af7f" d="M15 6h1v1h-1zM11 10h1v1h-1zM19 10h1v1h-1zM21 10h1v1h-1z"/>
<path fill="#25ac82" d="M16 6h1v1h-1zM19 7h1v1h-1zM21 8h1v1h-1zM22 9h1v1h-1zM12 10h2v1h-2z"/>
<path fill="#20a486" d="M17 6h1v1h-1zM20 7h1v1h-1zM23 9h1v1h-1zM24 10h1v1h-1zM20 11h2v1h-2z"/>
<path fill="#1e9d89" d="M18 6h1v1h-1zM21 7h1v1h-1zM23 8h1v1h-1zM6 11h1v1h-1z"/>
<path fill="#24878e" d="M21 6h1v1h-1zM29 10h1v1h-1zM18 12h1v1h-1zM26 14h2v1h-2zM31 15h1v1h-1zM40 18h2v1h-2zM45 18h1v1h-1zM47 18h2v1h-2zM40 19h3v1h-3zM44 19h1v1h-1zM46 19h1v1h-1zM39 20h2v1h-2zM42 20h1v1h-1zM44 20h1v1h-1zM41 21h3v1h-3zM44 22h1v1h-1zM45 23h1v1h-1zM46 24h1v1h-1z"/>
<path fill="#26828e" d="M22 6h1v1h-1zM28 9h1v1h-1zM1 10h1v1h-1zM17 12h1v1h-1zM34 14h1v1h-1zM28 15h1v1h-1zM33 15h3v1h-3zM39 15h3v1h-3zM31 16h2v1h-2zM34 16h3v1h-3zM43 16h2v1h-2zM35 17h4v1h-4zM46 17h1v1h-1zM49 17h1v1h-1zM35 18h1v1h-1zM37 18h1v1h-1zM35 19h1v1h-1zM45 24h1v1h-1z"/>
<path fill="#33638d" d="M27 6h1v1h-1zM30 7h1v1h-1zM33 8h1v1h-1zM38 9h1v1h-1zM49 12h1v1h-1zM18 14h1v1h-1zM21 15h1v1h-1zM24 16h1v1h-1zM26 17h1v1h-1zM33 21h1v1h-1zM35 22h1v1h-1zM37 23h1v1h-1z"/>
<path fill="#a0da39" d="M0 7h1v1h-1z"/>
<path fill="#dfe318" d="M1 7h1v1h-1zM3 7h1v1h-1z"/>
<path fill="#f4e61e" d="M2 7h1v1h-1z"/>
<path fill="#c0df25" d="M4 7h1v1h-1z"/>
<path fill="#9bd93c" d="M5 7h1v1h-1zM6 8h1v1h-1z"/>
<path fill="#7cd250" d="M6 7h1v1h-1zM1 8h1v1h-1zM8 8h1v1h-1z"/>
<path fill="#73d056" d="M7 7h2v1h-2z"/>
<path fill="#6ece58" d="M9 7h1v1h-1zM11 8h1v1h-1zM6 9h1v1h-1z"/>
<path fill="#69cd5b" d="M10 7h1v1h-1z"/>
<path fill="#60ca60" d="M12 7h1v1h-1zM12 8h2v1h-2z"/>
<path fill="#5cc863" d="M13 7h1v1h-1zM14 8h1v1h-1z"/>
<path fill="#58c765" d="M14 7h1v1h-1zM15 8h1v1h-1zM2 9h1v1h-1zM8 9h1v1h-1z"/>
<path fill="#50c46a" d="M15 7h1v1h-1z"/>
<path fill="#2cb17e" d="M18 7h1v1h-1zM8 10h3v1h-3zM20 10h1v1h-1z"/>
<path fill="#228d8d" d="M23 7h1v1h-1zM25 8h1v1h-1zM0 9h1v1h-1zM27 10h1v1h-1zM29 11h1v1h-1zM19 12h1v1h-1zM24 13h1v1h-1zM27 13h1v1h-1zM31 13h1v1h-1zM47 20h1v1h-1zM49 20h1v1h-1z"/>
<path fill="#27808e" d="M25 7h1v1h-1zM31 10h1v1h-1zM32 11h1v1h-1zM6 12h2v1h-2zM16 12h1v1h-1zM33 12h1v1h-1zM20 13h1v1h-1zM34 13h1v1h-1zM24 14h1v1h-1zM35 14h1v1h-1zM40 14h1v1h-1zM36 15h3v1h-3zM42 15h2v1h-2zM33 16h1v1h-1zM37 16h2v1h-2zM45 16h1v1h-1zM47 16h2v1h-2zM34 17h1v1h-1zM41 22h1v1h-1z"/>
<path fill="#d5e21a" d="M3 8h1v1h-1z"/>
<path fill="#77d153" d="M9 8h2v1h-2z"/>
<path fill="#40bd72" d="M17 8h1v1h-1zM13 9h1v1h-1zM5 10h1v1h-1z"/>
<path fill="#1fa287" d="M22 8h1v1h-1zM2 10h1v1h-1zM23 11h2v1h-2z"/>
<path fill="#287c8e" d="M27 8h1v1h-1zM33 11h1v1h-1zM11 12h4v1h-4zM35 12h1v1h-1zM19 13h1v1h-1zM36 13h1v1h-1zM39 13h2v1h-2zM42 14h2v1h-2zM26 15h1v1h-1zM45 15h1v1h-1zM49 16h1v1h-1zM31 17h2v1h-2zM33 18h1v1h-1zM34 19h1v1h-1zM35 20h1v1h-1zM37 21h1v1h-1zM40 22h1v1h-1zM43 23h1v1h-1zM44 24h1v1h-1z"/>
<path fill="#31678e" d="M32 8h1v1h-1zM36 9h1v1h-1zM40 10h1v1h-1zM47 12h1v1h-1zM12 13h3v1h-3zM22 15h1v1h-1zM29 18h1v1h-1zM32 20h1v1h-1z"/>
<path fill="#27ad81" d="M1 9h1v1h-1zM22 10h1v1h-1z"/>
<path fill="#81d34d" d="M3 9h1v1h-1z"/>
<path fill="#86d549" d="M5 9h1v1h-1z"/>
<path fill="#54c568" d="M9 9h2v1h-2z"/>
<path fill="#3dbc74" d="M14 9h2v1h-2zM4 10h1v1h-1z"/>
<path fill="#1f9f88" d="M24 9h1v1h-1zM25 10h1v1h-1zM5 11h1v1h-1z"/>
<path fill="#2e6d8e" d="M33 9h1v1h-1zM37 10h1v1h-1zM44 12h1v1h-1zM48 13h1v1h-1zM28 17h1v1h-1zM30 18h1v1h-1zM33 20h1v1h-1zM36 22h1v1h-1zM39 23h1v1h-1z"/>
<path fill="#24aa83" d="M14 10h2v1h-2zM18 10h1v1h-1z"/>
<path fill="#22a884" d="M16 10h2v1h-2zM23 10h1v1h-1z"/>
<path fill="#23898e" d="M28 10h1v1h-1zM22 13h2v1h-2zM28 14h2v1h-2zM45 19h1v1h-1zM41 20h1v1h-1zM46 20h1v1h-1zM44 21h1v1h-1z"/>
<path fill="#20928c" d="M3 11h1v1h-1zM28 12h2v1h-2zM25 13h2v1h-2zM47 21h3v1h-3zM47 22h1v1h-1zM47 23h1v1h-1z"/>
<path fill="#46075a" d="M0 15h1v1h-1zM2 17h1v1h-1zM3 18h1v1h-1zM4 19h1v1h-1zM5 20h1v1h-1zM6 21h8v1h-8zM12 22h4v1h-4zM16 23h2v1h-2zM17 24h2v1h-2z"/>
<path fill="#450457" d="M0 16h2v1h-2zM0 17h2v1h-2zM0 18h1v1h-1zM2 18h1v1h-1zM2 19h2v1h-2zM3 20h2v1h-2zM4 21h2v1h-2zM5 22h7v1h-7zM5 23h11v1h-11zM6 24h11v1h-11z"/>
<path fill="#440154" d="M1 18h1v1h-1zM0 19h2v1h-2zM0 20h3v1h-3zM0 21h4v1h-4zM0 22h5v1h-5zM0 23h5v1h-5zM0 24h6v1h-6z"/>
</g>
<polyline points="124.6,1408.5 139.7,1419.5 154.8,1427.6 169.9,1433.4 185.0,1438.0 200.1,1441.3 215.2,1442.3 230.4,1441.3 245.5,1439.2 260.6,1438.8 275.7,1438.8 290.8,1438.0 305.9,1437.1 321.0,1437.3 336.2,1437.1 351.3,1437.7 366.4,1438.6 381.5,1439.6 396.6,1442.3 411.7,1445.8 426.8,1449.0 442.0,1451.4 457.1,1453.5 472.2,1454.1 487.3,1457.7 502.4,1461.8 517.5,1466.0 532.6,1470.1 547.7,1473.9 562.9,1477.0 578.0,1481.6 593.1,1484.7 608.2,1485.9 623.3,1487.4 638.4,1488.8 653.5,1491.5 668.7,1494.6 683.8,1496.1 698.9,1500.9 714.0,1507.1 729.1,1511.3 744.2,1515.4 759.3,1520.0 774.5,1521.6 789.6,1524.8 804.7,1527.3 819.8,1526.4 834.9,1531.0 850.0,1529.5 865.1,1530.0" fill="none" stroke="#0000ff" stroke-width="2.45" stroke-dasharray="9.1 3.9" stroke-linejoin="round"/>
<polyline points="124.6,1466.2 139.7,1479.1 154.8,1488.4 169.9,1495.7 185.0,1501.9 200.1,1508.1 215.2,1513.3 230.4,1515.0 245.5,1515.0 260.6,1515.8 275.7,1517.1 290.8,1518.1 305.9,1518.5 321.0,1518.5 336.2,1518.9 351.3,1520.0 366.4,1522.7 381.5,1526.8 396.6,1531.6 411.7,1535.8 426.8,1540.3 442.0,1546.2 457.1,1551.8 472.2,1557.0 487.3,1564.2 502.4,1569.4 517.5,1577.7 532.6,1587.1 547.7,1591.2 562.9,1594.3 578.0,1598.1 593.1,1603.7 608.2,1611.4 623.3,1616.1 638.4,1619.7 653.5,1623.4 668.7,1628.6 683.8,1630.1 698.9,1633.2 714.0,1635.9 729.1,1637.5 744.2,1640.4 759.3,1645.2 774.5,1647.3 789.6,1650.4 804.7,1652.5 819.8,1654.6 834.9,1656.2 850.0,1655.6 865.1,1659.1" fill="none" stroke="#0000ff" stroke-width="2.45" stroke-dasharray="9.1 3.9" stroke-linejoin="round"/>
<polyline points="124.6,1437.1 139.7,1449.0 154.8,1457.3 169.9,1464.5 185.0,1469.7 200.1,1474.5 215.2,1477.4 230.4,1477.0 245.5,1474.9 260.6,1474.9 275.7,1476.0 290.8,1476.0 305.9,1474.9 321.0,1475.5 336.2,1476.4 351.3,1477.0 366.4,1478.2 381.5,1480.7 396.6,1484.3 411.7,1487.8 426.8,1491.9 442.0,1496.3 457.1,1501.3 472.2,1503.6 487.3,1508.1 502.4,1514.4 517.5,1521.6 532.6,1528.3 547.7,1534.1 562.9,1536.6 578.0,1539.3 593.1,1545.1 608.2,1550.3 623.3,1552.4 638.4,1554.3 653.5,1558.4 668.7,1564.2 683.8,1566.9 698.9,1571.1 714.0,1576.7 729.1,1578.8 744.2,1582.9 759.3,1587.7 774.5,1589.6 789.6,1592.3 804.7,1593.3 819.8,1596.4 834.9,1598.9 850.0,1597.5 865.1,1601.2" fill="none" stroke="#000" stroke-width="2.45" stroke-dasharray="9.1 3.9" stroke-linejoin="round"/>
<rect x="117.0" y="1342.3" width="755.7" height="359.1" fill="none" stroke="#000" stroke-width="1.2"/>
<path d="M232.70 1701.4v5.8M372.70 1701.4v5.8M512.70 1701.4v5.8M652.70 1701.4v5.8M792.70 1701.4v5.8M117.0 1360.44h-5.8M117.0 1442.80h-5.8M117.0 1525.16h-5.8M117.0 1607.52h-5.8M117.0 1689.88h-5.8" stroke="#000" stroke-width="1.2" fill="none"/>
<g font-size="26.7" text-anchor="middle">
<text transform="translate(232.7,1733.8) scale(0.96,1)">0.05</text>
<text transform="translate(372.7,1733.8) scale(0.96,1)">0.10</text>
<text transform="translate(512.7,1733.8) scale(0.96,1)">0.15</text>
<text transform="translate(652.7,1733.8) scale(0.96,1)">0.20</text>
<text transform="translate(792.7,1733.8) scale(0.96,1)">0.25</text>
</g>
<g font-size="26.7" text-anchor="end">
<text transform="translate(107.1,1371.5) scale(0.96,1)">0.02</text>
<text transform="translate(107.1,1453.9) scale(0.96,1)">0.00</text>
<text transform="translate(107.1,1536.3) scale(0.96,1)">−0.02</text>
<text transform="translate(107.1,1618.6) scale(0.96,1)">−0.04</text>
<text transform="translate(107.1,1701.0) scale(0.96,1)">−0.06</text>
</g>
<text x="495.9" y="1764.2" font-size="25.8" text-anchor="middle">SFD</text>
<text transform="translate(17.1,1522.7) rotate(-90) scale(0.956,1)" font-size="23.65" text-anchor="middle">Map15&#39; - SFD</text>
<g transform="translate(1020.5,1344.4) scale(15.92400,14.28000)" shape-rendering="crispEdges">
<path fill="#414287" d="M0 0h1v1h-1zM3 2h1v1h-1zM14 2h1v1h-1zM17 2h1v1h-1zM29 4h1v1h-1zM32 5h1v1h-1zM36 6h2v1h-2zM44 8h1v1h-1zM48 8h1v1h-1zM18 16h1v1h-1zM21 17h1v1h-1zM27 20h1v1h-1zM29 21h1v1h-1zM32 23h1v1h-1z"/>
<path fill="#46327e" d="M1 0h1v1h-1zM15 1h3v1h-3zM23 2h2v1h-2zM30 3h1v1h-1zM33 4h1v1h-1zM46 6h1v1h-1zM15 16h1v1h-1zM23 19h1v1h-1zM25 20h1v1h-1zM28 22h1v1h-1zM30 23h1v1h-1z"/>
<path fill="#482576" d="M2 0h1v1h-1zM21 1h3v1h-3zM25 1h4v1h-4zM31 2h1v1h-1zM34 3h1v1h-1zM39 4h1v1h-1zM49 4h1v1h-1zM42 5h2v1h-2zM47 5h1v1h-1zM6 16h1v1h-1zM15 17h1v1h-1zM20 19h1v1h-1zM24 21h1v1h-1zM27 23h1v1h-1zM29 24h1v1h-1z"/>
<path fill="#482374" d="M3 0h1v1h-1zM14 0h4v1h-4zM24 1h1v1h-1zM29 1h1v1h-1zM32 2h1v1h-1zM35 3h1v1h-1zM40 4h1v1h-1zM46 4h1v1h-1zM44 5h1v1h-1zM0 12h1v1h-1zM2 14h1v1h-1zM3 15h1v1h-1zM5 16h1v1h-1zM14 17h1v1h-1zM17 18h1v1h-1zM19 19h1v1h-1zM22 20h1v1h-1z"/>
<path fill="#482071" d="M4 0h1v1h-1zM8 0h3v1h-3zM12 0h2v1h-2zM18 0h1v1h-1zM30 1h1v1h-1zM33 2h1v1h-1zM36 3h3v1h-3zM49 3h1v1h-1zM41 4h1v1h-1zM47 4h2v1h-2zM45 5h1v1h-1zM1 13h1v1h-1zM12 17h2v1h-2zM16 18h1v1h-1zM18 19h1v1h-1zM21 20h1v1h-1zM23 21h1v1h-1zM25 22h1v1h-1zM26 23h1v1h-1zM28 24h1v1h-1z"/>
<path fill="#481d6f" d="M5 0h3v1h-3zM11 0h1v1h-1zM19 0h1v1h-1zM26 0h3v1h-3zM31 1h2v1h-2zM34 2h1v1h-1zM39 3h1v1h-1zM43 4h1v1h-1zM4 16h1v1h-1zM7 17h5v1h-5zM20 20h1v1h-1zM22 21h1v1h-1zM24 22h1v1h-1zM27 24h1v1h-1z"/>
<path fill="#481b6d" d="M20 0h6v1h-6zM29 0h2v1h-2zM33 1h1v1h-1zM35 2h1v1h-1zM37 2h1v1h-1zM49 2h1v1h-1zM40 3h1v1h-1zM46 3h1v1h-1zM48 3h1v1h-1zM42 4h1v1h-1zM44 4h1v1h-1zM6 17h1v1h-1zM15 18h1v1h-1zM17 19h1v1h-1zM19 20h1v1h-1zM21 21h1v1h-1zM23 22h1v1h-1zM25 23h1v1h-1zM26 24h1v1h-1z"/>
<path fill="#48186a" d="M31 0h2v1h-2zM34 1h1v1h-1zM36 2h1v1h-1zM38 2h2v1h-2zM41 3h1v1h-1zM47 3h1v1h-1zM45 4h1v1h-1zM5 17h1v1h-1zM12 18h3v1h-3zM16 19h1v1h-1zM18 20h1v1h-1zM20 21h1v1h-1zM22 22h1v1h-1zM24 23h1v1h-1z"/>
<path fill="#481668" d="M33 0h2v1h-2zM35 1h3v1h-3zM49 1h1v1h-1zM40 2h1v1h-1zM46 2h1v1h-1zM48 2h1v1h-1zM42 3h3v1h-3zM2 15h1v1h-1zM3 16h1v1h-1zM7 18h5v1h-5zM17 20h1v1h-1zM19 21h1v1h-1zM21 22h1v1h-1zM23 23h1v1h-1zM24 24h2v1h-2z"/>
<path fill="#471365" d="M35 0h3v1h-3zM38 1h2v1h-2zM41 2h1v1h-1zM47 2h1v1h-1zM45 3h1v1h-1zM0 13h1v1h-1zM4 17h1v1h-1zM6 18h1v1h-1zM14 19h2v1h-2zM16 20h1v1h-1zM18 21h1v1h-1zM20 22h1v1h-1zM22 23h1v1h-1zM23 24h1v1h-1z"/>
<path fill="#471063" d="M38 0h2v1h-2zM49 0h1v1h-1zM40 1h2v1h-2zM46 1h3v1h-3zM42 2h4v1h-4zM1 14h1v1h-1zM5 18h1v1h-1zM8 19h1v1h-1zM12 19h2v1h-2zM17 21h1v1h-1zM19 22h1v1h-1zM20 23h2v1h-2zM22 24h1v1h-1z"/>
<path fill="#470d60" d="M40 0h3v1h-3zM46 0h3v1h-3zM42 1h4v1h-4zM2 16h1v1h-1zM3 17h1v1h-1zM4 18h1v1h-1zM6 19h2v1h-2zM9 19h3v1h-3zM13 20h3v1h-3zM16 21h1v1h-1zM17 22h2v1h-2zM19 23h1v1h-1zM20 24h2v1h-2z"/>
<path fill="#460a5d" d="M43 0h3v1h-3zM0 14h1v1h-1zM5 19h1v1h-1zM6 20h7v1h-7zM14 21h2v1h-2zM16 22h1v1h-1zM17 23h2v1h-2zM18 24h2v1h-2z"/>
<path fill="#31678e" d="M0 1h1v1h-1zM29 7h1v1h-1zM35 9h1v1h-1zM40 10h1v1h-1zM43 11h1v1h-1zM45 12h1v1h-1zM15 13h1v1h-1zM19 14h1v1h-1zM25 16h1v1h-1zM27 17h1v1h-1zM31 19h1v1h-1zM34 21h1v1h-1zM41 24h1v1h-1z"/>
<path fill="#3e4989" d="M1 1h1v1h-1zM20 3h1v1h-1zM30 5h1v1h-1zM39 7h1v1h-1zM45 9h1v1h-1zM30 21h1v1h-1zM33 23h1v1h-1zM35 24h1v1h-1z"/>
<path fill="#453781" d="M2 1h1v1h-1zM20 2h1v1h-1zM29 3h1v1h-1zM32 4h1v1h-1zM35 5h3v1h-3zM40 6h1v1h-1zM44 7h1v1h-1zM47 7h1v1h-1zM3 14h1v1h-1zM6 15h1v1h-1zM16 16h1v1h-1zM19 17h1v1h-1zM29 22h1v1h-1zM32 24h1v1h-1z"/>
<path fill="#472f7d" d="M3 1h1v1h-1zM14 1h1v1h-1zM25 2h3v1h-3zM34 4h1v1h-1zM39 5h1v1h-1zM42 6h2v1h-2zM47 6h2v1h-2zM14 16h1v1h-1zM17 17h1v1h-1zM20 18h1v1h-1zM26 21h1v1h-1zM27 22h1v1h-1zM31 24h1v1h-1z"/>
<path fill="#472a7a" d="M4 1h4v1h-4zM9 1h3v1h-3zM19 1h1v1h-1zM35 4h3v1h-3zM46 5h1v1h-1zM45 6h1v1h-1zM7 16h5v1h-5zM16 17h1v1h-1zM21 19h1v1h-1zM30 24h1v1h-1z"/>
<path fill="#472d7b" d="M8 1h1v1h-1zM12 1h2v1h-2zM18 1h1v1h-1zM28 2h2v1h-2zM31 3h2v1h-2zM40 5h1v1h-1zM49 5h1v1h-1zM44 6h1v1h-1zM4 15h1v1h-1zM12 16h2v1h-2zM19 18h1v1h-1zM22 19h1v1h-1zM24 20h1v1h-1zM29 23h1v1h-1z"/>
<path fill="#482878" d="M20 1h1v1h-1zM30 2h1v1h-1zM33 3h1v1h-1zM38 4h1v1h-1zM41 5h1v1h-1zM48 5h1v1h-1zM18 18h1v1h-1zM23 20h1v1h-1zM25 21h1v1h-1zM26 22h1v1h-1zM28 23h1v1h-1z"/>
<path fill="#20928c" d="M0 2h1v1h-1zM22 7h1v1h-1zM24 8h1v1h-1zM9 11h3v1h-3zM17 11h1v1h-1zM21 12h1v1h-1zM27 12h1v1h-1zM48 21h1v1h-1zM47 22h1v1h-1zM49 22h1v1h-1z"/>
<path fill="#2f6b8e" d="M1 2h1v1h-1zM18 4h1v1h-1zM28 7h1v1h-1zM31 8h1v1h-1zM33 9h1v1h-1zM38 10h1v1h-1zM3 12h1v1h-1zM44 12h1v1h-1zM49 13h1v1h-1zM28 17h1v1h-1zM30 18h1v1h-1zM33 20h1v1h-1zM36 22h1v1h-1zM39 23h1v1h-1z"/>
<path fill="#3c508b" d="M2 2h1v1h-1zM36 7h2v1h-2zM40 8h1v1h-1zM3 13h1v1h-1zM14 14h1v1h-1zM18 15h1v1h-1zM21 16h1v1h-1zM31 21h1v1h-1zM34 23h1v1h-1z"/>
<path fill="#433e85" d="M4 2h1v1h-1zM6 2h2v1h-2zM9 2h3v1h-3zM25 3h1v1h-1zM30 4h1v1h-1zM33 5h1v1h-1zM45 8h1v1h-1zM14 15h1v1h-1zM20 17h1v1h-1zM23 18h1v1h-1zM25 19h1v1h-1zM30 22h1v1h-1zM33 24h1v1h-1z"/>
<path fill="#443b84" d="M5 2h1v1h-1zM19 2h1v1h-1zM26 3h1v1h-1zM34 5h1v1h-1zM39 6h1v1h-1zM42 7h2v1h-2zM46 7h1v1h-1zM49 7h1v1h-1zM0 11h1v1h-1zM12 15h2v1h-2zM17 16h1v1h-1zM26 20h1v1h-1zM28 21h1v1h-1z"/>
<path fill="#424086" d="M8 2h1v1h-1zM12 2h2v1h-2zM18 2h1v1h-1zM24 3h1v1h-1zM38 6h1v1h-1zM41 7h1v1h-1zM47 8h1v1h-1zM4 14h1v1h-1zM15 15h1v1h-1z"/>
<path fill="#404588" d="M15 2h2v1h-2zM22 3h2v1h-2zM28 4h1v1h-1zM31 5h1v1h-1zM35 6h1v1h-1zM40 7h1v1h-1zM46 8h1v1h-1zM49 8h1v1h-1zM19 16h1v1h-1zM24 18h1v1h-1zM31 22h1v1h-1zM34 24h1v1h-1z"/>
<path fill="#463480" d="M21 2h2v1h-2zM38 5h1v1h-1zM41 6h1v1h-1zM49 6h1v1h-1zM45 7h1v1h-1zM1 12h1v1h-1zM5 15h1v1h-1zM18 17h1v1h-1zM21 18h1v1h-1z"/>
<path fill="#48c16e" d="M0 3h1v1h-1zM15 7h1v1h-1zM15 8h1v1h-1z"/>
<path fill="#1f958b" d="M1 3h1v1h-1zM7 5h1v1h-1zM10 5h5v1h-5zM19 6h1v1h-1zM25 9h1v1h-1zM4 11h1v1h-1zM18 11h1v1h-1zM22 12h1v1h-1zM24 12h1v1h-1zM26 12h1v1h-1zM49 24h1v1h-1z"/>
<path fill="#2b748e" d="M2 3h1v1h-1zM5 4h3v1h-3zM10 4h2v1h-2zM16 4h1v1h-1zM24 6h1v1h-1zM28 8h1v1h-1zM31 9h1v1h-1zM35 11h1v1h-1zM4 12h1v1h-1zM38 12h3v1h-3zM43 13h1v1h-1zM22 14h1v1h-1zM46 14h1v1h-1zM25 15h1v1h-1zM28 16h1v1h-1zM30 17h1v1h-1zM33 19h1v1h-1z"/>
<path fill="#34618d" d="M3 3h1v1h-1zM27 6h1v1h-1zM38 9h1v1h-1zM46 11h1v1h-1zM5 13h1v1h-1zM9 13h2v1h-2zM18 14h1v1h-1zM21 15h1v1h-1zM24 16h1v1h-1zM26 17h1v1h-1zM33 21h1v1h-1zM35 22h1v1h-1zM37 23h1v1h-1z"/>
<path fill="#38598c" d="M4 3h1v1h-1zM8 3h2v1h-2zM12 3h1v1h-1zM17 3h1v1h-1zM22 4h1v1h-1zM38 8h1v1h-1zM41 9h1v1h-1zM44 10h1v1h-1zM46 10h1v1h-1zM4 13h1v1h-1zM25 17h1v1h-1zM29 19h1v1h-1zM32 21h1v1h-1zM38 24h1v1h-1z"/>
<path fill="#3a548c" d="M5 3h1v1h-1zM18 3h1v1h-1zM27 5h1v1h-1zM34 7h1v1h-1zM39 8h1v1h-1zM42 9h1v1h-1zM45 10h1v1h-1zM47 10h3v1h-3zM1 11h1v1h-1zM2 12h1v1h-1zM22 16h1v1h-1zM28 19h1v1h-1zM30 20h1v1h-1zM33 22h1v1h-1zM37 24h1v1h-1z"/>
<path fill="#39568c" d="M6 3h2v1h-2zM10 3h2v1h-2zM23 4h1v1h-1zM30 6h1v1h-1zM33 7h1v1h-1zM16 14h1v1h-1zM19 15h1v1h-1zM35 23h1v1h-1z"/>
<path fill="#375b8d" d="M13 3h4v1h-4zM21 4h1v1h-1zM26 5h1v1h-1zM29 6h1v1h-1zM32 7h1v1h-1zM36 8h2v1h-2zM17 14h1v1h-1zM20 15h1v1h-1zM23 16h1v1h-1zM27 18h1v1h-1zM34 22h1v1h-1z"/>
<path fill="#3d4e8a" d="M19 3h1v1h-1zM25 4h1v1h-1zM29 5h1v1h-1zM32 6h1v1h-1zM41 8h1v1h-1zM44 9h1v1h-1zM46 9h1v1h-1zM7 14h1v1h-1zM11 14h3v1h-3zM27 19h1v1h-1zM29 20h1v1h-1zM32 22h1v1h-1z"/>
<path fill="#3f4788" d="M21 3h1v1h-1zM27 4h1v1h-1zM34 6h1v1h-1zM42 8h2v1h-2zM5 14h1v1h-1zM16 15h1v1h-1zM22 17h1v1h-1zM26 19h1v1h-1zM28 20h1v1h-1z"/>
<path fill="#443983" d="M27 3h2v1h-2zM31 4h1v1h-1zM48 7h1v1h-1zM2 13h1v1h-1zM7 15h5v1h-5zM22 18h1v1h-1zM24 19h1v1h-1zM27 21h1v1h-1zM31 23h1v1h-1z"/>
<path fill="#bade28" d="M0 4h1v1h-1zM1 5h1v1h-1zM3 8h1v1h-1z"/>
<path fill="#4cc26c" d="M1 4h1v1h-1zM14 8h1v1h-1zM2 9h1v1h-1z"/>
<path fill="#1fa188" d="M2 4h1v1h-1zM22 8h1v1h-1zM24 10h1v1h-1zM21 11h2v1h-2z"/>
<path fill="#24878e" d="M3 4h1v1h-1zM28 10h1v1h-1zM30 11h1v1h-1zM29 14h3v1h-3zM47 18h2v1h-2zM45 19h2v1h-2zM41 20h2v1h-2zM44 20h1v1h-1zM44 21h1v1h-1zM45 23h1v1h-1z"/>
<path fill="#287c8e" d="M4 4h1v1h-1zM23 6h1v1h-1zM29 9h1v1h-1zM31 10h1v1h-1zM32 11h1v1h-1zM5 12h3v1h-3zM16 12h1v1h-1zM35 13h1v1h-1zM24 14h1v1h-1zM36 14h4v1h-4zM42 14h1v1h-1zM27 15h1v1h-1zM44 15h1v1h-1zM30 16h1v1h-1zM49 16h1v1h-1zM33 17h1v1h-1zM34 18h1v1h-1zM38 21h1v1h-1z"/>
<path fill="#2a768e" d="M8 4h2v1h-2zM12 4h4v1h-4zM20 5h1v1h-1zM26 7h1v1h-1zM32 10h1v1h-1zM2 11h1v1h-1zM34 11h1v1h-1zM36 12h2v1h-2zM42 13h1v1h-1zM45 14h1v1h-1zM49 15h1v1h-1zM32 18h1v1h-1zM36 21h1v1h-1zM39 22h1v1h-1z"/>
<path fill="#2d718e" d="M17 4h1v1h-1zM21 5h1v1h-1zM34 10h1v1h-1zM38 11h2v1h-2zM42 12h1v1h-1zM21 14h1v1h-1zM49 14h1v1h-1zM34 20h1v1h-1zM38 22h1v1h-1zM43 24h1v1h-1z"/>
<path fill="#32658e" d="M19 4h1v1h-1zM32 8h1v1h-1zM36 9h2v1h-2zM47 12h2v1h-2zM22 15h1v1h-1zM29 18h1v1h-1zM32 20h1v1h-1zM38 23h1v1h-1z"/>
<path fill="#355f8d" d="M20 4h1v1h-1zM25 5h1v1h-1zM28 6h1v1h-1zM31 7h1v1h-1zM34 8h1v1h-1zM39 9h1v1h-1zM42 10h1v1h-1zM45 11h1v1h-1zM28 18h1v1h-1zM30 19h1v1h-1zM39 24h1v1h-1z"/>
<path fill="#3b528b" d="M24 4h1v1h-1zM28 5h1v1h-1zM31 6h1v1h-1zM35 7h1v1h-1zM43 9h1v1h-1zM15 14h1v1h-1zM24 17h1v1h-1zM26 18h1v1h-1zM36 24h1v1h-1z"/>
<path fill="#3e4c8a" d="M26 4h1v1h-1zM33 6h1v1h-1zM38 7h1v1h-1zM47 9h3v1h-3zM6 14h1v1h-1zM8 14h3v1h-3zM17 15h1v1h-1zM20 16h1v1h-1zM23 17h1v1h-1zM25 18h1v1h-1z"/>
<path fill="#fde725" d="M0 5h1v1h-1zM1 6h1v1h-1z"/>
<path fill="#65cb5e" d="M2 5h1v1h-1zM8 7h2v1h-2zM9 8h2v1h-2z"/>
<path fill="#2eb37c" d="M3 5h1v1h-1zM11 6h3v1h-3zM0 8h1v1h-1zM19 8h1v1h-1zM19 9h2v1h-2zM6 10h1v1h-1z"/>
<path fill="#20a486" d="M4 5h1v1h-1zM14 10h2v1h-2zM18 10h1v1h-1zM23 10h1v1h-1z"/>
<path fill="#1e9b8a" d="M5 5h1v1h-1zM18 6h1v1h-1zM24 9h1v1h-1zM25 10h1v1h-1zM19 11h1v1h-1z"/>
<path fill="#1f978b" d="M6 5h1v1h-1zM9 5h1v1h-1zM6 11h2v1h-2zM26 11h1v1h-1zM25 12h1v1h-1z"/>
<path fill="#1f998a" d="M8 5h1v1h-1zM21 7h1v1h-1zM23 8h1v1h-1zM5 11h1v1h-1z"/>
<path fill="#20938c" d="M15 5h1v1h-1zM26 10h1v1h-1zM8 11h1v1h-1zM23 12h1v1h-1zM48 22h1v1h-1zM48 23h2v1h-2zM48 24h1v1h-1z"/>
<path fill="#218f8d" d="M16 5h1v1h-1zM12 11h5v1h-5zM27 11h1v1h-1zM20 12h1v1h-1zM28 12h1v1h-1zM48 20h1v1h-1zM47 21h1v1h-1zM49 21h1v1h-1zM47 23h1v1h-1z"/>
<path fill="#23898e" d="M17 5h1v1h-1zM29 11h1v1h-1zM19 12h1v1h-1zM31 12h1v1h-1zM24 13h1v1h-1zM31 13h1v1h-1zM47 19h1v1h-1zM49 19h1v1h-1zM45 20h2v1h-2zM45 22h1v1h-1zM46 23h1v1h-1z"/>
<path fill="#25838e" d="M18 5h1v1h-1zM24 7h1v1h-1zM27 9h1v1h-1zM29 10h1v1h-1zM31 11h1v1h-1zM18 12h1v1h-1zM32 13h1v1h-1zM26 14h2v1h-2zM32 14h1v1h-1zM31 15h1v1h-1zM40 17h3v1h-3zM45 17h1v1h-1zM47 17h2v1h-2zM39 18h1v1h-1zM43 18h2v1h-2zM46 18h1v1h-1zM39 19h1v1h-1zM43 19h1v1h-1zM39 20h1v1h-1zM40 21h1v1h-1z"/>
<path fill="#277e8e" d="M19 5h1v1h-1zM25 7h1v1h-1zM28 9h1v1h-1zM17 12h1v1h-1zM33 12h1v1h-1zM20 13h1v1h-1zM34 13h1v1h-1zM34 14h2v1h-2zM40 14h2v1h-2zM28 15h1v1h-1zM34 15h5v1h-5zM43 15h1v1h-1zM32 16h3v1h-3zM36 16h3v1h-3zM46 16h3v1h-3zM34 17h1v1h-1zM35 19h1v1h-1zM41 22h1v1h-1z"/>
<path fill="#2e6d8e" d="M22 5h1v1h-1zM36 10h2v1h-2zM41 11h1v1h-1zM17 13h1v1h-1zM47 13h2v1h-2zM20 14h1v1h-1zM26 16h1v1h-1zM35 21h1v1h-1zM37 22h1v1h-1zM42 24h1v1h-1z"/>
<path fill="#30698e" d="M23 5h1v1h-1zM26 6h1v1h-1zM34 9h1v1h-1zM39 10h1v1h-1zM42 11h1v1h-1zM46 12h1v1h-1zM16 13h1v1h-1zM23 15h1v1h-1z"/>
<path fill="#33638d" d="M24 5h1v1h-1zM30 7h1v1h-1zM33 8h1v1h-1zM41 10h1v1h-1zM44 11h1v1h-1zM49 12h1v1h-1zM6 13h3v1h-3zM11 13h4v1h-4zM40 24h1v1h-1z"/>
<path fill="#f4e61e" d="M0 6h1v1h-1z"/>
<path fill="#cae11f" d="M2 6h1v1h-1z"/>
<path fill="#81d34d" d="M3 6h1v1h-1z"/>
<path fill="#5cc863" d="M4 6h1v1h-1zM10 7h1v1h-1zM11 8h1v1h-1zM6 9h1v1h-1z"/>
<path fill="#44bf70" d="M5 6h1v1h-1zM8 9h3v1h-3z"/>
<path fill="#37b878" d="M6 6h1v1h-1zM17 8h1v1h-1zM13 9h1v1h-1z"/>
<path fill="#34b679" d="M7 6h3v1h-3zM14 9h1v1h-1zM4 10h2v1h-2z"/>
<path fill="#31b57b" d="M10 6h1v1h-1zM17 7h1v1h-1zM18 8h1v1h-1zM15 9h1v1h-1z"/>
<path fill="#2cb17e" d="M14 6h1v1h-1zM16 9h1v1h-1zM18 9h1v1h-1z"/>
<path fill="#27ad81" d="M15 6h1v1h-1zM18 7h1v1h-1zM21 9h1v1h-1z"/>
<path fill="#22a884" d="M16 6h1v1h-1zM19 7h1v1h-1zM21 8h1v1h-1zM22 9h1v1h-1zM11 10h1v1h-1zM19 10h1v1h-1z"/>
<path fill="#1fa287" d="M17 6h1v1h-1zM20 7h1v1h-1zM23 9h1v1h-1zM16 10h2v1h-2z"/>
<path fill="#228d8d" d="M20 6h1v1h-1zM29 12h2v1h-2zM25 13h2v1h-2zM47 20h1v1h-1zM49 20h1v1h-1zM47 24h1v1h-1z"/>
<path fill="#25858e" d="M21 6h1v1h-1zM0 9h1v1h-1zM22 13h2v1h-2zM28 14h1v1h-1zM40 18h3v1h-3zM45 18h1v1h-1zM49 18h1v1h-1zM40 19h3v1h-3zM44 19h1v1h-1zM40 20h1v1h-1zM43 20h1v1h-1zM41 21h3v1h-3zM44 22h1v1h-1zM46 24h1v1h-1z"/>
<path fill="#27808e" d="M22 6h1v1h-1zM33 13h1v1h-1zM25 14h1v1h-1zM33 14h1v1h-1zM29 15h1v1h-1zM33 15h1v1h-1zM39 15h4v1h-4zM31 16h1v1h-1zM35 16h1v1h-1zM39 16h1v1h-1zM43 16h3v1h-3zM35 17h4v1h-4zM35 18h1v1h-1z"/>
<path fill="#2e6f8e" d="M25 6h1v1h-1zM27 7h1v1h-1zM30 8h1v1h-1zM32 9h1v1h-1zM35 10h1v1h-1zM40 11h1v1h-1zM43 12h1v1h-1zM45 13h2v1h-2zM24 15h1v1h-1zM29 17h1v1h-1zM32 19h1v1h-1zM40 23h1v1h-1z"/>
<path fill="#95d840" d="M0 7h1v1h-1z"/>
<path fill="#d5e21a" d="M1 7h1v1h-1z"/>
<path fill="#eae51a" d="M2 7h1v1h-1z"/>
<path fill="#d0e11c" d="M3 7h1v1h-1z"/>
<path fill="#aadc32" d="M4 7h1v1h-1zM2 8h1v1h-1z"/>
<path fill="#8bd646" d="M5 7h1v1h-1z"/>
<path fill="#73d056" d="M6 7h1v1h-1zM4 9h1v1h-1z"/>
<path fill="#69cd5b" d="M7 7h1v1h-1zM8 8h1v1h-1z"/>
<path fill="#58c765" d="M11 7h2v1h-2z"/>
<path fill="#54c568" d="M13 7h1v1h-1zM12 8h2v1h-2z"/>
<path fill="#50c46a" d="M14 7h1v1h-1zM7 9h1v1h-1z"/>
<path fill="#3dbc74" d="M16 7h1v1h-1zM16 8h1v1h-1zM11 9h1v1h-1z"/>
<path fill="#228b8d" d="M23 7h1v1h-1zM25 8h1v1h-1zM26 9h1v1h-1zM27 10h1v1h-1zM3 11h1v1h-1zM28 11h1v1h-1zM27 13h4v1h-4zM48 19h1v1h-1zM45 21h2v1h-2zM46 22h1v1h-1z"/>
<path fill="#6ece58" d="M1 8h1v1h-1zM3 9h1v1h-1zM5 9h1v1h-1z"/>
<path fill="#b0dd2f" d="M4 8h1v1h-1z"/>
<path fill="#9bd93c" d="M5 8h1v1h-1z"/>
<path fill="#86d549" d="M6 8h1v1h-1z"/>
<path fill="#77d153" d="M7 8h1v1h-1z"/>
<path fill="#29af7f" d="M20 8h1v1h-1zM17 9h1v1h-1zM3 10h1v1h-1zM7 10h1v1h-1z"/>
<path fill="#26828e" d="M26 8h1v1h-1zM30 10h1v1h-1zM32 12h1v1h-1zM21 13h1v1h-1zM30 15h1v1h-1zM32 15h1v1h-1zM40 16h3v1h-3zM39 17h1v1h-1zM43 17h2v1h-2zM46 17h1v1h-1zM49 17h1v1h-1zM36 18h3v1h-3zM36 19h3v1h-3zM36 20h3v1h-3zM39 21h1v1h-1zM42 22h2v1h-2zM44 23h1v1h-1zM45 24h1v1h-1z"/>
<path fill="#297a8e" d="M27 8h1v1h-1zM1 10h1v1h-1zM33 11h1v1h-1zM8 12h1v1h-1zM15 12h1v1h-1zM34 12h1v1h-1zM36 13h2v1h-2zM39 13h2v1h-2zM43 14h1v1h-1zM45 15h4v1h-4zM31 17h2v1h-2zM34 19h1v1h-1zM40 22h1v1h-1zM43 23h1v1h-1zM44 24h1v1h-1z"/>
<path fill="#2c728e" d="M29 8h1v1h-1zM33 10h1v1h-1zM36 11h2v1h-2zM41 12h1v1h-1zM18 13h1v1h-1zM44 13h1v1h-1zM47 14h2v1h-2zM27 16h1v1h-1zM31 18h1v1h-1zM41 23h1v1h-1z"/>
<path fill="#365d8d" d="M35 8h1v1h-1zM40 9h1v1h-1zM0 10h1v1h-1zM43 10h1v1h-1zM47 11h3v1h-3zM31 20h1v1h-1zM36 23h1v1h-1z"/>
<path fill="#21a685" d="M1 9h1v1h-1zM12 10h2v1h-2z"/>
<path fill="#3aba76" d="M12 9h1v1h-1z"/>
<path fill="#2a788e" d="M30 9h1v1h-1zM9 12h6v1h-6zM35 12h1v1h-1zM19 13h1v1h-1zM38 13h1v1h-1zM41 13h1v1h-1zM23 14h1v1h-1zM44 14h1v1h-1zM26 15h1v1h-1zM29 16h1v1h-1zM33 18h1v1h-1zM35 20h1v1h-1zM37 21h1v1h-1zM42 23h1v1h-1z"/>
<path fill="#1e9d89" d="M2 10h1v1h-1zM24 11h2v1h-2z"/>
<path fill="#25ac82" d="M8 10h1v1h-1zM20 10h2v1h-2z"/>
<path fill="#24aa83" d="M9 10h2v1h-2zM22 10h1v1h-1z"/>
<path fill="#1f9f88" d="M20 11h1v1h-1zM23 11h1v1h-1z"/>
<path fill="#46075a" d="M0 15h2v1h-2zM2 17h1v1h-1zM3 18h1v1h-1zM4 19h1v1h-1zM5 20h1v1h-1zM6 21h8v1h-8zM12 22h4v1h-4zM16 23h1v1h-1zM17 24h1v1h-1z"/>
<path fill="#450457" d="M0 16h2v1h-2zM0 17h1v1h-1zM2 18h1v1h-1zM3 19h1v1h-1zM3 20h2v1h-2zM4 21h2v1h-2zM5 22h7v1h-7zM5 23h11v1h-11zM6 24h11v1h-11z"/>
<path fill="#440154" d="M1 17h1v1h-1zM0 18h2v1h-2zM0 19h3v1h-3zM0 20h3v1h-3zM0 21h4v1h-4zM0 22h5v1h-5zM0 23h5v1h-5zM0 24h6v1h-6z"/>
</g>
<polyline points="1028.5,1409.2 1044.4,1420.1 1060.3,1428.2 1076.2,1433.7 1092.2,1438.0 1108.1,1441.3 1124.0,1442.4 1139.9,1441.3 1155.9,1439.1 1171.8,1438.7 1187.7,1438.7 1203.6,1438.0 1219.5,1437.4 1235.5,1437.6 1251.4,1437.4 1267.3,1438.0 1283.2,1438.7 1299.2,1439.8 1315.1,1442.4 1331.0,1445.7 1346.9,1449.4 1362.9,1451.8 1378.8,1454.0 1394.7,1454.9 1410.6,1458.1 1426.6,1462.1 1442.5,1466.5 1458.4,1470.8 1474.3,1474.5 1490.3,1477.8 1506.2,1482.2 1522.1,1485.5 1538.0,1486.8 1554.0,1487.9 1569.9,1489.0 1585.8,1492.0 1601.7,1495.3 1617.7,1497.1 1633.6,1501.4 1649.5,1507.6 1665.4,1511.9 1681.3,1516.1 1697.3,1521.6 1713.2,1522.9 1729.1,1526.2 1745.0,1529.4 1761.0,1528.3 1776.9,1532.7 1792.8,1531.4 1808.7,1531.6" fill="none" stroke="#0000ff" stroke-width="2.45" stroke-dasharray="9.1 3.9" stroke-linejoin="round"/>
<polyline points="1028.5,1465.4 1044.4,1478.5 1060.3,1488.3 1076.2,1496.4 1092.2,1503.2 1108.1,1509.5 1124.0,1513.9 1139.9,1515.7 1155.9,1515.7 1171.8,1516.3 1187.7,1517.8 1203.6,1518.9 1219.5,1518.9 1235.5,1518.9 1251.4,1519.4 1267.3,1520.7 1283.2,1523.8 1299.2,1527.7 1315.1,1532.5 1331.0,1536.4 1346.9,1541.5 1362.9,1546.9 1378.8,1552.4 1394.7,1557.2 1410.6,1564.9 1426.6,1569.9 1442.5,1578.4 1458.4,1587.2 1474.3,1591.8 1490.3,1595.0 1506.2,1598.8 1522.1,1604.2 1538.0,1611.9 1554.0,1616.3 1569.9,1619.5 1585.8,1623.5 1601.7,1628.3 1617.7,1629.4 1633.6,1632.7 1649.5,1635.5 1665.4,1637.0 1681.3,1639.9 1697.3,1644.7 1713.2,1646.9 1729.1,1650.1 1745.0,1652.3 1761.0,1654.1 1776.9,1656.0 1792.8,1655.0 1808.7,1658.9" fill="none" stroke="#0000ff" stroke-width="2.45" stroke-dasharray="9.1 3.9" stroke-linejoin="round"/>
<polyline points="1028.5,1437.4 1044.4,1449.4 1060.3,1457.7 1076.2,1464.9 1092.2,1470.2 1108.1,1474.5 1124.0,1477.4 1139.9,1477.0 1155.9,1475.2 1171.8,1475.2 1187.7,1476.3 1203.6,1475.9 1219.5,1475.2 1235.5,1475.9 1251.4,1476.3 1267.3,1477.0 1283.2,1478.5 1299.2,1480.7 1315.1,1484.0 1331.0,1487.7 1346.9,1492.0 1362.9,1496.4 1378.8,1501.0 1394.7,1503.0 1410.6,1508.4 1426.6,1514.6 1442.5,1522.2 1458.4,1529.2 1474.3,1534.7 1490.3,1537.5 1506.2,1540.2 1522.1,1545.6 1538.0,1550.6 1554.0,1552.8 1569.9,1555.0 1585.8,1559.0 1601.7,1564.9 1617.7,1567.5 1633.6,1571.4 1649.5,1576.9 1665.4,1579.1 1681.3,1582.4 1697.3,1587.2 1713.2,1589.4 1729.1,1592.2 1745.0,1593.9 1761.0,1597.7 1776.9,1599.8 1792.8,1598.8 1808.7,1602.5" fill="none" stroke="#000" stroke-width="2.45" stroke-dasharray="9.1 3.9" stroke-linejoin="round"/>
<rect x="1020.5" y="1344.4" width="796.2" height="357.0" fill="none" stroke="#000" stroke-width="1.2"/>
<path d="M1142.60 1701.4v5.8M1290.10 1701.4v5.8M1437.60 1701.4v5.8M1585.10 1701.4v5.8M1732.60 1701.4v5.8M1020.5 1356.80h-5.8M1020.5 1442.60h-5.8M1020.5 1528.40h-5.8M1020.5 1614.20h-5.8M1020.5 1700.00h-5.8" stroke="#000" stroke-width="1.2" fill="none"/>
<g font-size="26.7" text-anchor="middle">
<text transform="translate(1142.6,1733.8) scale(0.96,1)">0.05</text>
<text transform="translate(1290.1,1733.8) scale(0.96,1)">0.10</text>
<text transform="translate(1437.6,1733.8) scale(0.96,1)">0.15</text>
<text transform="translate(1585.1,1733.8) scale(0.96,1)">0.20</text>
<text transform="translate(1732.6,1733.8) scale(0.96,1)">0.25</text>
</g>
<g font-size="26.7" text-anchor="end">
<text transform="translate(1010.6,1367.9) scale(0.96,1)">2</text>
<text transform="translate(1010.6,1453.7) scale(0.96,1)">0</text>
<text transform="translate(1010.6,1539.5) scale(0.96,1)">−2</text>
<text transform="translate(1010.6,1625.3) scale(0.96,1)">−4</text>
<text transform="translate(1010.6,1711.1) scale(0.96,1)">−6</text>
</g>
<text x="1419.6" y="1764.2" font-size="25.8" text-anchor="middle">SFD</text>
<text transform="translate(961.1,1523.8) rotate(-90) scale(0.956,1)" font-size="23.65" text-anchor="middle">(Map15&#39; - SFD)/SigmaMap15&#39;</text>
</svg>
</body></html>
